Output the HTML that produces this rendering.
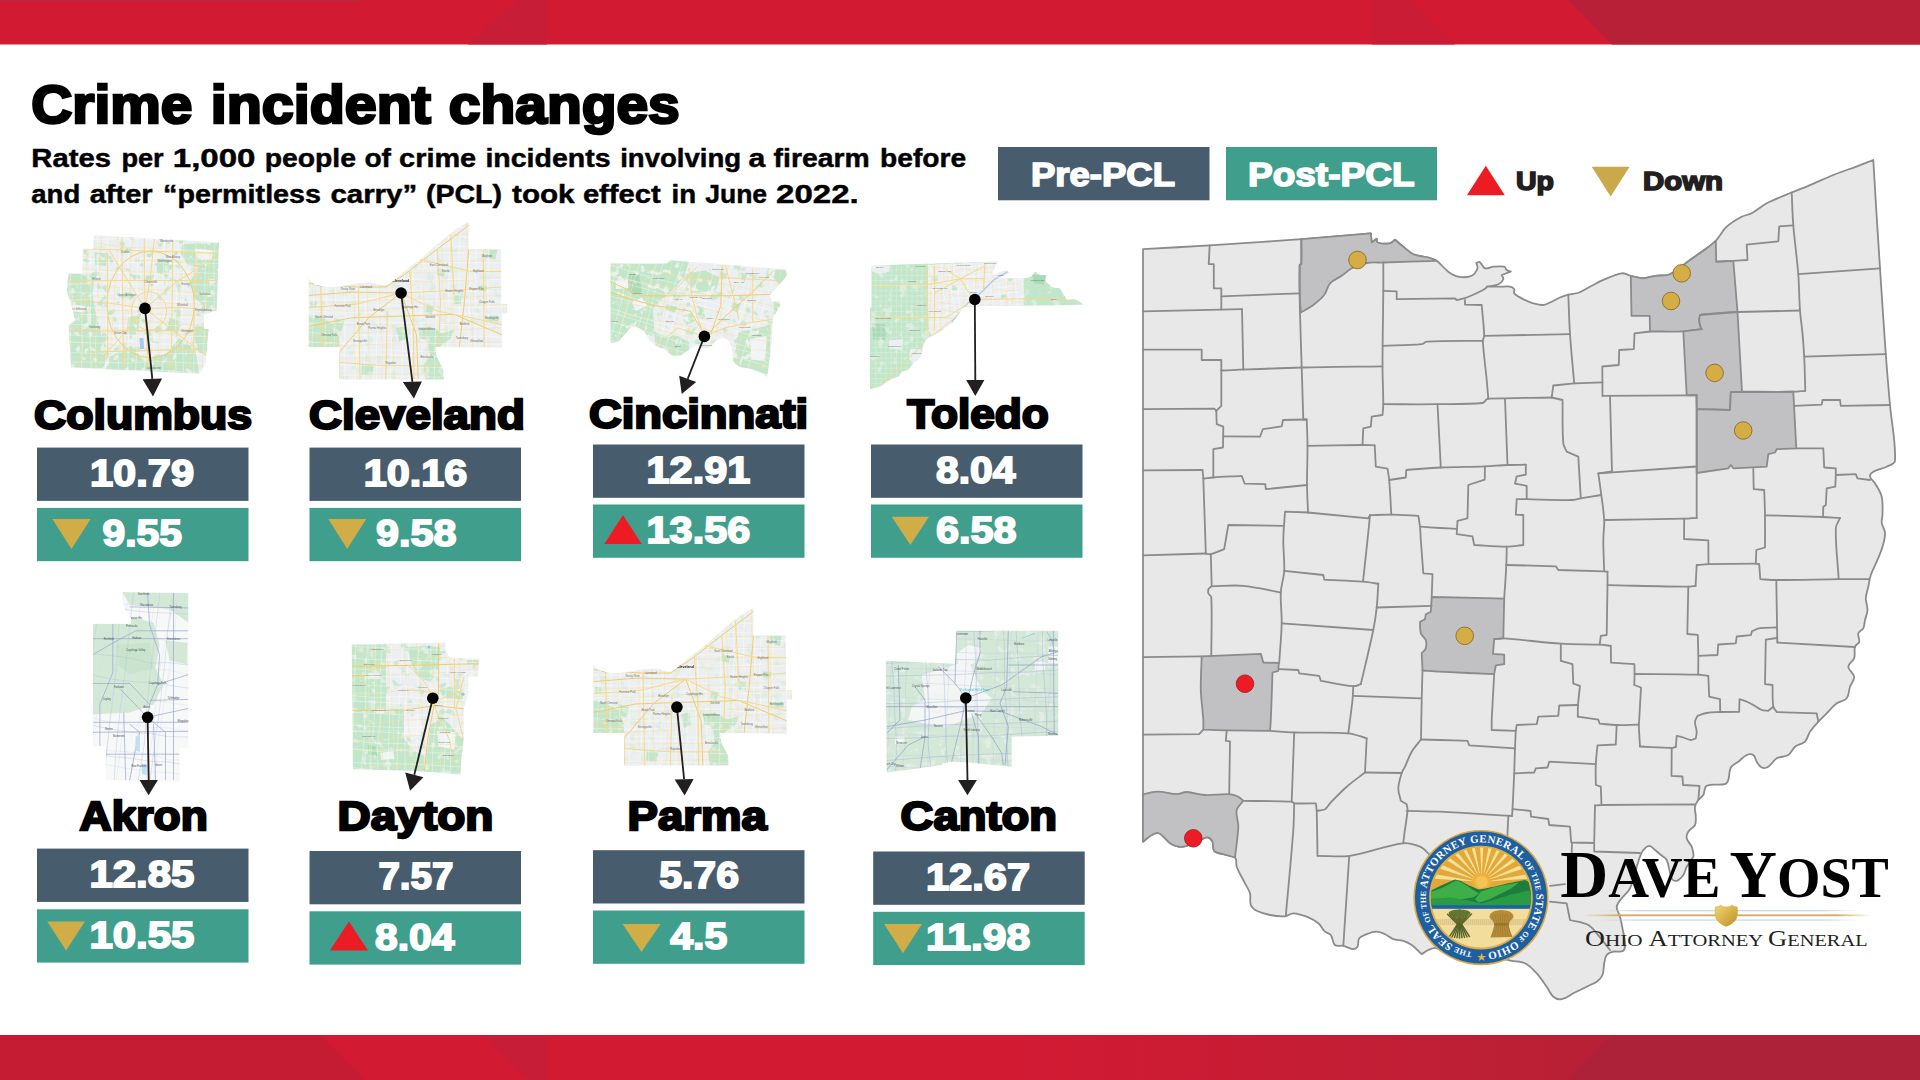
<!DOCTYPE html>
<html lang="en"><head><meta charset="utf-8"><title>Crime incident changes</title>
<style>
html,body{margin:0;padding:0;background:#fff;}
body{width:1920px;height:1080px;overflow:hidden;position:relative;font-family:"Liberation Sans",sans-serif;}
svg{position:absolute;left:0;top:0;display:block}
.h{font-family:"Liberation Sans",sans-serif;font-weight:700;fill:#000;stroke:#000;stroke-linejoin:miter;stroke-miterlimit:2.2;}
.w{font-family:"Liberation Sans",sans-serif;font-weight:700;fill:#fff;stroke:#fff;stroke-linejoin:miter;stroke-miterlimit:2.2;}
.s{font-family:"Liberation Sans",sans-serif;font-weight:700;fill:#000;stroke:#000;stroke-width:.45}
.co{fill:#e8e8e8;stroke:#8b8b8b;stroke-width:1.8;stroke-linejoin:round}
.cd{fill:#c1c1c3;stroke:#8b8b8b;stroke-width:1.8;stroke-linejoin:round}
.cl{fill:none;stroke:#8b8b8b;stroke-width:1.8;stroke-linejoin:round;stroke-linecap:round}
.dg{fill:#d6ad45;stroke:#7d6420;stroke-width:.8}
.dr{fill:#ed1c24;stroke:#9c1a1e;stroke-width:.8}
.ar{stroke:#231f20;stroke-width:1.8;fill:none}
.ah{fill:#231f20}
.serif{font-family:"Liberation Serif",serif}
</style></head><body>
<svg width="1920" height="1080" viewBox="0 0 1920 1080">
<defs>
<linearGradient id="gb" x1="0" x2="1" y1="0" y2="0"><stop offset="0" stop-color="#d31a33"/><stop offset=".52" stop-color="#d31a33"/><stop offset=".82" stop-color="#b92035"/><stop offset="1" stop-color="#b32137"/></linearGradient>
</defs>
<g id="bands">
<rect x="0" y="0" width="1920" height="44.5" fill="#d21a33"/>
<polygon points="0,0 360,0 360,1.5 0,1.5" fill="#b52a3c"/>
<polygon points="520,0 547,0 547,44.5 468,44.5" fill="#c81d36"/>
<polygon points="1372,0 1410,0 1455,44.5 1372,44.5" fill="#cb1c35"/>
<polygon points="1568,0 1920,0 1920,44.5 1612,44.5" fill="#b72036"/>
<rect x="0" y="1035" width="1920" height="45" fill="url(#gb)"/>
<polygon points="0,1035 320,1035 366,1080 0,1080" fill="#c51c34"/>
<polygon points="482,1035 547,1035 547,1080 528,1080" fill="#c81d36"/>
<polygon points="1612,1035 1920,1035 1920,1080 1568,1080" fill="#ad2238"/>
</g>
<g id="header">
<text class="h" y="122.9" font-size="54.5" stroke-width="2.7"><tspan x="31.3" textLength="161.0" lengthAdjust="spacingAndGlyphs">Crime</tspan> <tspan x="210.8" textLength="220.2" lengthAdjust="spacingAndGlyphs">incident</tspan> <tspan x="448.8" textLength="231.0" lengthAdjust="spacingAndGlyphs">changes</tspan></text>
<text class="s" y="167" font-size="25.5" stroke-width="0.7"><tspan x="31.3" textLength="79.6" lengthAdjust="spacingAndGlyphs">Rates</tspan> <tspan x="121.4" textLength="42.3" lengthAdjust="spacingAndGlyphs">per</tspan> <tspan x="172.8" textLength="82.7" lengthAdjust="spacingAndGlyphs">1,000</tspan> <tspan x="264.7" textLength="91.3" lengthAdjust="spacingAndGlyphs">people</tspan> <tspan x="364.4" textLength="26.6" lengthAdjust="spacingAndGlyphs">of</tspan> <tspan x="399.1" textLength="77.1" lengthAdjust="spacingAndGlyphs">crime</tspan> <tspan x="485.4" textLength="125.1" lengthAdjust="spacingAndGlyphs">incidents</tspan> <tspan x="620.2" textLength="121.0" lengthAdjust="spacingAndGlyphs">involving</tspan> <tspan x="748.6" textLength="16.8" lengthAdjust="spacingAndGlyphs">a</tspan> <tspan x="773.6" textLength="96.0" lengthAdjust="spacingAndGlyphs">firearm</tspan> <tspan x="880.1" textLength="86.1" lengthAdjust="spacingAndGlyphs">before</tspan></text>
<text class="s" y="203" font-size="25.5" stroke-width="0.7"><tspan x="31.3" textLength="48.9" lengthAdjust="spacingAndGlyphs">and</tspan> <tspan x="89.7" textLength="63.0" lengthAdjust="spacingAndGlyphs">after</tspan> <tspan x="163.1" textLength="157.9" lengthAdjust="spacingAndGlyphs">“permitless</tspan> <tspan x="330.4" textLength="86.8" lengthAdjust="spacingAndGlyphs">carry”</tspan> <tspan x="425.9" textLength="76.1" lengthAdjust="spacingAndGlyphs">(PCL)</tspan> <tspan x="512.0" textLength="62.6" lengthAdjust="spacingAndGlyphs">took</tspan> <tspan x="582.9" textLength="77.8" lengthAdjust="spacingAndGlyphs">effect</tspan> <tspan x="671.6" textLength="24.6" lengthAdjust="spacingAndGlyphs">in</tspan> <tspan x="705.2" textLength="61.9" lengthAdjust="spacingAndGlyphs">June</tspan> <tspan x="776.1" textLength="82.6" lengthAdjust="spacingAndGlyphs">2022.</tspan></text>
</g>
<g id="legend">
<rect x="998" y="147" width="211.5" height="53.3" fill="#475c6c"/>
<rect x="1226" y="147" width="211" height="53.3" fill="#409e8c"/>
<text class="w" x="1031.0" y="185.9" font-size="33.3" stroke-width="1.6" textLength="144.0" lengthAdjust="spacingAndGlyphs">Pre-PCL</text>
<text class="w" x="1248.0" y="185.9" font-size="33.3" stroke-width="1.6" textLength="166.5" lengthAdjust="spacingAndGlyphs">Post-PCL</text>
<polygon points="1485.8,165.8 1504.8,195.2 1466.9,195.2" fill="#ed1c24"/>
<polygon points="1591.7,166.7 1629.6,166.7 1610.7,196.4" fill="#cba84a"/>
<text class="h" x="1516.0" y="189.8" font-size="25.5" stroke-width="1.6" textLength="38.0" lengthAdjust="spacingAndGlyphs" style="fill:#231f20;stroke:#231f20">Up</text>
<text class="h" x="1643.0" y="189.8" font-size="25.5" stroke-width="1.6" textLength="80.0" lengthAdjust="spacingAndGlyphs" style="fill:#231f20;stroke:#231f20">Down</text>
</g>
<g id="cities">
<rect x="37" y="447.6" width="211.5" height="53.3" fill="#475c6c"/>
<rect x="37" y="507.9" width="211.5" height="53.3" fill="#409e8c"/>
<text class="h" x="34.0" y="428.8" font-size="40.4" stroke-width="2.3" textLength="218.2" lengthAdjust="spacingAndGlyphs">Columbus</text>
<text class="w" x="90.0" y="485.8" font-size="37.5" stroke-width="1.8" textLength="104.0" lengthAdjust="spacingAndGlyphs">10.79</text>
<text class="w" x="102.6" y="546.1" font-size="37.5" stroke-width="1.8" textLength="79.4" lengthAdjust="spacingAndGlyphs">9.55</text>
<polygon points="52.4,518.9 90.6,518.9 71.5,548.9" fill="#d1ad48"/>
<rect x="309.5" y="447.6" width="211.5" height="53.3" fill="#475c6c"/>
<rect x="309.5" y="507.9" width="211.5" height="53.3" fill="#409e8c"/>
<text class="h" x="309.0" y="428.8" font-size="40.4" stroke-width="2.3" textLength="215.8" lengthAdjust="spacingAndGlyphs">Cleveland</text>
<text class="w" x="363.8" y="485.8" font-size="37.5" stroke-width="1.8" textLength="103.6" lengthAdjust="spacingAndGlyphs">10.16</text>
<text class="w" x="376.0" y="546.1" font-size="37.5" stroke-width="1.8" textLength="80.4" lengthAdjust="spacingAndGlyphs">9.58</text>
<polygon points="328.3,518.9 366.2,518.9 347.2,548.9" fill="#d1ad48"/>
<rect x="593" y="444.5" width="211.5" height="53.3" fill="#475c6c"/>
<rect x="593" y="504.5" width="211.5" height="53.3" fill="#409e8c"/>
<text class="h" x="589.0" y="427.85" font-size="40.4" stroke-width="2.3" textLength="219.2" lengthAdjust="spacingAndGlyphs">Cincinnati</text>
<text class="w" x="646.6" y="482.7" font-size="37.5" stroke-width="1.8" textLength="103.6" lengthAdjust="spacingAndGlyphs">12.91</text>
<text class="w" x="646.6" y="542.7" font-size="37.5" stroke-width="1.8" textLength="103.6" lengthAdjust="spacingAndGlyphs">13.56</text>
<polygon points="623.0,515 641.7,544 604.3,544" fill="#ed1c24"/>
<rect x="871" y="444.5" width="211.5" height="53.3" fill="#475c6c"/>
<rect x="871" y="504.5" width="211.5" height="53.3" fill="#409e8c"/>
<text class="h" x="907.2" y="427.85" font-size="40.4" stroke-width="2.3" textLength="141.6" lengthAdjust="spacingAndGlyphs">Toledo</text>
<text class="w" x="936.0" y="482.7" font-size="37.5" stroke-width="1.8" textLength="79.4" lengthAdjust="spacingAndGlyphs">8.04</text>
<text class="w" x="936.0" y="542.7" font-size="37.5" stroke-width="1.8" textLength="80.4" lengthAdjust="spacingAndGlyphs">6.58</text>
<polygon points="891.7,516.7 929,516.7 910.4,545" fill="#d1ad48"/>
<rect x="37" y="848.6" width="211.5" height="53.3" fill="#475c6c"/>
<rect x="37" y="909.3" width="211.5" height="53.3" fill="#409e8c"/>
<text class="h" x="79.6" y="829.9" font-size="40.4" stroke-width="2.3" textLength="128.2" lengthAdjust="spacingAndGlyphs">Akron</text>
<text class="w" x="89.4" y="886.8000000000001" font-size="37.5" stroke-width="1.8" textLength="105.0" lengthAdjust="spacingAndGlyphs">12.85</text>
<text class="w" x="89.4" y="947.5" font-size="37.5" stroke-width="1.8" textLength="105.0" lengthAdjust="spacingAndGlyphs">10.55</text>
<polygon points="47.2,921.4 84.9,921.4 66.1,950.5" fill="#d1ad48"/>
<rect x="309.5" y="851" width="211.5" height="53.3" fill="#475c6c"/>
<rect x="309.5" y="911.3" width="211.5" height="53.3" fill="#409e8c"/>
<text class="h" x="337.6" y="829.9" font-size="40.4" stroke-width="2.3" textLength="155.8" lengthAdjust="spacingAndGlyphs">Dayton</text>
<text class="w" x="378.4" y="889.2" font-size="37.5" stroke-width="1.8" textLength="75.0" lengthAdjust="spacingAndGlyphs">7.57</text>
<text class="w" x="375.0" y="949.5" font-size="37.5" stroke-width="1.8" textLength="79.4" lengthAdjust="spacingAndGlyphs">8.04</text>
<polygon points="348.9,921.4 368,950.5 329.9,950.5" fill="#ed1c24"/>
<rect x="593" y="850.2" width="211.5" height="53.3" fill="#475c6c"/>
<rect x="593" y="910.5" width="211.5" height="53.3" fill="#409e8c"/>
<text class="h" x="627.6" y="829.9" font-size="40.4" stroke-width="2.3" textLength="139.2" lengthAdjust="spacingAndGlyphs">Parma</text>
<text class="w" x="659.2" y="888.4000000000001" font-size="37.5" stroke-width="1.8" textLength="79.8" lengthAdjust="spacingAndGlyphs">5.76</text>
<text class="w" x="670.2" y="948.7" font-size="37.5" stroke-width="1.8" textLength="57.0" lengthAdjust="spacingAndGlyphs">4.5</text>
<polygon points="622.5,924 660.6,924 641.5,952" fill="#d1ad48"/>
<rect x="873.2" y="851.5" width="211.5" height="53.3" fill="#475c6c"/>
<rect x="873.2" y="911.8" width="211.5" height="53.3" fill="#409e8c"/>
<text class="h" x="900.6" y="829.9" font-size="40.4" stroke-width="2.3" textLength="156.4" lengthAdjust="spacingAndGlyphs">Canton</text>
<text class="w" x="926.0" y="889.7" font-size="37.5" stroke-width="1.8" textLength="104.0" lengthAdjust="spacingAndGlyphs">12.67</text>
<text class="w" x="926.0" y="950.0" font-size="37.5" stroke-width="1.8" textLength="104.2" lengthAdjust="spacingAndGlyphs">11.98</text>
<polygon points="884.1,924 921.9,924 903.0,953.2" fill="#d1ad48"/>
</g>
<defs><filter id="sb" x="-5%" y="-5%" width="110%" height="110%"><feGaussianBlur stdDeviation="0.5"/></filter>
<filter id="spk" x="0" y="0" width="100%" height="100%" color-interpolation-filters="sRGB"><feTurbulence type="fractalNoise" baseFrequency="0.11" numOctaves="2" seed="7" result="n"/><feColorMatrix in="n" type="matrix" values="0 0 0 0 0.76  0 0 0 0 0.90  0 0 0 0 0.79  0 0 0 9 -5.3" result="g"/><feComposite in="g" in2="SourceGraphic" operator="in"/></filter>
<filter id="spw" x="0" y="0" width="100%" height="100%" color-interpolation-filters="sRGB"><feTurbulence type="fractalNoise" baseFrequency="0.13" numOctaves="2" seed="23" result="n"/><feColorMatrix in="n" type="matrix" values="0 0 0 0 0.94  0 0 0 0 0.95  0 0 0 0 0.95  0 0 0 9 -5.4" result="g"/><feComposite in="g" in2="SourceGraphic" operator="in"/></filter>
</defs>
<g id="thumbs">
<clipPath id="ccol"><path d="M94.0 235.2L219.1 242.3L216.7 310.8L203.9 314.8L203.9 328.4L208.7 329.1C207.9 337.9 207.1 346.7 206.3 355.4C206.1 358.1 206.5 360.9 205.5 363.4C204.0 367.2 201.3 370.3 199.2 373.7L70.9 367.4L68.5 325.2L74.9 320.4C73.6 314.5 72.5 308.6 70.9 302.9C69.9 299.1 67.3 295.6 66.9 291.7C66.5 285.6 68.0 279.5 68.5 273.4L82.1 273.4L82.9 248.7L93.2 248.7L94.0 235.2Z"/></clipPath>
<g id="tcol" clip-path="url(#ccol)"><g filter="url(#sb)">
<polygon points="94.0,235.2 219.1,242.3 216.7,310.8 203.9,314.8 203.9,328.4 208.7,329.1 206.3,355.4 205.5,363.4 199.2,373.7 70.9,367.4 68.5,325.2 74.9,320.4 70.9,302.9 66.9,291.7 68.5,273.4 82.1,273.4 82.9,248.7 93.2,248.7" fill="#eceff1" stroke="#eceff1" stroke-width="3"/>
<rect x="66.9" y="235.2" width="152.1" height="138.6" filter="url(#spk)" opacity="0.9"/>
<polygon points="68.5,273.4 94.8,273.4 92.4,294.9 96.4,317.2 102.8,339.5 109.2,353.8 102.8,368.2 70.9,367.4 68.5,325.2 74.9,320.4 70.9,302.9 66.9,291.7" fill="#c2e6c9"/>
<polygon points="182.4,243.9 219.1,242.7 217.2,310.8 206.3,309.2 193.6,296.5 190.4,280.6 199.2,267.8 187.2,264.6 180.8,253.5" fill="#c2e6c9"/>
<polygon points="109.2,357.0 131.5,345.9 144.2,361.8 166.5,353.8 179.2,337.9 195.2,349.1 199.2,373.7 109.2,369.4" fill="#c2e6c9"/>
<polygon points="195.2,323.6 208.7,329.1 206.3,355.4 198.4,350.7 193.6,336.3" fill="#c2e6c9"/>
<polygon points="156.9,256.7 169.7,259.9 166.5,275.8 156.9,272.6" fill="#c2e6c9"/>
<polygon points="128.3,317.2 141.0,314.0 137.8,329.9 126.7,329.9" fill="#c2e6c9"/>
<polygon points="94.8,251.9 107.6,253.5 106.0,266.2 94.8,264.6" fill="#c2e6c9"/>
<polygon points="169.7,317.2 180.8,323.6 176.1,337.9 166.5,331.5" fill="#c2e6c9"/>
<polygon points="71.7,304.5 85.3,306.1 84.5,312.4 72.5,311.6" fill="#f1f3f4"/>
<polygon points="195.2,248.7 212.7,250.3 211.9,259.9 196.8,258.3" fill="#f1f3f4"/>
<rect x="66.9" y="235.2" width="152.1" height="138.6" filter="url(#spw)" opacity="0.8"/>
<polyline points="73.9,235.2 72.5,262.9 70.5,290.6 67.0,318.3 64.9,346.0 64.9,373.7" fill="none" stroke="#f5e1a6" stroke-width="0.5" stroke-linejoin="round"/>
<polyline points="66.9,241.2 97.4,243.4 127.8,247.5 158.2,248.4 188.6,251.6 219.1,252.9" fill="none" stroke="#f5e1a6" stroke-width="0.5" stroke-linejoin="round"/>
<polyline points="88.0,235.2 87.2,262.9 85.7,290.6 82.8,318.3 81.3,346.0 79.1,373.7" fill="none" stroke="#f5e1a6" stroke-width="0.5" stroke-linejoin="round"/>
<polyline points="66.9,254.0 97.4,258.0 127.8,259.8 158.2,261.3 188.6,262.8 219.1,267.2" fill="none" stroke="#f5e1a6" stroke-width="0.5" stroke-linejoin="round"/>
<polyline points="101.9,235.2 100.2,262.9 97.8,290.6 96.3,318.3 92.9,346.0 91.9,373.7" fill="none" stroke="#f5e1a6" stroke-width="0.5" stroke-linejoin="round"/>
<polyline points="66.9,266.3 97.4,269.8 127.8,271.9 158.2,272.1 188.6,274.5 219.1,276.9" fill="none" stroke="#f5e1a6" stroke-width="0.5" stroke-linejoin="round"/>
<polyline points="119.0,235.2 117.5,262.9 114.6,290.6 113.1,318.3 110.8,346.0 108.7,373.7" fill="none" stroke="#f5e1a6" stroke-width="0.5" stroke-linejoin="round"/>
<polyline points="66.9,283.0 97.4,285.2 127.8,288.3 158.2,289.9 188.6,292.8 219.1,294.8" fill="none" stroke="#f5e1a6" stroke-width="0.5" stroke-linejoin="round"/>
<polyline points="133.7,235.2 130.4,262.9 130.1,290.6 128.3,318.3 126.2,346.0 123.3,373.7" fill="none" stroke="#f5e1a6" stroke-width="0.5" stroke-linejoin="round"/>
<polyline points="66.9,296.1 97.4,297.1 127.8,300.9 158.2,302.4 188.6,303.9 219.1,305.6" fill="none" stroke="#f5e1a6" stroke-width="0.5" stroke-linejoin="round"/>
<polyline points="147.2,235.2 142.9,262.9 142.6,290.6 139.6,318.3 136.9,346.0 135.3,373.7" fill="none" stroke="#f5e1a6" stroke-width="0.5" stroke-linejoin="round"/>
<polyline points="66.9,307.8 97.4,310.3 127.8,310.4 158.2,314.1 188.6,314.9 219.1,318.8" fill="none" stroke="#f5e1a6" stroke-width="0.5" stroke-linejoin="round"/>
<polyline points="156.4,235.2 154.6,262.9 151.4,290.6 150.6,318.3 146.8,346.0 144.2,373.7" fill="none" stroke="#f5e1a6" stroke-width="0.5" stroke-linejoin="round"/>
<polyline points="66.9,316.0 97.4,316.8 127.8,319.5 158.2,322.2 188.6,325.0 219.1,326.1" fill="none" stroke="#f5e1a6" stroke-width="0.5" stroke-linejoin="round"/>
<polyline points="167.8,235.2 164.4,262.9 164.0,290.6 161.8,318.3 158.4,346.0 156.6,373.7" fill="none" stroke="#f5e1a6" stroke-width="0.5" stroke-linejoin="round"/>
<polyline points="66.9,326.2 97.4,328.8 127.8,330.9 158.2,333.0 188.6,335.4 219.1,338.5" fill="none" stroke="#f5e1a6" stroke-width="0.5" stroke-linejoin="round"/>
<polyline points="184.4,235.2 183.1,262.9 179.8,290.6 177.9,318.3 177.6,346.0 174.4,373.7" fill="none" stroke="#f5e1a6" stroke-width="0.5" stroke-linejoin="round"/>
<polyline points="66.9,342.4 97.4,343.3 127.8,346.5 158.2,349.2 188.6,350.0 219.1,353.8" fill="none" stroke="#f5e1a6" stroke-width="0.5" stroke-linejoin="round"/>
<polyline points="198.3,235.2 197.7,262.9 195.3,290.6 193.8,318.3 190.9,346.0 189.8,373.7" fill="none" stroke="#f5e1a6" stroke-width="0.5" stroke-linejoin="round"/>
<polyline points="66.9,356.5 97.4,356.9 127.8,359.2 158.2,363.0 188.6,366.0 219.1,366.4" fill="none" stroke="#f5e1a6" stroke-width="0.5" stroke-linejoin="round"/>
<polyline points="212.0,235.2 209.3,262.9 207.4,290.6 205.2,318.3 203.3,346.0 201.9,373.7" fill="none" stroke="#f5e1a6" stroke-width="0.5" stroke-linejoin="round"/>
<polyline points="66.9,366.6 97.4,369.0 127.8,372.3 158.2,372.6 188.6,376.2 219.1,378.9" fill="none" stroke="#f5e1a6" stroke-width="0.5" stroke-linejoin="round"/>
<polyline points="70.1,235.2 71.6,262.9 69.1,290.6 70.1,318.3 70.8,346.0 68.5,373.7" fill="none" stroke="#ffffff" stroke-width="0.35" stroke-linejoin="round"/>
<polyline points="66.9,239.0 97.4,239.5 127.8,238.3 158.2,239.5 188.6,240.6 219.1,240.3" fill="none" stroke="#ffffff" stroke-width="0.35" stroke-linejoin="round"/>
<polyline points="81.6,235.2 81.5,262.9 80.9,290.6 81.6,318.3 82.4,346.0 81.3,373.7" fill="none" stroke="#ffffff" stroke-width="0.35" stroke-linejoin="round"/>
<polyline points="66.9,250.0 97.4,249.3 127.8,250.6 158.2,249.3 188.6,250.1 219.1,251.3" fill="none" stroke="#ffffff" stroke-width="0.35" stroke-linejoin="round"/>
<polyline points="91.8,235.2 90.7,262.9 90.8,290.6 90.4,318.3 90.3,346.0 91.4,373.7" fill="none" stroke="#ffffff" stroke-width="0.35" stroke-linejoin="round"/>
<polyline points="66.9,257.2 97.4,259.3 127.8,259.6 158.2,257.8 188.6,258.9 219.1,259.5" fill="none" stroke="#ffffff" stroke-width="0.35" stroke-linejoin="round"/>
<polyline points="97.3,235.2 98.3,262.9 95.9,290.6 96.9,318.3 95.4,346.0 96.3,373.7" fill="none" stroke="#ffffff" stroke-width="0.35" stroke-linejoin="round"/>
<polyline points="66.9,264.0 97.4,262.6 127.8,262.4 158.2,262.9 188.6,264.4 219.1,263.3" fill="none" stroke="#ffffff" stroke-width="0.35" stroke-linejoin="round"/>
<polyline points="107.4,235.2 108.1,262.9 106.6,290.6 106.2,318.3 106.6,346.0 104.9,373.7" fill="none" stroke="#ffffff" stroke-width="0.35" stroke-linejoin="round"/>
<polyline points="66.9,272.2 97.4,271.5 127.8,272.9 158.2,274.1 188.6,272.1 219.1,273.7" fill="none" stroke="#ffffff" stroke-width="0.35" stroke-linejoin="round"/>
<polyline points="119.0,235.2 119.0,262.9 120.5,290.6 120.3,318.3 117.7,346.0 118.9,373.7" fill="none" stroke="#ffffff" stroke-width="0.35" stroke-linejoin="round"/>
<polyline points="66.9,284.5 97.4,283.0 127.8,284.3 158.2,283.1 188.6,284.3 219.1,285.4" fill="none" stroke="#ffffff" stroke-width="0.35" stroke-linejoin="round"/>
<polyline points="130.0,235.2 127.9,262.9 128.3,290.6 129.3,318.3 128.3,346.0 127.7,373.7" fill="none" stroke="#ffffff" stroke-width="0.35" stroke-linejoin="round"/>
<polyline points="66.9,291.7 97.4,293.5 127.8,292.8 158.2,291.7 188.6,294.0 219.1,293.1" fill="none" stroke="#ffffff" stroke-width="0.35" stroke-linejoin="round"/>
<polyline points="137.1,235.2 137.4,262.9 136.9,290.6 136.0,318.3 137.1,346.0 135.4,373.7" fill="none" stroke="#ffffff" stroke-width="0.35" stroke-linejoin="round"/>
<polyline points="66.9,300.5 97.4,298.9 127.8,301.1 158.2,301.5 188.6,301.0 219.1,301.9" fill="none" stroke="#ffffff" stroke-width="0.35" stroke-linejoin="round"/>
<polyline points="146.9,235.2 145.8,262.9 145.1,290.6 146.6,318.3 144.9,346.0 144.6,373.7" fill="none" stroke="#ffffff" stroke-width="0.35" stroke-linejoin="round"/>
<polyline points="66.9,308.4 97.4,307.5 127.8,308.5 158.2,307.6 188.6,309.6 219.1,308.4" fill="none" stroke="#ffffff" stroke-width="0.35" stroke-linejoin="round"/>
<polyline points="155.9,235.2 153.6,262.9 155.3,290.6 155.1,318.3 153.8,346.0 152.0,373.7" fill="none" stroke="#ffffff" stroke-width="0.35" stroke-linejoin="round"/>
<polyline points="66.9,314.0 97.4,314.7 127.8,315.5 158.2,316.3 188.6,317.6 219.1,316.3" fill="none" stroke="#ffffff" stroke-width="0.35" stroke-linejoin="round"/>
<polyline points="164.9,235.2 163.5,262.9 163.1,290.6 164.0,318.3 164.1,346.0 162.2,373.7" fill="none" stroke="#ffffff" stroke-width="0.35" stroke-linejoin="round"/>
<polyline points="66.9,324.1 97.4,325.1 127.8,325.5 158.2,324.9 188.6,326.5 219.1,325.0" fill="none" stroke="#ffffff" stroke-width="0.35" stroke-linejoin="round"/>
<polyline points="178.2,235.2 178.2,262.9 176.9,290.6 175.6,318.3 175.2,346.0 176.2,373.7" fill="none" stroke="#ffffff" stroke-width="0.35" stroke-linejoin="round"/>
<polyline points="66.9,335.1 97.4,336.5 127.8,335.5 158.2,337.5 188.6,336.4 219.1,336.2" fill="none" stroke="#ffffff" stroke-width="0.35" stroke-linejoin="round"/>
<polyline points="183.8,235.2 183.8,262.9 183.1,290.6 182.2,318.3 182.7,346.0 183.6,373.7" fill="none" stroke="#ffffff" stroke-width="0.35" stroke-linejoin="round"/>
<polyline points="66.9,341.8 97.4,343.2 127.8,341.2 158.2,343.9 188.6,344.0 219.1,343.4" fill="none" stroke="#ffffff" stroke-width="0.35" stroke-linejoin="round"/>
<polyline points="195.5,235.2 196.2,262.9 193.8,290.6 194.9,318.3 194.4,346.0 193.5,373.7" fill="none" stroke="#ffffff" stroke-width="0.35" stroke-linejoin="round"/>
<polyline points="66.9,352.8 97.4,353.1 127.8,351.8 158.2,353.7 188.6,353.4 219.1,353.8" fill="none" stroke="#ffffff" stroke-width="0.35" stroke-linejoin="round"/>
<polyline points="204.4,235.2 205.6,262.9 204.7,290.6 205.7,318.3 203.8,346.0 205.0,373.7" fill="none" stroke="#ffffff" stroke-width="0.35" stroke-linejoin="round"/>
<polyline points="66.9,362.1 97.4,362.1 127.8,363.1 158.2,361.2 188.6,363.0 219.1,363.3" fill="none" stroke="#ffffff" stroke-width="0.35" stroke-linejoin="round"/>
<polyline points="215.1,235.2 213.9,262.9 214.0,290.6 214.7,318.3 213.4,346.0 212.8,373.7" fill="none" stroke="#ffffff" stroke-width="0.35" stroke-linejoin="round"/>
<polyline points="66.9,370.0 97.4,370.6 127.8,371.1 158.2,370.1 188.6,372.3 219.1,371.5" fill="none" stroke="#ffffff" stroke-width="0.35" stroke-linejoin="round"/>
<polyline points="194.4,304.5 193.3,316.3 190.0,327.6 184.8,337.7 177.9,346.2 169.6,352.5 160.3,356.5 150.6,357.8 140.8,356.5 131.6,352.5 123.3,346.2 116.3,337.7 111.1,327.6 107.9,316.3 106.8,304.5 107.9,292.6 111.1,281.3 116.3,271.2 123.3,262.7 131.6,256.4 140.8,252.4 150.6,251.1 160.3,252.4 169.6,256.4 177.9,262.7 184.8,271.2 190.0,281.3 193.3,292.6 194.4,304.5" fill="none" stroke="#f3cd6b" stroke-width="1.0" stroke-linejoin="round"/>
<polyline points="166.5,310.8 166.1,315.1 164.8,319.1 162.7,322.7 159.9,325.8 156.6,328.1 152.9,329.5 149.0,329.9 145.1,329.5 141.4,328.1 138.1,325.8 135.3,322.7 133.2,319.1 131.9,315.1 131.5,310.8 131.9,306.6 133.2,302.5 135.3,298.9 138.1,295.9 141.4,293.6 145.1,292.2 149.0,291.7 152.9,292.2 156.6,293.6 159.9,295.9 162.7,298.9 164.8,302.5 166.1,306.6 166.5,310.8" fill="none" stroke="#f6d98a" stroke-width="1.0" stroke-linejoin="round"/>
<polyline points="145.0,308.4 144.2,236.0" fill="none" stroke="#f6d98a" stroke-width="1.0" stroke-linejoin="round"/>
<polyline points="145.0,308.4 150.6,275.8 154.6,236.0" fill="none" stroke="#f6d98a" stroke-width="1.0" stroke-linejoin="round"/>
<polyline points="145.0,308.4 107.6,302.9 70.9,301.3" fill="none" stroke="#f6d98a" stroke-width="1.0" stroke-linejoin="round"/>
<polyline points="145.0,308.4 182.4,307.6 216.2,310.8" fill="none" stroke="#f6d98a" stroke-width="1.0" stroke-linejoin="round"/>
<polyline points="145.0,308.4 118.7,339.5 93.2,366.6" fill="none" stroke="#f6d98a" stroke-width="1.0" stroke-linejoin="round"/>
<polyline points="145.0,308.4 176.1,333.1 205.5,355.4" fill="none" stroke="#f6d98a" stroke-width="1.0" stroke-linejoin="round"/>
<polyline points="145.0,308.4 146.6,339.5 149.0,370.6" fill="none" stroke="#f6d98a" stroke-width="1.0" stroke-linejoin="round"/>
<polyline points="145.0,308.4 126.7,279.0 109.2,250.3" fill="none" stroke="#f6d98a" stroke-width="1.0" stroke-linejoin="round"/>
<polyline points="145.0,308.4 176.1,282.2 217.5,255.9" fill="none" stroke="#f6d98a" stroke-width="1.0" stroke-linejoin="round"/>
<polyline points="83.7,248.7 218.3,253.5" fill="none" stroke="#f6d98a" stroke-width="1.0" stroke-linejoin="round"/>
<polyline points="107.6,251.9 107.6,355.4" fill="none" stroke="#f6d98a" stroke-width="1.0" stroke-linejoin="round"/>
<polyline points="195.2,259.9 193.6,355.4" fill="none" stroke="#f6d98a" stroke-width="1.0" stroke-linejoin="round"/>
<polyline points="70.9,331.5 206.3,329.9" fill="none" stroke="#f6d98a" stroke-width="1.0" stroke-linejoin="round"/>
<polyline points="121.9,237.6 123.5,368.2" fill="none" stroke="#f6d98a" stroke-width="1.0" stroke-linejoin="round"/>
<polyline points="172.9,240.7 171.3,371.4" fill="none" stroke="#f6d98a" stroke-width="1.0" stroke-linejoin="round"/>
<polyline points="70.9,280.6 216.7,280.6" fill="none" stroke="#f6d98a" stroke-width="1.0" stroke-linejoin="round"/>
<polyline points="86.9,352.2 198.4,349.1" fill="none" stroke="#f6d98a" stroke-width="1.0" stroke-linejoin="round"/>
<polygon points="139.4,337.9 143.4,337.9 144.2,349.1 140.2,349.1" fill="#a9c9f2"/>
</g><text x="166.5" y="242.3" text-anchor="middle" font-family="Liberation Sans" font-size="2.7" fill="#6b6f73">Westerville</text><text x="125.1" y="252.7" text-anchor="middle" font-family="Liberation Sans" font-size="2.7" fill="#6b6f73">Dublin</text><text x="172.9" y="257.5" text-anchor="middle" font-family="Liberation Sans" font-size="2.7" fill="#6b6f73">New Albany</text><text x="96.4" y="279.8" text-anchor="middle" font-family="Liberation Sans" font-size="2.7" fill="#6b6f73">Hilliard</text><text x="204.7" y="294.9" text-anchor="middle" font-family="Liberation Sans" font-size="2.7" fill="#6b6f73">Gahanna</text><text x="126.7" y="295.7" text-anchor="middle" font-family="Liberation Sans" font-size="2.7" fill="#6b6f73">Upper Arlington</text><text x="182.4" y="306.1" text-anchor="middle" font-family="Liberation Sans" font-size="2.7" fill="#6b6f73">Whitehall</text><text x="203.1" y="310.8" text-anchor="middle" font-family="Liberation Sans" font-size="2.7" fill="#6b6f73">Reynoldsburg</text><text x="94.8" y="327.6" text-anchor="middle" font-family="Liberation Sans" font-size="2.7" fill="#6b6f73">Galloway</text><text x="120.3" y="333.9" text-anchor="middle" font-family="Liberation Sans" font-size="2.7" fill="#6b6f73">Grove City</text><text x="187.2" y="331.5" text-anchor="middle" font-family="Liberation Sans" font-size="2.7" fill="#6b6f73">Groveport</text><text x="77.3" y="310.0" text-anchor="middle" font-family="Liberation Sans" font-size="2.7" fill="#6b6f73">West Jefferson</text><text x="153.8" y="369.0" text-anchor="middle" font-family="Liberation Sans" font-size="2.7" fill="#6b6f73">Lockbourne</text><text x="164.9" y="262.2" text-anchor="middle" font-family="Liberation Sans" font-size="2.7" fill="#6b6f73">Worthington</text><text x="150.6" y="283.0" text-anchor="middle" font-family="Liberation Sans" font-size="2.7" fill="#6b6f73">Clintonville</text><text x="185.6" y="285.3" text-anchor="middle" font-family="Liberation Sans" font-size="2.7" fill="#6b6f73">Easton</text></g>
<line class="ar" x1="145.0" y1="308.4" x2="152.3" y2="378.9" stroke-width="1.9"/>
<polygon class="ah" points="142.6,379.3 162.0,378.5 153.0,396.5"/>
<circle cx="145.0" cy="308.4" r="5.8" fill="#000"/>
<clipPath id="ccle"><path d="M308.6 278.4C310.9 280.4 312.5 283.4 315.4 284.4C321.4 286.4 327.9 287.1 334.3 287.0C341.8 286.8 349.1 284.4 356.5 283.5C361.7 283.0 366.8 282.4 372.0 282.7C376.6 283.0 381.1 286.1 385.7 285.3C389.7 284.5 392.7 280.9 396.0 278.4C399.5 275.7 402.7 272.6 406.2 269.8C410.7 266.3 415.5 263.2 419.9 259.6C425.3 255.2 430.1 250.3 435.4 245.8C441.6 240.6 447.6 235.2 454.2 230.4C458.8 227.1 463.9 224.7 468.8 221.9L468.8 249.3L501.3 249.3L501.3 304.1L507.3 304.1L507.3 313.5L502.2 313.5L502.2 347.8L435.4 346.9C435.9 350.4 435.9 353.9 437.1 357.2C438.5 361.4 441.8 364.9 443.1 369.2C444.1 372.5 443.6 376.1 443.9 379.5L339.4 379.5L339.4 346.9L308.6 346.9L308.6 278.4Z"/></clipPath>
<g id="tcle" clip-path="url(#ccle)"><g filter="url(#sb)">
<polygon points="308.6,278.4 315.4,284.4 334.3,287.0 356.5,283.5 372.0,282.7 385.7,285.3 396.0,278.4 406.2,269.8 419.9,259.6 435.4,245.8 454.2,230.4 468.8,221.9 468.8,249.3 501.3,249.3 501.3,304.1 507.3,304.1 507.3,313.5 502.2,313.5 502.2,347.8 435.4,346.9 437.1,357.2 443.1,369.2 443.9,379.5 339.4,379.5 339.4,346.9 308.6,346.9" fill="#eceff1" stroke="#eceff1" stroke-width="3"/>
<rect x="308.6" y="221.9" width="198.8" height="157.6" filter="url(#spk)" opacity="0.3"/>
<polygon points="308.6,314.4 322.3,317.8 334.3,324.7 339.4,338.4 339.4,346.9 308.6,346.9" fill="#c2e6c9"/>
<polygon points="418.2,328.1 430.2,326.4 442.2,333.2 454.2,329.8 450.8,338.4 437.1,348.7 435.4,346.9 437.1,357.2 443.1,369.2 443.9,379.5 425.1,379.5 423.4,365.8 430.2,355.5 426.8,340.1 419.9,338.4" fill="#c2e6c9"/>
<polygon points="334.3,317.8 344.6,321.2 341.1,331.5 332.6,328.1" fill="#c2e6c9"/>
<polygon points="361.7,364.1 373.7,365.8 372.0,376.1 361.7,374.4" fill="#c2e6c9"/>
<polygon points="485.1,249.3 497.1,250.1 495.3,259.6 485.9,257.8" fill="#c2e6c9"/>
<polygon points="478.2,285.3 486.8,286.1 485.9,292.1 478.2,291.3" fill="#c2e6c9"/>
<polygon points="486.8,316.1 498.8,316.1 498.8,321.2 487.6,321.2" fill="#c2e6c9"/>
<polygon points="454.2,295.5 461.1,295.5 461.1,304.1 454.2,304.1" fill="#c2e6c9"/>
<polygon points="396.0,328.1 404.5,326.4 406.2,338.4 399.4,341.8" fill="#c2e6c9"/>
<polygon points="426.8,304.1 433.7,305.8 431.9,314.4 425.9,312.7" fill="#c2e6c9"/>
<polygon points="437.1,268.1 445.6,269.8 443.9,276.7 437.1,275.0" fill="#c2e6c9"/>
<polygon points="310.3,300.7 317.1,301.5 316.3,307.5 310.3,306.7" fill="#c2e6c9"/>
<rect x="308.6" y="221.9" width="198.8" height="157.6" filter="url(#spw)" opacity="0.5"/>
<polyline points="319.2,221.9 320.7,253.4 321.3,284.9 322.8,316.4 321.5,348.0 323.7,379.5" fill="none" stroke="#f5e1a6" stroke-width="0.5" stroke-linejoin="round"/>
<polyline points="308.6,230.9 348.3,228.7 388.1,228.0 427.8,224.5 467.6,224.1 507.3,222.2" fill="none" stroke="#f5e1a6" stroke-width="0.5" stroke-linejoin="round"/>
<polyline points="332.1,221.9 331.7,253.4 333.3,284.9 334.5,316.4 337.4,348.0 338.0,379.5" fill="none" stroke="#f5e1a6" stroke-width="0.5" stroke-linejoin="round"/>
<polyline points="308.6,239.4 348.3,239.8 388.1,236.6 427.8,236.6 467.6,233.9 507.3,232.2" fill="none" stroke="#f5e1a6" stroke-width="0.5" stroke-linejoin="round"/>
<polyline points="349.4,221.9 350.5,253.4 353.7,284.9 354.5,316.4 354.0,348.0 356.9,379.5" fill="none" stroke="#f5e1a6" stroke-width="0.5" stroke-linejoin="round"/>
<polyline points="308.6,255.0 348.3,254.0 388.1,251.3 427.8,252.0 467.6,249.9 507.3,249.3" fill="none" stroke="#f5e1a6" stroke-width="0.5" stroke-linejoin="round"/>
<polyline points="365.1,221.9 366.4,253.4 366.9,284.9 368.0,316.4 368.8,348.0 370.6,379.5" fill="none" stroke="#f5e1a6" stroke-width="0.5" stroke-linejoin="round"/>
<polyline points="308.6,267.4 348.3,264.4 388.1,264.9 427.8,262.6 467.6,261.2 507.3,261.2" fill="none" stroke="#f5e1a6" stroke-width="0.5" stroke-linejoin="round"/>
<polyline points="376.7,221.9 378.2,253.4 379.9,284.9 379.2,316.4 382.8,348.0 381.3,379.5" fill="none" stroke="#f5e1a6" stroke-width="0.5" stroke-linejoin="round"/>
<polyline points="308.6,277.0 348.3,275.9 388.1,272.2 427.8,273.0 467.6,270.5 507.3,269.7" fill="none" stroke="#f5e1a6" stroke-width="0.5" stroke-linejoin="round"/>
<polyline points="386.9,221.9 388.4,253.4 391.6,284.9 390.6,316.4 393.2,348.0 394.7,379.5" fill="none" stroke="#f5e1a6" stroke-width="0.5" stroke-linejoin="round"/>
<polyline points="308.6,286.2 348.3,283.2 388.1,281.8 427.8,280.9 467.6,280.3 507.3,277.1" fill="none" stroke="#f5e1a6" stroke-width="0.5" stroke-linejoin="round"/>
<polyline points="411.0,221.9 412.3,253.4 411.1,284.9 414.7,316.4 413.4,348.0 415.2,379.5" fill="none" stroke="#f5e1a6" stroke-width="0.5" stroke-linejoin="round"/>
<polyline points="308.6,302.8 348.3,302.3 388.1,299.3 427.8,299.6 467.6,297.1 507.3,295.1" fill="none" stroke="#f5e1a6" stroke-width="0.5" stroke-linejoin="round"/>
<polyline points="420.7,221.9 421.5,253.4 422.8,284.9 425.3,316.4 427.3,348.0 426.0,379.5" fill="none" stroke="#f5e1a6" stroke-width="0.5" stroke-linejoin="round"/>
<polyline points="308.6,310.2 348.3,311.4 388.1,308.8 427.8,307.1 467.6,305.3 507.3,304.9" fill="none" stroke="#f5e1a6" stroke-width="0.5" stroke-linejoin="round"/>
<polyline points="441.4,221.9 442.4,253.4 442.5,284.9 445.9,316.4 444.6,348.0 446.9,379.5" fill="none" stroke="#f5e1a6" stroke-width="0.5" stroke-linejoin="round"/>
<polyline points="308.6,328.2 348.3,324.9 388.1,325.2 427.8,324.4 467.6,322.2 507.3,321.3" fill="none" stroke="#f5e1a6" stroke-width="0.5" stroke-linejoin="round"/>
<polyline points="450.0,221.9 450.3,253.4 453.3,284.9 452.9,316.4 454.4,348.0 457.0,379.5" fill="none" stroke="#f5e1a6" stroke-width="0.5" stroke-linejoin="round"/>
<polyline points="308.6,335.2 348.3,334.1 388.1,331.3 427.8,330.1 467.6,329.4 507.3,327.3" fill="none" stroke="#f5e1a6" stroke-width="0.5" stroke-linejoin="round"/>
<polyline points="466.9,221.9 467.3,253.4 469.0,284.9 471.8,316.4 472.8,348.0 473.0,379.5" fill="none" stroke="#f5e1a6" stroke-width="0.5" stroke-linejoin="round"/>
<polyline points="308.6,347.7 348.3,345.9 388.1,343.8 427.8,342.9 467.6,343.0 507.3,341.8" fill="none" stroke="#f5e1a6" stroke-width="0.5" stroke-linejoin="round"/>
<polyline points="483.9,221.9 485.0,253.4 485.8,284.9 486.8,316.4 488.2,348.0 488.2,379.5" fill="none" stroke="#f5e1a6" stroke-width="0.5" stroke-linejoin="round"/>
<polyline points="308.6,360.9 348.3,358.3 388.1,357.5 427.8,356.9 467.6,355.4 507.3,352.9" fill="none" stroke="#f5e1a6" stroke-width="0.5" stroke-linejoin="round"/>
<polyline points="504.2,221.9 505.1,253.4 504.6,284.9 507.2,316.4 507.4,348.0 509.7,379.5" fill="none" stroke="#f5e1a6" stroke-width="0.5" stroke-linejoin="round"/>
<polyline points="308.6,376.6 348.3,376.2 388.1,374.3 427.8,373.4 467.6,370.8 507.3,370.2" fill="none" stroke="#f5e1a6" stroke-width="0.5" stroke-linejoin="round"/>
<polyline points="315.6,221.9 314.0,253.4 313.7,284.9 313.5,316.4 311.9,348.0 312.4,379.5" fill="none" stroke="#ffffff" stroke-width="0.35" stroke-linejoin="round"/>
<polyline points="308.6,226.9 348.3,227.9 388.1,226.5 427.8,227.6 467.6,227.5 507.3,230.0" fill="none" stroke="#ffffff" stroke-width="0.35" stroke-linejoin="round"/>
<polyline points="325.2,221.9 327.3,253.4 326.8,284.9 325.6,316.4 325.1,348.0 323.4,379.5" fill="none" stroke="#ffffff" stroke-width="0.35" stroke-linejoin="round"/>
<polyline points="308.6,234.7 348.3,236.6 388.1,235.9 427.8,236.7 467.6,237.4 507.3,237.4" fill="none" stroke="#ffffff" stroke-width="0.35" stroke-linejoin="round"/>
<polyline points="335.8,221.9 336.5,253.4 335.1,284.9 335.1,316.4 334.3,348.0 334.3,379.5" fill="none" stroke="#ffffff" stroke-width="0.35" stroke-linejoin="round"/>
<polyline points="308.6,243.4 348.3,243.5 388.1,246.0 427.8,246.5 467.6,246.6 507.3,246.8" fill="none" stroke="#ffffff" stroke-width="0.35" stroke-linejoin="round"/>
<polyline points="345.3,221.9 345.0,253.4 344.0,284.9 345.5,316.4 344.0,348.0 344.8,379.5" fill="none" stroke="#ffffff" stroke-width="0.35" stroke-linejoin="round"/>
<polyline points="308.6,251.2 348.3,253.3 388.1,253.5 427.8,251.8 467.6,252.9 507.3,255.3" fill="none" stroke="#ffffff" stroke-width="0.35" stroke-linejoin="round"/>
<polyline points="359.4,221.9 357.4,253.4 356.1,284.9 357.2,316.4 357.1,348.0 355.3,379.5" fill="none" stroke="#ffffff" stroke-width="0.35" stroke-linejoin="round"/>
<polyline points="308.6,260.0 348.3,261.2 388.1,263.4 427.8,263.4 467.6,262.2 507.3,263.1" fill="none" stroke="#ffffff" stroke-width="0.35" stroke-linejoin="round"/>
<polyline points="365.5,221.9 367.1,253.4 364.9,284.9 365.6,316.4 364.8,348.0 363.7,379.5" fill="none" stroke="#ffffff" stroke-width="0.35" stroke-linejoin="round"/>
<polyline points="308.6,268.6 348.3,267.4 388.1,269.4 427.8,268.5 467.6,269.8 507.3,269.8" fill="none" stroke="#ffffff" stroke-width="0.35" stroke-linejoin="round"/>
<polyline points="380.1,221.9 379.2,253.4 377.4,284.9 378.6,316.4 376.3,348.0 376.4,379.5" fill="none" stroke="#ffffff" stroke-width="0.35" stroke-linejoin="round"/>
<polyline points="308.6,278.5 348.3,278.5 388.1,277.5 427.8,280.5 467.6,278.9 507.3,279.6" fill="none" stroke="#ffffff" stroke-width="0.35" stroke-linejoin="round"/>
<polyline points="392.7,221.9 392.2,253.4 391.2,284.9 390.8,316.4 391.7,348.0 390.4,379.5" fill="none" stroke="#ffffff" stroke-width="0.35" stroke-linejoin="round"/>
<polyline points="308.6,289.2 348.3,289.1 388.1,289.9 427.8,291.8 467.6,291.0 507.3,291.8" fill="none" stroke="#ffffff" stroke-width="0.35" stroke-linejoin="round"/>
<polyline points="404.0,221.9 403.5,253.4 405.1,284.9 404.5,316.4 402.5,348.0 401.9,379.5" fill="none" stroke="#ffffff" stroke-width="0.35" stroke-linejoin="round"/>
<polyline points="308.6,298.9 348.3,300.0 388.1,298.4 427.8,301.0 467.6,301.4 507.3,301.1" fill="none" stroke="#ffffff" stroke-width="0.35" stroke-linejoin="round"/>
<polyline points="411.9,221.9 411.3,253.4 413.4,284.9 411.0,316.4 411.8,348.0 410.2,379.5" fill="none" stroke="#ffffff" stroke-width="0.35" stroke-linejoin="round"/>
<polyline points="308.6,305.5 348.3,305.4 388.1,305.1 427.8,305.3 467.6,307.4 507.3,306.1" fill="none" stroke="#ffffff" stroke-width="0.35" stroke-linejoin="round"/>
<polyline points="422.9,221.9 423.3,253.4 422.2,284.9 420.9,316.4 422.2,348.0 419.8,379.5" fill="none" stroke="#ffffff" stroke-width="0.35" stroke-linejoin="round"/>
<polyline points="308.6,311.1 348.3,312.3 388.1,313.3 427.8,312.8 467.6,313.6 507.3,314.7" fill="none" stroke="#ffffff" stroke-width="0.35" stroke-linejoin="round"/>
<polyline points="435.0,221.9 435.2,253.4 436.3,284.9 436.1,316.4 434.8,348.0 434.5,379.5" fill="none" stroke="#ffffff" stroke-width="0.35" stroke-linejoin="round"/>
<polyline points="308.6,323.2 348.3,322.5 388.1,322.7 427.8,323.2 467.6,326.2 507.3,326.1" fill="none" stroke="#ffffff" stroke-width="0.35" stroke-linejoin="round"/>
<polyline points="448.4,221.9 449.6,253.4 448.8,284.9 449.0,316.4 447.5,348.0 448.9,379.5" fill="none" stroke="#ffffff" stroke-width="0.35" stroke-linejoin="round"/>
<polyline points="308.6,332.6 348.3,334.4 388.1,335.5 427.8,336.4 467.6,336.5 507.3,337.0" fill="none" stroke="#ffffff" stroke-width="0.35" stroke-linejoin="round"/>
<polyline points="460.7,221.9 458.8,253.4 459.3,284.9 459.4,316.4 458.9,348.0 457.3,379.5" fill="none" stroke="#ffffff" stroke-width="0.35" stroke-linejoin="round"/>
<polyline points="308.6,342.4 348.3,343.2 388.1,342.9 427.8,343.6 467.6,343.4 507.3,344.5" fill="none" stroke="#ffffff" stroke-width="0.35" stroke-linejoin="round"/>
<polyline points="468.3,221.9 469.4,253.4 469.9,284.9 469.2,316.4 468.4,348.0 467.0,379.5" fill="none" stroke="#ffffff" stroke-width="0.35" stroke-linejoin="round"/>
<polyline points="308.6,350.1 348.3,350.2 388.1,350.3 427.8,351.9 467.6,350.4 507.3,352.7" fill="none" stroke="#ffffff" stroke-width="0.35" stroke-linejoin="round"/>
<polyline points="476.9,221.9 476.1,253.4 475.0,284.9 475.9,316.4 474.9,348.0 474.8,379.5" fill="none" stroke="#ffffff" stroke-width="0.35" stroke-linejoin="round"/>
<polyline points="308.6,356.3 348.3,355.0 388.1,354.8 427.8,356.2 467.6,357.7 507.3,357.0" fill="none" stroke="#ffffff" stroke-width="0.35" stroke-linejoin="round"/>
<polyline points="489.7,221.9 488.6,253.4 487.6,284.9 488.4,316.4 486.4,348.0 486.9,379.5" fill="none" stroke="#ffffff" stroke-width="0.35" stroke-linejoin="round"/>
<polyline points="308.6,363.8 348.3,365.0 388.1,366.5 427.8,367.3 467.6,367.8 507.3,366.9" fill="none" stroke="#ffffff" stroke-width="0.35" stroke-linejoin="round"/>
<polyline points="501.9,221.9 500.9,253.4 501.5,284.9 502.0,316.4 501.6,348.0 500.8,379.5" fill="none" stroke="#ffffff" stroke-width="0.35" stroke-linejoin="round"/>
<polyline points="308.6,376.8 348.3,375.5 388.1,375.7 427.8,377.0 467.6,377.1 507.3,377.4" fill="none" stroke="#ffffff" stroke-width="0.35" stroke-linejoin="round"/>
<polyline points="308.6,283.5 356.5,287.0 385.7,287.0 406.2,273.3 437.1,249.3 468.8,225.3" fill="none" stroke="#f3cd6b" stroke-width="1.0" stroke-linejoin="round"/>
<polyline points="308.6,295.5 351.4,292.1 401.1,293.0" fill="none" stroke="#f3cd6b" stroke-width="1.0" stroke-linejoin="round"/>
<polyline points="401.1,293.0 368.5,317.8 339.4,352.1 339.4,379.5" fill="none" stroke="#f3cd6b" stroke-width="1.0" stroke-linejoin="round"/>
<polyline points="401.1,293.0 416.5,334.9 418.2,379.5" fill="none" stroke="#f3cd6b" stroke-width="1.0" stroke-linejoin="round"/>
<polyline points="308.6,326.4 351.4,317.8 402.8,316.1 454.2,314.4 502.2,334.9" fill="none" stroke="#f3cd6b" stroke-width="1.0" stroke-linejoin="round"/>
<polyline points="468.8,249.3 464.5,300.7 459.4,346.9" fill="none" stroke="#f3cd6b" stroke-width="1.0" stroke-linejoin="round"/>
<polyline points="401.1,293.0 454.2,290.4 501.3,287.0" fill="none" stroke="#f6d98a" stroke-width="1.0" stroke-linejoin="round"/>
<polyline points="419.9,259.6 471.4,271.5 501.3,271.5" fill="none" stroke="#f6d98a" stroke-width="1.0" stroke-linejoin="round"/>
<polyline points="358.3,287.0 360.0,379.5" fill="none" stroke="#f6d98a" stroke-width="1.0" stroke-linejoin="round"/>
<polyline points="387.4,311.0 385.7,379.5" fill="none" stroke="#f6d98a" stroke-width="1.0" stroke-linejoin="round"/>
<polyline points="483.3,249.3 484.2,346.9" fill="none" stroke="#f6d98a" stroke-width="1.0" stroke-linejoin="round"/>
<polyline points="401.1,293.0 437.1,311.0 471.4,317.8 502.2,324.7" fill="none" stroke="#f6d98a" stroke-width="1.0" stroke-linejoin="round"/>
<polyline points="308.6,307.5 356.5,304.1 401.1,293.0" fill="none" stroke="#f6d98a" stroke-width="1.0" stroke-linejoin="round"/>
<polyline points="339.4,362.4 385.7,365.8 443.9,365.8" fill="none" stroke="#f6d98a" stroke-width="1.0" stroke-linejoin="round"/>
<polyline points="320.6,285.3 322.3,346.9" fill="none" stroke="#f6d98a" stroke-width="1.0" stroke-linejoin="round"/>
<polyline points="409.7,271.5 413.1,317.8 413.9,379.5" fill="none" stroke="#f6d98a" stroke-width="1.0" stroke-linejoin="round"/>
<polyline points="437.1,249.3 440.5,300.7 438.8,346.9" fill="none" stroke="#f6d98a" stroke-width="1.0" stroke-linejoin="round"/>
<polyline points="308.6,338.4 339.4,341.8" fill="none" stroke="#f6d98a" stroke-width="1.0" stroke-linejoin="round"/>
<polyline points="450.8,235.6 454.2,295.5" fill="none" stroke="#f6d98a" stroke-width="1.0" stroke-linejoin="round"/>
<text x="400.8" y="281.8" text-anchor="middle" font-family="Liberation Sans" font-weight="700" font-size="3.6" fill="#222">Cleveland</text>
</g><text x="324.0" y="286.1" text-anchor="middle" font-family="Liberation Sans" font-size="2.7" fill="#6b6f73">Bay Village</text><text x="348.0" y="290.4" text-anchor="middle" font-family="Liberation Sans" font-size="2.7" fill="#6b6f73">Rocky River</text><text x="366.0" y="288.3" text-anchor="middle" font-family="Liberation Sans" font-size="2.7" fill="#6b6f73">Lakewood</text><text x="342.8" y="306.7" text-anchor="middle" font-family="Liberation Sans" font-size="2.7" fill="#6b6f73">Fairview Park</text><text x="324.0" y="317.8" text-anchor="middle" font-family="Liberation Sans" font-size="2.7" fill="#6b6f73">North Olmsted</text><text x="329.1" y="335.8" text-anchor="middle" font-family="Liberation Sans" font-size="2.7" fill="#6b6f73">Olmsted Falls</text><text x="363.4" y="324.7" text-anchor="middle" font-family="Liberation Sans" font-size="2.7" fill="#6b6f73">Brook Park</text><text x="377.1" y="328.9" text-anchor="middle" font-family="Liberation Sans" font-size="2.7" fill="#6b6f73">Parma Heights</text><text x="378.8" y="311.0" text-anchor="middle" font-family="Liberation Sans" font-size="2.7" fill="#6b6f73">Brooklyn</text><text x="360.0" y="341.8" text-anchor="middle" font-family="Liberation Sans" font-size="2.7" fill="#6b6f73">Strongsville</text><text x="390.8" y="364.1" text-anchor="middle" font-family="Liberation Sans" font-size="2.7" fill="#6b6f73">Royalton</text><text x="426.8" y="358.1" text-anchor="middle" font-family="Liberation Sans" font-size="2.7" fill="#6b6f73">Brecksville</text><text x="426.8" y="329.8" text-anchor="middle" font-family="Liberation Sans" font-size="2.7" fill="#6b6f73">Independence</text><text x="430.2" y="317.8" text-anchor="middle" font-family="Liberation Sans" font-size="2.7" fill="#6b6f73">Garfield</text><text x="438.8" y="265.5" text-anchor="middle" font-family="Liberation Sans" font-size="2.7" fill="#6b6f73">East Cleveland</text><text x="454.2" y="292.1" text-anchor="middle" font-family="Liberation Sans" font-size="2.7" fill="#6b6f73">Shaker Heights</text><text x="476.5" y="289.5" text-anchor="middle" font-family="Liberation Sans" font-size="2.7" fill="#6b6f73">Pepper Pike</text><text x="486.8" y="303.2" text-anchor="middle" font-family="Liberation Sans" font-size="2.7" fill="#6b6f73">Chagrin Falls</text><text x="491.9" y="318.7" text-anchor="middle" font-family="Liberation Sans" font-size="2.7" fill="#6b6f73">Bentleyville</text><text x="461.9" y="339.2" text-anchor="middle" font-family="Liberation Sans" font-size="2.7" fill="#6b6f73">Twinsburg</text><text x="476.5" y="341.8" text-anchor="middle" font-family="Liberation Sans" font-size="2.7" fill="#6b6f73">Glenwillow</text><text x="464.5" y="324.7" text-anchor="middle" font-family="Liberation Sans" font-size="2.7" fill="#6b6f73">Bedford</text><text x="486.8" y="257.0" text-anchor="middle" font-family="Liberation Sans" font-size="2.7" fill="#6b6f73">Mayfield</text><text x="478.2" y="272.4" text-anchor="middle" font-family="Liberation Sans" font-size="2.7" fill="#6b6f73">Highland</text><text x="445.6" y="271.5" text-anchor="middle" font-family="Liberation Sans" font-size="2.7" fill="#6b6f73">Euclid</text><text x="409.7" y="308.4" text-anchor="middle" font-family="Liberation Sans" font-size="2.7" fill="#6b6f73">Cuyahoga Hts</text></g>
<line class="ar" x1="401.1" y1="293.0" x2="412.4" y2="381.8" stroke-width="1.9"/>
<polygon class="ah" points="402.8,382.1 421.9,381.5 413.9,398.5"/>
<circle cx="401.1" cy="293.0" r="5.8" fill="#000"/>
<clipPath id="cpar"><path d="M593.3 664.5C595.6 666.5 597.2 669.5 600.1 670.5C606.1 672.5 612.6 673.2 619.0 673.1C626.5 672.9 633.8 670.5 641.2 669.6C646.4 669.1 651.5 668.5 656.7 668.8C661.3 669.1 665.8 672.2 670.4 671.4C674.4 670.6 677.4 667.0 680.7 664.5C684.2 661.8 687.4 658.7 690.9 655.9C695.4 652.4 700.2 649.3 704.6 645.7C710.0 641.3 714.8 636.4 720.1 631.9C726.3 626.7 732.3 621.3 738.9 616.5C743.5 613.2 748.6 610.8 753.5 608.0L753.5 635.4L786.0 635.4L786.0 690.2L792.0 690.2L792.0 699.6L786.9 699.6L786.9 733.9L720.1 733.0C720.6 736.5 720.6 740.0 721.8 743.3C723.2 747.5 726.5 751.0 727.8 755.3C728.8 758.6 728.3 762.2 728.6 765.6L624.1 765.6L624.1 733.0L593.3 733.0L593.3 664.5Z"/></clipPath>
<g id="tpar" clip-path="url(#cpar)"><g filter="url(#sb)">
<polygon points="593.3,664.5 600.1,670.5 619.0,673.1 641.2,669.6 656.7,668.8 670.4,671.4 680.7,664.5 690.9,655.9 704.6,645.7 720.1,631.9 738.9,616.5 753.5,608.0 753.5,635.4 786.0,635.4 786.0,690.2 792.0,690.2 792.0,699.6 786.9,699.6 786.9,733.9 720.1,733.0 721.8,743.3 727.8,755.3 728.6,765.6 624.1,765.6 624.1,733.0 593.3,733.0" fill="#eceff1" stroke="#eceff1" stroke-width="3"/>
<rect x="593.3" y="608.0" width="198.8" height="157.6" filter="url(#spk)" opacity="0.3"/>
<polygon points="593.3,700.5 607.0,703.9 619.0,710.8 624.1,724.5 624.1,733.0 593.3,733.0" fill="#c2e6c9"/>
<polygon points="702.9,714.2 714.9,712.5 726.9,719.3 738.9,715.9 735.5,724.5 721.8,734.8 720.1,733.0 721.8,743.3 727.8,755.3 728.6,765.6 709.8,765.6 708.1,751.9 714.9,741.6 711.5,726.2 704.6,724.5" fill="#c2e6c9"/>
<polygon points="619.0,703.9 629.3,707.3 625.8,717.6 617.3,714.2" fill="#c2e6c9"/>
<polygon points="646.4,750.2 658.4,751.9 656.7,762.2 646.4,760.5" fill="#c2e6c9"/>
<polygon points="769.8,635.4 781.8,636.2 780.0,645.7 770.6,643.9" fill="#c2e6c9"/>
<polygon points="762.9,671.4 771.5,672.2 770.6,678.2 762.9,677.4" fill="#c2e6c9"/>
<polygon points="771.5,702.2 783.5,702.2 783.5,707.3 772.3,707.3" fill="#c2e6c9"/>
<polygon points="738.9,681.6 745.8,681.6 745.8,690.2 738.9,690.2" fill="#c2e6c9"/>
<polygon points="680.7,714.2 689.2,712.5 690.9,724.5 684.1,727.9" fill="#c2e6c9"/>
<polygon points="711.5,690.2 718.4,691.9 716.6,700.5 710.6,698.8" fill="#c2e6c9"/>
<polygon points="721.8,654.2 730.3,655.9 728.6,662.8 721.8,661.1" fill="#c2e6c9"/>
<polygon points="595.0,686.8 601.8,687.6 601.0,693.6 595.0,692.8" fill="#c2e6c9"/>
<rect x="593.3" y="608.0" width="198.8" height="157.6" filter="url(#spw)" opacity="0.5"/>
<polyline points="603.9,608.0 605.4,639.5 606.0,671.0 607.5,702.5 606.2,734.1 608.4,765.6" fill="none" stroke="#f5e1a6" stroke-width="0.5" stroke-linejoin="round"/>
<polyline points="593.3,617.0 633.0,614.8 672.8,614.1 712.5,610.6 752.3,610.2 792.0,608.3" fill="none" stroke="#f5e1a6" stroke-width="0.5" stroke-linejoin="round"/>
<polyline points="616.8,608.0 616.4,639.5 618.0,671.0 619.2,702.5 622.1,734.1 622.7,765.6" fill="none" stroke="#f5e1a6" stroke-width="0.5" stroke-linejoin="round"/>
<polyline points="593.3,625.5 633.0,625.9 672.8,622.7 712.5,622.7 752.3,620.0 792.0,618.3" fill="none" stroke="#f5e1a6" stroke-width="0.5" stroke-linejoin="round"/>
<polyline points="634.1,608.0 635.2,639.5 638.4,671.0 639.2,702.5 638.7,734.1 641.6,765.6" fill="none" stroke="#f5e1a6" stroke-width="0.5" stroke-linejoin="round"/>
<polyline points="593.3,641.1 633.0,640.1 672.8,637.4 712.5,638.1 752.3,636.0 792.0,635.4" fill="none" stroke="#f5e1a6" stroke-width="0.5" stroke-linejoin="round"/>
<polyline points="649.8,608.0 651.1,639.5 651.6,671.0 652.7,702.5 653.5,734.1 655.3,765.6" fill="none" stroke="#f5e1a6" stroke-width="0.5" stroke-linejoin="round"/>
<polyline points="593.3,653.5 633.0,650.5 672.8,651.0 712.5,648.7 752.3,647.3 792.0,647.3" fill="none" stroke="#f5e1a6" stroke-width="0.5" stroke-linejoin="round"/>
<polyline points="661.4,608.0 662.9,639.5 664.6,671.0 663.9,702.5 667.5,734.1 666.0,765.6" fill="none" stroke="#f5e1a6" stroke-width="0.5" stroke-linejoin="round"/>
<polyline points="593.3,663.1 633.0,662.0 672.8,658.3 712.5,659.1 752.3,656.6 792.0,655.8" fill="none" stroke="#f5e1a6" stroke-width="0.5" stroke-linejoin="round"/>
<polyline points="671.6,608.0 673.1,639.5 676.3,671.0 675.3,702.5 677.9,734.1 679.4,765.6" fill="none" stroke="#f5e1a6" stroke-width="0.5" stroke-linejoin="round"/>
<polyline points="593.3,672.3 633.0,669.3 672.8,667.9 712.5,667.0 752.3,666.4 792.0,663.2" fill="none" stroke="#f5e1a6" stroke-width="0.5" stroke-linejoin="round"/>
<polyline points="695.7,608.0 697.0,639.5 695.8,671.0 699.4,702.5 698.1,734.1 699.9,765.6" fill="none" stroke="#f5e1a6" stroke-width="0.5" stroke-linejoin="round"/>
<polyline points="593.3,688.9 633.0,688.4 672.8,685.4 712.5,685.7 752.3,683.2 792.0,681.2" fill="none" stroke="#f5e1a6" stroke-width="0.5" stroke-linejoin="round"/>
<polyline points="705.4,608.0 706.2,639.5 707.5,671.0 710.0,702.5 712.0,734.1 710.7,765.6" fill="none" stroke="#f5e1a6" stroke-width="0.5" stroke-linejoin="round"/>
<polyline points="593.3,696.3 633.0,697.5 672.8,694.9 712.5,693.2 752.3,691.4 792.0,691.0" fill="none" stroke="#f5e1a6" stroke-width="0.5" stroke-linejoin="round"/>
<polyline points="726.1,608.0 727.1,639.5 727.2,671.0 730.6,702.5 729.3,734.1 731.6,765.6" fill="none" stroke="#f5e1a6" stroke-width="0.5" stroke-linejoin="round"/>
<polyline points="593.3,714.3 633.0,711.0 672.8,711.3 712.5,710.5 752.3,708.3 792.0,707.4" fill="none" stroke="#f5e1a6" stroke-width="0.5" stroke-linejoin="round"/>
<polyline points="734.7,608.0 735.0,639.5 738.0,671.0 737.6,702.5 739.1,734.1 741.7,765.6" fill="none" stroke="#f5e1a6" stroke-width="0.5" stroke-linejoin="round"/>
<polyline points="593.3,721.3 633.0,720.2 672.8,717.4 712.5,716.2 752.3,715.5 792.0,713.4" fill="none" stroke="#f5e1a6" stroke-width="0.5" stroke-linejoin="round"/>
<polyline points="751.6,608.0 752.0,639.5 753.7,671.0 756.5,702.5 757.5,734.1 757.7,765.6" fill="none" stroke="#f5e1a6" stroke-width="0.5" stroke-linejoin="round"/>
<polyline points="593.3,733.8 633.0,732.0 672.8,729.9 712.5,729.0 752.3,729.1 792.0,727.9" fill="none" stroke="#f5e1a6" stroke-width="0.5" stroke-linejoin="round"/>
<polyline points="768.6,608.0 769.7,639.5 770.5,671.0 771.5,702.5 772.9,734.1 772.9,765.6" fill="none" stroke="#f5e1a6" stroke-width="0.5" stroke-linejoin="round"/>
<polyline points="593.3,747.0 633.0,744.4 672.8,743.6 712.5,743.0 752.3,741.5 792.0,739.0" fill="none" stroke="#f5e1a6" stroke-width="0.5" stroke-linejoin="round"/>
<polyline points="788.9,608.0 789.8,639.5 789.3,671.0 791.9,702.5 792.1,734.1 794.4,765.6" fill="none" stroke="#f5e1a6" stroke-width="0.5" stroke-linejoin="round"/>
<polyline points="593.3,762.7 633.0,762.3 672.8,760.4 712.5,759.5 752.3,756.9 792.0,756.3" fill="none" stroke="#f5e1a6" stroke-width="0.5" stroke-linejoin="round"/>
<polyline points="600.3,608.0 598.7,639.5 598.4,671.0 598.2,702.5 596.6,734.1 597.1,765.6" fill="none" stroke="#ffffff" stroke-width="0.35" stroke-linejoin="round"/>
<polyline points="593.3,613.0 633.0,614.0 672.8,612.6 712.5,613.7 752.3,613.6 792.0,616.1" fill="none" stroke="#ffffff" stroke-width="0.35" stroke-linejoin="round"/>
<polyline points="609.9,608.0 612.0,639.5 611.5,671.0 610.3,702.5 609.8,734.1 608.1,765.6" fill="none" stroke="#ffffff" stroke-width="0.35" stroke-linejoin="round"/>
<polyline points="593.3,620.8 633.0,622.7 672.8,622.0 712.5,622.8 752.3,623.5 792.0,623.5" fill="none" stroke="#ffffff" stroke-width="0.35" stroke-linejoin="round"/>
<polyline points="620.5,608.0 621.2,639.5 619.8,671.0 619.8,702.5 619.0,734.1 619.0,765.6" fill="none" stroke="#ffffff" stroke-width="0.35" stroke-linejoin="round"/>
<polyline points="593.3,629.5 633.0,629.6 672.8,632.1 712.5,632.6 752.3,632.7 792.0,632.9" fill="none" stroke="#ffffff" stroke-width="0.35" stroke-linejoin="round"/>
<polyline points="630.0,608.0 629.7,639.5 628.7,671.0 630.2,702.5 628.7,734.1 629.5,765.6" fill="none" stroke="#ffffff" stroke-width="0.35" stroke-linejoin="round"/>
<polyline points="593.3,637.3 633.0,639.4 672.8,639.6 712.5,637.9 752.3,639.0 792.0,641.4" fill="none" stroke="#ffffff" stroke-width="0.35" stroke-linejoin="round"/>
<polyline points="644.1,608.0 642.1,639.5 640.8,671.0 641.9,702.5 641.8,734.1 640.0,765.6" fill="none" stroke="#ffffff" stroke-width="0.35" stroke-linejoin="round"/>
<polyline points="593.3,646.1 633.0,647.3 672.8,649.5 712.5,649.5 752.3,648.3 792.0,649.2" fill="none" stroke="#ffffff" stroke-width="0.35" stroke-linejoin="round"/>
<polyline points="650.2,608.0 651.8,639.5 649.6,671.0 650.3,702.5 649.5,734.1 648.4,765.6" fill="none" stroke="#ffffff" stroke-width="0.35" stroke-linejoin="round"/>
<polyline points="593.3,654.7 633.0,653.5 672.8,655.5 712.5,654.6 752.3,655.9 792.0,655.9" fill="none" stroke="#ffffff" stroke-width="0.35" stroke-linejoin="round"/>
<polyline points="664.8,608.0 663.9,639.5 662.1,671.0 663.3,702.5 661.0,734.1 661.1,765.6" fill="none" stroke="#ffffff" stroke-width="0.35" stroke-linejoin="round"/>
<polyline points="593.3,664.6 633.0,664.6 672.8,663.6 712.5,666.6 752.3,665.0 792.0,665.7" fill="none" stroke="#ffffff" stroke-width="0.35" stroke-linejoin="round"/>
<polyline points="677.4,608.0 676.9,639.5 675.9,671.0 675.5,702.5 676.4,734.1 675.1,765.6" fill="none" stroke="#ffffff" stroke-width="0.35" stroke-linejoin="round"/>
<polyline points="593.3,675.3 633.0,675.2 672.8,676.0 712.5,677.9 752.3,677.1 792.0,677.9" fill="none" stroke="#ffffff" stroke-width="0.35" stroke-linejoin="round"/>
<polyline points="688.7,608.0 688.2,639.5 689.8,671.0 689.2,702.5 687.2,734.1 686.6,765.6" fill="none" stroke="#ffffff" stroke-width="0.35" stroke-linejoin="round"/>
<polyline points="593.3,685.0 633.0,686.1 672.8,684.5 712.5,687.1 752.3,687.5 792.0,687.2" fill="none" stroke="#ffffff" stroke-width="0.35" stroke-linejoin="round"/>
<polyline points="696.6,608.0 696.0,639.5 698.1,671.0 695.7,702.5 696.5,734.1 694.9,765.6" fill="none" stroke="#ffffff" stroke-width="0.35" stroke-linejoin="round"/>
<polyline points="593.3,691.6 633.0,691.5 672.8,691.2 712.5,691.4 752.3,693.5 792.0,692.2" fill="none" stroke="#ffffff" stroke-width="0.35" stroke-linejoin="round"/>
<polyline points="707.6,608.0 708.0,639.5 706.9,671.0 705.6,702.5 706.9,734.1 704.5,765.6" fill="none" stroke="#ffffff" stroke-width="0.35" stroke-linejoin="round"/>
<polyline points="593.3,697.2 633.0,698.4 672.8,699.4 712.5,698.9 752.3,699.7 792.0,700.8" fill="none" stroke="#ffffff" stroke-width="0.35" stroke-linejoin="round"/>
<polyline points="719.7,608.0 719.9,639.5 721.0,671.0 720.8,702.5 719.5,734.1 719.2,765.6" fill="none" stroke="#ffffff" stroke-width="0.35" stroke-linejoin="round"/>
<polyline points="593.3,709.3 633.0,708.6 672.8,708.8 712.5,709.3 752.3,712.3 792.0,712.2" fill="none" stroke="#ffffff" stroke-width="0.35" stroke-linejoin="round"/>
<polyline points="733.1,608.0 734.3,639.5 733.5,671.0 733.7,702.5 732.2,734.1 733.6,765.6" fill="none" stroke="#ffffff" stroke-width="0.35" stroke-linejoin="round"/>
<polyline points="593.3,718.7 633.0,720.5 672.8,721.6 712.5,722.5 752.3,722.6 792.0,723.1" fill="none" stroke="#ffffff" stroke-width="0.35" stroke-linejoin="round"/>
<polyline points="745.4,608.0 743.5,639.5 744.0,671.0 744.1,702.5 743.6,734.1 742.0,765.6" fill="none" stroke="#ffffff" stroke-width="0.35" stroke-linejoin="round"/>
<polyline points="593.3,728.5 633.0,729.3 672.8,729.0 712.5,729.7 752.3,729.5 792.0,730.6" fill="none" stroke="#ffffff" stroke-width="0.35" stroke-linejoin="round"/>
<polyline points="753.0,608.0 754.1,639.5 754.6,671.0 753.9,702.5 753.1,734.1 751.7,765.6" fill="none" stroke="#ffffff" stroke-width="0.35" stroke-linejoin="round"/>
<polyline points="593.3,736.2 633.0,736.3 672.8,736.4 712.5,738.0 752.3,736.5 792.0,738.8" fill="none" stroke="#ffffff" stroke-width="0.35" stroke-linejoin="round"/>
<polyline points="761.6,608.0 760.8,639.5 759.7,671.0 760.6,702.5 759.6,734.1 759.5,765.6" fill="none" stroke="#ffffff" stroke-width="0.35" stroke-linejoin="round"/>
<polyline points="593.3,742.4 633.0,741.1 672.8,740.9 712.5,742.3 752.3,743.8 792.0,743.1" fill="none" stroke="#ffffff" stroke-width="0.35" stroke-linejoin="round"/>
<polyline points="774.4,608.0 773.3,639.5 772.3,671.0 773.1,702.5 771.1,734.1 771.6,765.6" fill="none" stroke="#ffffff" stroke-width="0.35" stroke-linejoin="round"/>
<polyline points="593.3,749.9 633.0,751.1 672.8,752.6 712.5,753.4 752.3,753.9 792.0,753.0" fill="none" stroke="#ffffff" stroke-width="0.35" stroke-linejoin="round"/>
<polyline points="786.6,608.0 785.6,639.5 786.2,671.0 786.7,702.5 786.3,734.1 785.5,765.6" fill="none" stroke="#ffffff" stroke-width="0.35" stroke-linejoin="round"/>
<polyline points="593.3,762.9 633.0,761.6 672.8,761.8 712.5,763.1 752.3,763.2 792.0,763.5" fill="none" stroke="#ffffff" stroke-width="0.35" stroke-linejoin="round"/>
<polyline points="593.3,669.6 641.2,673.1 670.4,673.1 690.9,659.4 721.8,635.4 753.5,611.4" fill="none" stroke="#f3cd6b" stroke-width="1.0" stroke-linejoin="round"/>
<polyline points="593.3,681.6 636.1,678.2 685.8,679.1" fill="none" stroke="#f3cd6b" stroke-width="1.0" stroke-linejoin="round"/>
<polyline points="685.8,679.1 653.2,703.9 624.1,738.2 624.1,765.6" fill="none" stroke="#f3cd6b" stroke-width="1.0" stroke-linejoin="round"/>
<polyline points="685.8,679.1 701.2,721.0 702.9,765.6" fill="none" stroke="#f3cd6b" stroke-width="1.0" stroke-linejoin="round"/>
<polyline points="593.3,712.5 636.1,703.9 687.5,702.2 738.9,700.5 786.9,721.0" fill="none" stroke="#f3cd6b" stroke-width="1.0" stroke-linejoin="round"/>
<polyline points="753.5,635.4 749.2,686.8 744.1,733.0" fill="none" stroke="#f3cd6b" stroke-width="1.0" stroke-linejoin="round"/>
<polyline points="685.8,679.1 738.9,676.5 786.0,673.1" fill="none" stroke="#f6d98a" stroke-width="1.0" stroke-linejoin="round"/>
<polyline points="704.6,645.7 756.1,657.6 786.0,657.6" fill="none" stroke="#f6d98a" stroke-width="1.0" stroke-linejoin="round"/>
<polyline points="643.0,673.1 644.7,765.6" fill="none" stroke="#f6d98a" stroke-width="1.0" stroke-linejoin="round"/>
<polyline points="672.1,697.1 670.4,765.6" fill="none" stroke="#f6d98a" stroke-width="1.0" stroke-linejoin="round"/>
<polyline points="768.0,635.4 768.9,733.0" fill="none" stroke="#f6d98a" stroke-width="1.0" stroke-linejoin="round"/>
<polyline points="685.8,679.1 721.8,697.1 756.1,703.9 786.9,710.8" fill="none" stroke="#f6d98a" stroke-width="1.0" stroke-linejoin="round"/>
<polyline points="593.3,693.6 641.2,690.2 685.8,679.1" fill="none" stroke="#f6d98a" stroke-width="1.0" stroke-linejoin="round"/>
<polyline points="624.1,748.5 670.4,751.9 728.6,751.9" fill="none" stroke="#f6d98a" stroke-width="1.0" stroke-linejoin="round"/>
<polyline points="605.3,671.4 607.0,733.0" fill="none" stroke="#f6d98a" stroke-width="1.0" stroke-linejoin="round"/>
<polyline points="694.4,657.6 697.8,703.9 698.6,765.6" fill="none" stroke="#f6d98a" stroke-width="1.0" stroke-linejoin="round"/>
<polyline points="721.8,635.4 725.2,686.8 723.5,733.0" fill="none" stroke="#f6d98a" stroke-width="1.0" stroke-linejoin="round"/>
<polyline points="593.3,724.5 624.1,727.9" fill="none" stroke="#f6d98a" stroke-width="1.0" stroke-linejoin="round"/>
<polyline points="735.5,621.7 738.9,681.6" fill="none" stroke="#f6d98a" stroke-width="1.0" stroke-linejoin="round"/>
<text x="685.5" y="667.9" text-anchor="middle" font-family="Liberation Sans" font-weight="700" font-size="3.6" fill="#222">Cleveland</text>
</g><text x="608.7" y="672.2" text-anchor="middle" font-family="Liberation Sans" font-size="2.7" fill="#6b6f73">Bay Village</text><text x="632.7" y="676.5" text-anchor="middle" font-family="Liberation Sans" font-size="2.7" fill="#6b6f73">Rocky River</text><text x="650.7" y="674.4" text-anchor="middle" font-family="Liberation Sans" font-size="2.7" fill="#6b6f73">Lakewood</text><text x="627.5" y="692.8" text-anchor="middle" font-family="Liberation Sans" font-size="2.7" fill="#6b6f73">Fairview Park</text><text x="608.7" y="703.9" text-anchor="middle" font-family="Liberation Sans" font-size="2.7" fill="#6b6f73">North Olmsted</text><text x="613.8" y="721.9" text-anchor="middle" font-family="Liberation Sans" font-size="2.7" fill="#6b6f73">Olmsted Falls</text><text x="648.1" y="710.8" text-anchor="middle" font-family="Liberation Sans" font-size="2.7" fill="#6b6f73">Brook Park</text><text x="661.8" y="715.0" text-anchor="middle" font-family="Liberation Sans" font-size="2.7" fill="#6b6f73">Parma Heights</text><text x="663.5" y="697.1" text-anchor="middle" font-family="Liberation Sans" font-size="2.7" fill="#6b6f73">Brooklyn</text><text x="644.7" y="727.9" text-anchor="middle" font-family="Liberation Sans" font-size="2.7" fill="#6b6f73">Strongsville</text><text x="675.5" y="750.2" text-anchor="middle" font-family="Liberation Sans" font-size="2.7" fill="#6b6f73">Royalton</text><text x="711.5" y="744.2" text-anchor="middle" font-family="Liberation Sans" font-size="2.7" fill="#6b6f73">Brecksville</text><text x="711.5" y="715.9" text-anchor="middle" font-family="Liberation Sans" font-size="2.7" fill="#6b6f73">Independence</text><text x="714.9" y="703.9" text-anchor="middle" font-family="Liberation Sans" font-size="2.7" fill="#6b6f73">Garfield</text><text x="723.5" y="651.6" text-anchor="middle" font-family="Liberation Sans" font-size="2.7" fill="#6b6f73">East Cleveland</text><text x="738.9" y="678.2" text-anchor="middle" font-family="Liberation Sans" font-size="2.7" fill="#6b6f73">Shaker Heights</text><text x="761.2" y="675.6" text-anchor="middle" font-family="Liberation Sans" font-size="2.7" fill="#6b6f73">Pepper Pike</text><text x="771.5" y="689.3" text-anchor="middle" font-family="Liberation Sans" font-size="2.7" fill="#6b6f73">Chagrin Falls</text><text x="776.6" y="704.8" text-anchor="middle" font-family="Liberation Sans" font-size="2.7" fill="#6b6f73">Bentleyville</text><text x="746.6" y="725.3" text-anchor="middle" font-family="Liberation Sans" font-size="2.7" fill="#6b6f73">Twinsburg</text><text x="761.2" y="727.9" text-anchor="middle" font-family="Liberation Sans" font-size="2.7" fill="#6b6f73">Glenwillow</text><text x="749.2" y="710.8" text-anchor="middle" font-family="Liberation Sans" font-size="2.7" fill="#6b6f73">Bedford</text><text x="771.5" y="643.1" text-anchor="middle" font-family="Liberation Sans" font-size="2.7" fill="#6b6f73">Mayfield</text><text x="762.9" y="658.5" text-anchor="middle" font-family="Liberation Sans" font-size="2.7" fill="#6b6f73">Highland</text><text x="730.3" y="657.6" text-anchor="middle" font-family="Liberation Sans" font-size="2.7" fill="#6b6f73">Euclid</text><text x="694.4" y="694.5" text-anchor="middle" font-family="Liberation Sans" font-size="2.7" fill="#6b6f73">Cuyahoga Hts</text></g>
<line class="ar" x1="676.9" y1="707.1" x2="684.1" y2="779.2" stroke-width="1.9"/>
<polygon class="ah" points="674.6,779.5 693.6,779.0 684.6,795.5"/>
<circle cx="676.9" cy="707.1" r="5.8" fill="#000"/>
<clipPath id="ccin"><path d="M610.4 263.2C629.2 263.2 647.9 264.1 666.7 263.2C668.3 263.1 669.2 260.5 670.8 260.4C676.9 260.0 682.9 261.3 688.9 261.8C700.9 262.7 713.0 263.6 725.0 264.6C745.4 266.2 765.7 267.8 786.1 269.4C786.3 271.5 787.7 273.8 786.8 275.7C784.8 279.8 780.8 282.6 777.8 286.1C775.0 289.3 772.2 292.6 769.4 295.8L772.2 301.4L779.2 300.7C779.6 301.9 780.8 303.0 780.6 304.2C779.8 307.2 777.9 309.8 776.4 312.5C775.6 314.0 773.9 315.0 773.6 316.7C772.2 325.8 772.5 335.2 771.5 344.4C770.8 351.4 769.6 358.3 768.8 365.3C768.2 369.2 767.8 373.1 767.4 377.1C762.5 374.5 757.9 371.3 752.8 369.4C748.3 367.8 743.2 368.5 738.9 366.7C736.5 365.6 734.3 363.5 733.3 361.1C731.9 357.7 732.7 353.6 731.9 350.0C731.3 347.1 731.0 344.0 729.2 341.7C727.5 339.5 724.5 338.9 722.2 337.5C719.9 338.9 717.4 340.0 715.3 341.7C713.2 343.3 712.1 346.1 709.7 347.2C707.6 348.3 705.1 348.2 702.8 347.9C700.8 347.7 699.2 345.5 697.2 345.8C694.2 346.3 691.6 348.4 688.9 350.0C686.0 351.7 683.7 354.5 680.6 355.6C677.9 356.4 674.8 356.5 672.2 355.6C669.4 354.5 667.8 351.5 665.3 350.0C662.2 348.2 658.5 347.8 655.6 345.8C652.8 344.0 650.7 341.4 648.6 338.9C646.9 336.8 646.4 333.9 644.4 331.9C642.5 330.0 640.1 328.6 637.5 327.8C635.3 327.1 632.9 327.8 630.6 327.8C628.2 330.6 626.0 333.4 623.6 336.1C621.9 338.1 620.4 340.4 618.1 341.7C615.8 342.9 613.0 342.6 610.4 343.1L610.4 263.2Z"/></clipPath>
<g id="tcin" clip-path="url(#ccin)"><g filter="url(#sb)">
<polygon points="610.4,263.2 666.7,263.2 670.8,260.4 688.9,261.8 725.0,264.6 786.1,269.4 786.8,275.7 777.8,286.1 769.4,295.8 772.2,301.4 779.2,300.7 780.6,304.2 776.4,312.5 773.6,316.7 771.5,344.4 768.8,365.3 767.4,377.1 752.8,369.4 738.9,366.7 733.3,361.1 731.9,350.0 729.2,341.7 722.2,337.5 715.3,341.7 709.7,347.2 702.8,347.9 697.2,345.8 688.9,350.0 680.6,355.6 672.2,355.6 665.3,350.0 655.6,345.8 648.6,338.9 644.4,331.9 637.5,327.8 630.6,327.8 623.6,336.1 618.1,341.7 610.4,343.1" fill="#eceff1" stroke="#eceff1" stroke-width="3"/>
<rect x="610.4" y="260.4" width="176.4" height="116.7" filter="url(#spk)" opacity="0.8"/>
<polygon points="610.4,263.2 666.7,263.2 670.8,260.4 688.9,261.8 683.3,277.8 672.2,291.7 658.3,301.4 652.8,309.7 654.2,327.8 647.2,336.1 644.4,331.9 637.5,327.8 630.6,327.8 623.6,336.1 618.1,341.7 610.4,343.1" fill="#c2e6c9"/>
<polygon points="690.3,272.2 705.6,270.8 719.4,277.8 716.7,288.9 705.6,291.7 691.7,293.1" fill="#c2e6c9"/>
<polygon points="654.2,333.3 677.8,336.1 688.9,341.7 688.9,350.0 680.6,355.6 672.2,355.6 665.3,350.0 655.6,345.8" fill="#c2e6c9"/>
<polygon points="681.9,316.7 691.7,312.5 695.8,320.8 686.1,325.0" fill="#c2e6c9"/>
<polygon points="738.9,331.9 752.8,329.2 770.8,325.0 768.8,375.0 752.8,369.4 738.9,366.7 733.3,361.1 736.1,347.2" fill="#c2e6c9"/>
<polygon points="773.6,301.4 780.6,304.2 774.3,316.7" fill="#c2e6c9"/>
<polygon points="775.0,269.4 786.1,270.1 786.8,275.7 779.2,284.7 773.6,277.8" fill="#c2e6c9"/>
<polygon points="666.7,304.2 677.8,306.9 675.0,312.5 665.3,309.7" fill="#c2e6c9"/>
<polygon points="738.9,272.2 747.2,273.6 744.4,281.9 737.5,280.6" fill="#c2e6c9"/>
<polygon points="733.3,302.8 740.3,304.2 737.5,312.5 731.9,309.7" fill="#c2e6c9"/>
<polygon points="697.2,305.6 704.2,308.3 702.8,319.4 697.2,316.7" fill="#c2e6c9"/>
<polygon points="629.2,275.0 638.9,273.6 641.7,291.7 633.3,295.8 627.8,288.9" fill="#a9d9b6"/>
<polygon points="750.0,338.9 766.7,336.1 765.3,361.1 751.4,359.7" fill="#f1f3f4"/>
<polygon points="615.3,280.6 627.8,279.9 628.5,288.2 616.0,288.9" fill="#f1f3f4"/>
<polygon points="631.9,302.8 641.7,297.2 647.2,305.6 636.1,311.1" fill="#f1f3f4"/>
<rect x="610.4" y="260.4" width="176.4" height="116.7" filter="url(#spw)" opacity="0.9"/>
<polyline points="614.8,260.4 609.9,283.8 605.4,307.1 601.8,330.4 598.6,353.8 594.0,377.1" fill="none" stroke="#f5e1a6" stroke-width="0.5" stroke-linejoin="round"/>
<polyline points="610.4,264.1 645.7,269.4 681.0,276.7 716.2,282.7 751.5,289.0 786.8,295.5" fill="none" stroke="#f5e1a6" stroke-width="0.5" stroke-linejoin="round"/>
<polyline points="634.8,260.4 630.2,283.8 625.8,307.1 621.5,330.4 615.8,353.8 611.7,377.1" fill="none" stroke="#f5e1a6" stroke-width="0.5" stroke-linejoin="round"/>
<polyline points="610.4,276.2 645.7,283.0 681.0,289.9 716.2,296.5 751.5,301.3 786.8,309.0" fill="none" stroke="#f5e1a6" stroke-width="0.5" stroke-linejoin="round"/>
<polyline points="656.3,260.4 651.3,283.8 647.6,307.1 642.4,330.4 639.9,353.8 635.4,377.1" fill="none" stroke="#f5e1a6" stroke-width="0.5" stroke-linejoin="round"/>
<polyline points="610.4,290.9 645.7,296.9 681.0,304.8 716.2,310.7 751.5,317.9 786.8,324.4" fill="none" stroke="#f5e1a6" stroke-width="0.5" stroke-linejoin="round"/>
<polyline points="672.1,260.4 668.1,283.8 663.4,307.1 658.4,330.4 654.4,353.8 651.2,377.1" fill="none" stroke="#f5e1a6" stroke-width="0.5" stroke-linejoin="round"/>
<polyline points="610.4,300.3 645.7,306.9 681.0,314.7 716.2,320.5 751.5,327.7 786.8,334.1" fill="none" stroke="#f5e1a6" stroke-width="0.5" stroke-linejoin="round"/>
<polyline points="689.2,260.4 683.1,283.8 679.2,307.1 674.4,330.4 671.0,353.8 665.9,377.1" fill="none" stroke="#f5e1a6" stroke-width="0.5" stroke-linejoin="round"/>
<polyline points="610.4,311.5 645.7,318.9 681.0,324.6 716.2,331.7 751.5,339.0 786.8,343.8" fill="none" stroke="#f5e1a6" stroke-width="0.5" stroke-linejoin="round"/>
<polyline points="702.2,260.4 699.0,283.8 694.3,307.1 689.2,330.4 685.0,353.8 680.3,377.1" fill="none" stroke="#f5e1a6" stroke-width="0.5" stroke-linejoin="round"/>
<polyline points="610.4,321.4 645.7,327.1 681.0,335.1 716.2,342.1 751.5,348.8 786.8,354.9" fill="none" stroke="#f5e1a6" stroke-width="0.5" stroke-linejoin="round"/>
<polyline points="728.9,260.4 725.1,283.8 722.3,307.1 717.5,330.4 712.3,353.8 709.2,377.1" fill="none" stroke="#f5e1a6" stroke-width="0.5" stroke-linejoin="round"/>
<polyline points="610.4,339.7 645.7,346.8 681.0,352.2 716.2,358.5 751.5,365.6 786.8,371.5" fill="none" stroke="#f5e1a6" stroke-width="0.5" stroke-linejoin="round"/>
<polyline points="742.5,260.4 736.7,283.8 731.7,307.1 727.4,330.4 723.3,353.8 720.3,377.1" fill="none" stroke="#f5e1a6" stroke-width="0.5" stroke-linejoin="round"/>
<polyline points="610.4,346.8 645.7,353.2 681.0,359.3 716.2,367.9 751.5,373.2 786.8,379.3" fill="none" stroke="#f5e1a6" stroke-width="0.5" stroke-linejoin="round"/>
<polyline points="754.7,260.4 750.6,283.8 747.4,307.1 741.9,330.4 737.3,353.8 733.9,377.1" fill="none" stroke="#f5e1a6" stroke-width="0.5" stroke-linejoin="round"/>
<polyline points="610.4,355.9 645.7,364.2 681.0,368.8 716.2,376.3 751.5,383.4 786.8,389.2" fill="none" stroke="#f5e1a6" stroke-width="0.5" stroke-linejoin="round"/>
<polyline points="783.1,260.4 778.2,283.8 774.3,307.1 769.1,330.4 765.6,353.8 760.8,377.1" fill="none" stroke="#f5e1a6" stroke-width="0.5" stroke-linejoin="round"/>
<polyline points="610.4,375.5 645.7,382.0 681.0,387.8 716.2,393.3 751.5,400.4 786.8,407.0" fill="none" stroke="#f5e1a6" stroke-width="0.5" stroke-linejoin="round"/>
<polyline points="618.6,260.4 612.7,283.8 604.6,307.1 598.0,330.4 592.5,353.8 585.7,377.1" fill="none" stroke="#ffffff" stroke-width="0.35" stroke-linejoin="round"/>
<polyline points="610.4,265.2 645.7,275.9 681.0,285.2 716.2,296.0 751.5,304.5 786.8,314.7" fill="none" stroke="#ffffff" stroke-width="0.35" stroke-linejoin="round"/>
<polyline points="632.0,260.4 625.2,283.8 619.9,307.1 612.9,330.4 605.3,353.8 599.6,377.1" fill="none" stroke="#ffffff" stroke-width="0.35" stroke-linejoin="round"/>
<polyline points="610.4,275.3 645.7,284.1 681.0,295.1 716.2,303.9 751.5,314.3 786.8,323.7" fill="none" stroke="#ffffff" stroke-width="0.35" stroke-linejoin="round"/>
<polyline points="640.7,260.4 632.9,283.8 627.6,307.1 619.8,330.4 613.6,353.8 607.7,377.1" fill="none" stroke="#ffffff" stroke-width="0.35" stroke-linejoin="round"/>
<polyline points="610.4,280.2 645.7,288.8 681.0,299.8 716.2,309.9 751.5,318.8 786.8,328.5" fill="none" stroke="#ffffff" stroke-width="0.35" stroke-linejoin="round"/>
<polyline points="657.4,260.4 650.1,283.8 644.1,307.1 637.0,330.4 631.7,353.8 624.5,377.1" fill="none" stroke="#ffffff" stroke-width="0.35" stroke-linejoin="round"/>
<polyline points="610.4,290.6 645.7,302.1 681.0,310.4 716.2,320.8 751.5,330.1 786.8,341.7" fill="none" stroke="#ffffff" stroke-width="0.35" stroke-linejoin="round"/>
<polyline points="664.3,260.4 656.7,283.8 651.0,307.1 644.9,330.4 638.0,353.8 631.2,377.1" fill="none" stroke="#ffffff" stroke-width="0.35" stroke-linejoin="round"/>
<polyline points="610.4,296.0 645.7,305.8 681.0,316.1 716.2,324.9 751.5,335.7 786.8,345.1" fill="none" stroke="#ffffff" stroke-width="0.35" stroke-linejoin="round"/>
<polyline points="683.5,260.4 674.9,283.8 668.5,307.1 663.2,330.4 656.4,353.8 648.6,377.1" fill="none" stroke="#ffffff" stroke-width="0.35" stroke-linejoin="round"/>
<polyline points="610.4,308.5 645.7,319.0 681.0,327.8 716.2,337.5 751.5,348.0 786.8,358.7" fill="none" stroke="#ffffff" stroke-width="0.35" stroke-linejoin="round"/>
<polyline points="690.1,260.4 683.3,283.8 677.7,307.1 670.7,330.4 663.7,353.8 657.4,377.1" fill="none" stroke="#ffffff" stroke-width="0.35" stroke-linejoin="round"/>
<polyline points="610.4,312.4 645.7,322.9 681.0,334.3 716.2,343.4 751.5,352.7 786.8,364.0" fill="none" stroke="#ffffff" stroke-width="0.35" stroke-linejoin="round"/>
<polyline points="703.3,260.4 696.2,283.8 689.9,307.1 683.5,330.4 677.0,353.8 671.8,377.1" fill="none" stroke="#ffffff" stroke-width="0.35" stroke-linejoin="round"/>
<polyline points="610.4,321.7 645.7,331.6 681.0,342.3 716.2,352.9 751.5,361.5 786.8,372.5" fill="none" stroke="#ffffff" stroke-width="0.35" stroke-linejoin="round"/>
<polyline points="716.7,260.4 710.2,283.8 704.4,307.1 697.4,330.4 690.3,353.8 684.4,377.1" fill="none" stroke="#ffffff" stroke-width="0.35" stroke-linejoin="round"/>
<polyline points="610.4,330.3 645.7,340.3 681.0,351.5 716.2,360.5 751.5,370.9 786.8,379.9" fill="none" stroke="#ffffff" stroke-width="0.35" stroke-linejoin="round"/>
<polyline points="733.5,260.4 726.1,283.8 721.1,307.1 713.5,330.4 706.6,353.8 699.9,377.1" fill="none" stroke="#ffffff" stroke-width="0.35" stroke-linejoin="round"/>
<polyline points="610.4,340.8 645.7,350.9 681.0,362.0 716.2,370.7 751.5,380.9 786.8,391.2" fill="none" stroke="#ffffff" stroke-width="0.35" stroke-linejoin="round"/>
<polyline points="742.8,260.4 737.1,283.8 729.4,307.1 723.0,330.4 716.6,353.8 709.4,377.1" fill="none" stroke="#ffffff" stroke-width="0.35" stroke-linejoin="round"/>
<polyline points="610.4,347.5 645.7,357.3 681.0,368.5 716.2,377.2 751.5,388.2 786.8,397.2" fill="none" stroke="#ffffff" stroke-width="0.35" stroke-linejoin="round"/>
<polyline points="756.8,260.4 749.5,283.8 744.2,307.1 737.1,330.4 730.3,353.8 722.6,377.1" fill="none" stroke="#ffffff" stroke-width="0.35" stroke-linejoin="round"/>
<polyline points="610.4,356.8 645.7,366.4 681.0,376.8 716.2,387.7 751.5,397.5 786.8,405.7" fill="none" stroke="#ffffff" stroke-width="0.35" stroke-linejoin="round"/>
<polyline points="770.2,260.4 762.8,283.8 755.2,307.1 750.4,330.4 742.8,353.8 737.5,377.1" fill="none" stroke="#ffffff" stroke-width="0.35" stroke-linejoin="round"/>
<polyline points="610.4,366.3 645.7,376.1 681.0,386.3 716.2,394.3 751.5,405.9 786.8,414.7" fill="none" stroke="#ffffff" stroke-width="0.35" stroke-linejoin="round"/>
<polyline points="777.5,260.4 771.4,283.8 763.5,307.1 757.9,330.4 752.1,353.8 744.9,377.1" fill="none" stroke="#ffffff" stroke-width="0.35" stroke-linejoin="round"/>
<polyline points="610.4,371.2 645.7,380.6 681.0,392.0 716.2,400.3 751.5,411.2 786.8,421.1" fill="none" stroke="#ffffff" stroke-width="0.35" stroke-linejoin="round"/>
<polyline points="610.4,281.9 641.7,295.8 669.4,295.8 725.0,295.8 772.2,294.4" fill="none" stroke="#f3cd6b" stroke-width="1.0" stroke-linejoin="round"/>
<polyline points="722.2,265.3 720.8,305.6 711.1,333.3 705.6,338.9" fill="none" stroke="#f3cd6b" stroke-width="1.0" stroke-linejoin="round"/>
<polyline points="705.6,336.1 725.0,316.7 752.8,291.7 773.6,270.8" fill="none" stroke="#f3cd6b" stroke-width="1.0" stroke-linejoin="round"/>
<polyline points="705.6,336.1 690.3,311.1 655.6,305.6 627.8,298.6 610.4,291.7" fill="none" stroke="#f3cd6b" stroke-width="1.0" stroke-linejoin="round"/>
<polyline points="688.9,268.1 691.7,295.8 697.2,316.7 704.2,336.1" fill="none" stroke="#f6d98a" stroke-width="1.0" stroke-linejoin="round"/>
<polyline points="669.4,295.8 697.2,266.7" fill="none" stroke="#f6d98a" stroke-width="1.0" stroke-linejoin="round"/>
<polyline points="725.0,264.6 733.3,295.8 738.9,319.4" fill="none" stroke="#f6d98a" stroke-width="1.0" stroke-linejoin="round"/>
<polyline points="705.6,336.1 725.0,327.8 752.8,322.2 772.2,319.4" fill="none" stroke="#f6d98a" stroke-width="1.0" stroke-linejoin="round"/>
<polyline points="752.8,269.4 752.8,322.2" fill="none" stroke="#f6d98a" stroke-width="1.0" stroke-linejoin="round"/>
<polyline points="683.3,277.8 725.0,277.8 780.6,280.6" fill="none" stroke="#f6d98a" stroke-width="1.0" stroke-linejoin="round"/>
<polyline points="655.6,345.8 677.8,327.8 704.2,336.1" fill="none" stroke="#f6d98a" stroke-width="1.0" stroke-linejoin="round"/>

</g><text x="658.3" y="279.2" text-anchor="middle" font-family="Liberation Sans" font-size="2.5" fill="#6b6f73">Miamitown</text><text x="637.5" y="294.4" text-anchor="middle" font-family="Liberation Sans" font-size="2.5" fill="#6b6f73">Harrison</text><text x="613.9" y="322.2" text-anchor="middle" font-family="Liberation Sans" font-size="2.5" fill="#6b6f73">Cleves</text><text x="669.4" y="321.5" text-anchor="middle" font-family="Liberation Sans" font-size="2.5" fill="#6b6f73">Cheviot</text><text x="679.2" y="300.0" text-anchor="middle" font-family="Liberation Sans" font-size="2.5" fill="#6b6f73">Mt Airy</text><text x="706.9" y="298.6" text-anchor="middle" font-family="Liberation Sans" font-size="2.5" fill="#6b6f73">Norwood</text><text x="738.9" y="282.6" text-anchor="middle" font-family="Liberation Sans" font-size="2.5" fill="#6b6f73">Blue Ash</text><text x="751.4" y="300.7" text-anchor="middle" font-family="Liberation Sans" font-size="2.5" fill="#6b6f73">Madeira</text><text x="752.8" y="273.6" text-anchor="middle" font-family="Liberation Sans" font-size="2.5" fill="#6b6f73">Montgomery</text><text x="763.9" y="277.8" text-anchor="middle" font-family="Liberation Sans" font-size="2.5" fill="#6b6f73">Loveland</text><text x="723.6" y="320.1" text-anchor="middle" font-family="Liberation Sans" font-size="2.5" fill="#6b6f73">Hyde Park</text><text x="744.4" y="327.8" text-anchor="middle" font-family="Liberation Sans" font-size="2.5" fill="#6b6f73">Mariemont</text><text x="755.6" y="336.1" text-anchor="middle" font-family="Liberation Sans" font-size="2.5" fill="#6b6f73">Anderson</text><text x="709.7" y="318.8" text-anchor="middle" font-family="Liberation Sans" font-size="2.5" fill="#6b6f73">Clifton</text><text x="677.8" y="347.2" text-anchor="middle" font-family="Liberation Sans" font-size="2.5" fill="#6b6f73">Delhi</text><text x="632.6" y="275.0" text-anchor="middle" font-family="Liberation Sans" font-size="2.5" fill="#6b6f73">Crosby</text><text x="718.1" y="270.1" text-anchor="middle" font-family="Liberation Sans" font-size="2.5" fill="#6b6f73">Sharonville</text><text x="695.8" y="297.9" text-anchor="middle" font-family="Liberation Sans" font-size="2.5" fill="#6b6f73">College Hill</text><text x="706.9" y="345.6" text-anchor="middle" font-family="Liberation Sans" font-size="2.5" fill="#6b6f73">Cincinnati</text></g>
<line class="ar" x1="704.4" y1="336.4" x2="687.7" y2="378.9" stroke-width="1.9"/>
<polygon class="ah" points="679.2,375.7 696.2,382.1 681.7,394.0"/>
<circle cx="704.4" cy="336.4" r="5.8" fill="#000"/>
<clipPath id="ctol"><path d="M871.5 265.8C891.6 265.1 911.7 264.3 931.8 263.6C953.8 262.9 975.8 262.2 997.8 261.5C996.4 264.4 994.8 267.1 993.5 270.1C992.8 271.7 992.5 273.4 992.1 275.1L1006.4 270.1L1009.3 273.0L997.8 278.0C1003.6 278.0 1009.3 278.1 1015.0 278.0C1019.8 277.9 1024.8 278.7 1029.4 277.3C1032.0 276.4 1033.2 273.4 1035.1 271.5C1036.6 272.5 1037.8 273.9 1039.4 274.4C1041.7 275.1 1044.2 274.9 1046.6 275.1L1045.2 280.1C1047.6 282.5 1049.4 285.7 1052.4 287.3C1054.5 288.5 1057.1 287.8 1059.5 288.0C1061.0 290.2 1062.5 292.3 1063.8 294.5C1064.9 296.1 1065.8 297.9 1066.7 299.5C1069.6 299.5 1072.6 298.7 1075.3 299.5C1078.5 300.5 1081.1 302.9 1083.9 304.6C1076.3 304.8 1068.6 305.2 1061.0 305.3C1037.1 305.6 1013.1 305.6 989.2 306.0C983.5 306.1 977.7 306.4 972.0 306.7C969.1 306.9 965.9 306.1 963.4 307.4C961.2 308.5 960.4 311.2 959.1 313.2C957.1 316.0 955.7 319.3 953.3 321.8C950.8 324.4 947.5 326.0 944.7 328.2C943.2 329.4 942.0 330.9 940.4 331.8C937.7 333.5 934.5 334.4 931.8 336.1C929.2 337.8 926.1 339.2 924.6 341.9C922.6 345.3 923.0 349.6 921.7 353.4C921.1 355.4 920.2 357.5 918.9 359.1C917.3 360.9 914.8 361.7 913.1 363.4C911.4 365.1 910.7 367.7 908.8 369.2C906.7 370.7 903.7 370.5 901.6 372.0C900.2 373.0 900.2 375.4 898.8 376.3C895.7 378.3 891.9 378.9 888.7 380.6C886.1 382.0 884.2 384.4 881.5 385.7C877.9 387.3 873.9 388.1 870.0 389.2L870.0 307.4L871.5 307.4L871.5 265.8Z"/></clipPath>
<g id="ttol" clip-path="url(#ctol)"><g filter="url(#sb)">
<polygon points="871.5,265.8 931.8,263.6 997.8,261.5 993.5,270.1 992.1,275.1 1006.4,270.1 1009.3,273.0 997.8,278.0 1015.0,278.0 1029.4,277.3 1035.1,271.5 1039.4,274.4 1046.6,275.1 1045.2,280.1 1052.4,287.3 1059.5,288.0 1063.8,294.5 1066.7,299.5 1075.3,299.5 1083.9,304.6 1061.0,305.3 989.2,306.0 972.0,306.7 963.4,307.4 959.1,313.2 953.3,321.8 944.7,328.2 940.4,331.8 931.8,336.1 924.6,341.9 921.7,353.4 918.9,359.1 913.1,363.4 908.8,369.2 901.6,372.0 898.8,376.3 888.7,380.6 881.5,385.7 870.0,389.2 870.0,307.4 871.5,307.4" fill="#c2e6c9" stroke="#c2e6c9" stroke-width="3"/>
<polygon points="927.5,265.1 997.8,261.5 993.5,270.1 992.1,275.1 1006.4,270.1 1009.3,273.0 997.8,278.0 1023.7,278.0 1023.7,305.3 989.2,306.0 972.0,306.7 963.4,307.4 959.1,313.2 953.3,321.8 944.7,328.2 940.4,331.8 931.8,336.1 928.9,330.4 927.5,293.1" fill="#eceff1"/>
<polygon points="871.5,265.8 890.1,265.5 889.4,271.5 878.7,273.7 871.8,271.5" fill="#eceff1"/>
<polygon points="888.7,340.4 903.1,339.0 902.3,349.1 889.4,349.1" fill="#eceff1"/>
<polygon points="910.2,349.1 921.7,349.1 920.3,359.1 913.1,363.4 908.8,359.1" fill="#eceff1"/>
<polygon points="872.2,323.2 885.8,324.6 886.6,340.4 872.9,339.0" fill="#a9d9b6"/>
<polygon points="1032.3,274.4 1046.6,275.8 1043.7,284.5 1033.7,283.0" fill="#a9d9b6"/>
<polygon points="951.9,285.9 957.6,285.9 957.6,290.2 951.9,290.2" fill="#c2e6c9"/>
<polygon points="1000.7,294.5 1006.4,294.5 1006.4,298.8 1000.7,298.8" fill="#c2e6c9"/>
<polygon points="1007.9,278.7 1012.2,278.7 1012.2,281.6 1007.9,281.6" fill="#c2e6c9"/>
<polygon points="931.8,275.8 937.5,275.8 937.5,281.6 931.8,281.6" fill="#c2e6c9"/>
<rect x="870.0" y="261.5" width="213.9" height="127.8" filter="url(#spw)" opacity="0.55"/>
<polyline points="934.3,261.5 932.5,277.0 930.5,292.5 930.3,308.0 928.9,323.5 926.8,339.0" fill="none" stroke="#f5e1a6" stroke-width="0.5"/>
<polyline points="927.5,266.8 946.7,268.0 965.9,269.2 985.2,271.9 1004.4,274.2 1023.7,274.8" fill="none" stroke="#f5e1a6" stroke-width="0.5"/>
<polyline points="944.8,261.5 943.3,277.0 941.4,292.5 942.2,308.0 940.1,323.5 939.0,339.0" fill="none" stroke="#f5e1a6" stroke-width="0.5"/>
<polyline points="927.5,276.2 946.7,276.7 965.9,279.1 985.2,281.3 1004.4,282.3 1023.7,286.0" fill="none" stroke="#f5e1a6" stroke-width="0.5"/>
<polyline points="952.6,261.5 952.6,277.0 949.6,292.5 950.0,308.0 947.4,323.5 946.2,339.0" fill="none" stroke="#f5e1a6" stroke-width="0.5"/>
<polyline points="927.5,282.0 946.7,284.1 965.9,285.2 985.2,286.7 1004.4,290.4 1023.7,290.8" fill="none" stroke="#f5e1a6" stroke-width="0.5"/>
<polyline points="966.0,261.5 966.3,277.0 964.7,292.5 962.9,308.0 961.5,323.5 959.6,339.0" fill="none" stroke="#f5e1a6" stroke-width="0.5"/>
<polyline points="927.5,293.6 946.7,294.0 965.9,296.6 985.2,299.2 1004.4,299.6 1023.7,303.1" fill="none" stroke="#f5e1a6" stroke-width="0.5"/>
<polyline points="977.8,261.5 976.3,277.0 975.0,292.5 973.4,308.0 973.4,323.5 970.5,339.0" fill="none" stroke="#f5e1a6" stroke-width="0.5"/>
<polyline points="927.5,301.2 946.7,303.1 965.9,306.4 985.2,308.8 1004.4,309.5 1023.7,311.3" fill="none" stroke="#f5e1a6" stroke-width="0.5"/>
<polyline points="987.1,261.5 984.5,277.0 983.9,292.5 982.3,308.0 981.0,323.5 978.6,339.0" fill="none" stroke="#f5e1a6" stroke-width="0.5"/>
<polyline points="927.5,308.4 946.7,310.6 965.9,313.7 985.2,314.2 1004.4,316.6 1023.7,317.7" fill="none" stroke="#f5e1a6" stroke-width="0.5"/>
<polyline points="993.4,261.5 993.7,277.0 992.1,292.5 989.7,308.0 989.0,323.5 987.5,339.0" fill="none" stroke="#f5e1a6" stroke-width="0.5"/>
<polyline points="927.5,316.3 946.7,318.3 965.9,318.8 985.2,322.0 1004.4,323.7 1023.7,324.7" fill="none" stroke="#f5e1a6" stroke-width="0.5"/>
<polyline points="1010.1,261.5 1008.3,277.0 1006.6,292.5 1006.6,308.0 1003.5,323.5 1001.8,339.0" fill="none" stroke="#f5e1a6" stroke-width="0.5"/>
<polyline points="927.5,328.8 946.7,330.5 965.9,331.6 985.2,334.3 1004.4,334.3 1023.7,336.5" fill="none" stroke="#f5e1a6" stroke-width="0.5"/>
<polyline points="1016.8,261.5 1014.7,277.0 1013.1,292.5 1012.2,308.0 1012.1,323.5 1010.8,339.0" fill="none" stroke="#f5e1a6" stroke-width="0.5"/>
<polyline points="927.5,334.2 946.7,335.4 965.9,336.7 985.2,340.1 1004.4,340.9 1023.7,343.2" fill="none" stroke="#f5e1a6" stroke-width="0.5"/>
<polyline points="928.7,261.5 932.9,277.0 933.0,292.5 934.9,308.0 938.1,323.5 939.4,339.0" fill="none" stroke="#ffffff" stroke-width="0.35"/>
<polyline points="927.5,264.2 946.7,260.2 965.9,259.4 985.2,255.5 1004.4,253.7 1023.7,251.9" fill="none" stroke="#ffffff" stroke-width="0.35"/>
<polyline points="941.4,261.5 942.9,277.0 943.3,292.5 947.2,308.0 948.6,323.5 949.9,339.0" fill="none" stroke="#ffffff" stroke-width="0.35"/>
<polyline points="927.5,271.2 946.7,270.2 965.9,267.1 985.2,265.5 1004.4,262.6 1023.7,260.6" fill="none" stroke="#ffffff" stroke-width="0.35"/>
<polyline points="948.3,261.5 950.1,277.0 951.3,292.5 954.9,308.0 955.4,323.5 958.4,339.0" fill="none" stroke="#ffffff" stroke-width="0.35"/>
<polyline points="927.5,278.9 946.7,275.8 965.9,272.1 985.2,271.2 1004.4,268.4 1023.7,264.8" fill="none" stroke="#ffffff" stroke-width="0.35"/>
<polyline points="953.4,261.5 954.3,277.0 958.3,292.5 959.4,308.0 961.4,323.5 963.1,339.0" fill="none" stroke="#ffffff" stroke-width="0.35"/>
<polyline points="927.5,282.7 946.7,280.8 965.9,277.0 985.2,274.6 1004.4,272.6 1023.7,269.5" fill="none" stroke="#ffffff" stroke-width="0.35"/>
<polyline points="964.1,261.5 965.8,277.0 968.4,292.5 970.0,308.0 971.0,323.5 975.1,339.0" fill="none" stroke="#ffffff" stroke-width="0.35"/>
<polyline points="927.5,290.6 946.7,288.3 965.9,285.8 985.2,284.5 1004.4,282.1 1023.7,278.6" fill="none" stroke="#ffffff" stroke-width="0.35"/>
<polyline points="970.1,261.5 974.0,277.0 974.3,292.5 977.2,308.0 978.7,323.5 980.7,339.0" fill="none" stroke="#ffffff" stroke-width="0.35"/>
<polyline points="927.5,296.3 946.7,293.4 965.9,290.6 985.2,289.3 1004.4,287.4 1023.7,284.6" fill="none" stroke="#ffffff" stroke-width="0.35"/>
<polyline points="978.6,261.5 979.1,277.0 981.9,292.5 984.9,308.0 987.1,323.5 988.0,339.0" fill="none" stroke="#ffffff" stroke-width="0.35"/>
<polyline points="927.5,303.1 946.7,299.8 965.9,297.4 985.2,295.1 1004.4,293.5 1023.7,290.5" fill="none" stroke="#ffffff" stroke-width="0.35"/>
<polyline points="988.0,261.5 989.8,277.0 991.1,292.5 994.1,308.0 996.2,323.5 997.7,339.0" fill="none" stroke="#ffffff" stroke-width="0.35"/>
<polyline points="927.5,310.8 946.7,306.2 965.9,304.9 985.2,302.7 1004.4,299.6 1023.7,296.7" fill="none" stroke="#ffffff" stroke-width="0.35"/>
<polyline points="996.4,261.5 998.0,277.0 999.5,292.5 1003.6,308.0 1004.2,323.5 1005.6,339.0" fill="none" stroke="#ffffff" stroke-width="0.35"/>
<polyline points="927.5,316.5 946.7,314.1 965.9,313.0 985.2,309.0 1004.4,306.7 1023.7,303.8" fill="none" stroke="#ffffff" stroke-width="0.35"/>
<polyline points="1002.8,261.5 1005.1,277.0 1008.0,292.5 1010.4,308.0 1012.2,323.5 1012.4,339.0" fill="none" stroke="#ffffff" stroke-width="0.35"/>
<polyline points="927.5,322.5 946.7,321.1 965.9,316.7 985.2,314.6 1004.4,312.8 1023.7,310.1" fill="none" stroke="#ffffff" stroke-width="0.35"/>
<polyline points="1013.3,261.5 1014.7,277.0 1016.2,292.5 1018.2,308.0 1020.3,323.5 1021.8,339.0" fill="none" stroke="#ffffff" stroke-width="0.35"/>
<polyline points="927.5,330.7 946.7,327.0 965.9,326.2 985.2,323.2 1004.4,319.4 1023.7,317.9" fill="none" stroke="#ffffff" stroke-width="0.35"/>
<polyline points="1019.1,261.5 1022.1,277.0 1023.1,292.5 1026.7,308.0 1027.0,323.5 1030.4,339.0" fill="none" stroke="#ffffff" stroke-width="0.35"/>
<polyline points="927.5,337.3 946.7,334.5 965.9,330.6 985.2,328.8 1004.4,325.4 1023.7,323.4" fill="none" stroke="#ffffff" stroke-width="0.35"/>
<polyline points="875.8,265.8 875.8,387.8" fill="none" stroke="#e4f3e8" stroke-width="0.35"/>
<polyline points="881.0,265.8 881.0,387.8" fill="none" stroke="#e4f3e8" stroke-width="0.35"/>
<polyline points="886.1,265.8 886.1,387.8" fill="none" stroke="#e4f3e8" stroke-width="0.35"/>
<polyline points="891.3,265.8 891.3,387.8" fill="none" stroke="#e4f3e8" stroke-width="0.35"/>
<polyline points="896.5,265.8 896.5,387.8" fill="none" stroke="#e4f3e8" stroke-width="0.35"/>
<polyline points="901.6,265.8 901.6,387.8" fill="none" stroke="#e4f3e8" stroke-width="0.35"/>
<polyline points="906.8,265.8 906.8,387.8" fill="none" stroke="#e4f3e8" stroke-width="0.35"/>
<polyline points="912.0,265.8 912.0,387.8" fill="none" stroke="#e4f3e8" stroke-width="0.35"/>
<polyline points="917.1,265.8 917.1,387.8" fill="none" stroke="#e4f3e8" stroke-width="0.35"/>
<polyline points="922.3,265.8 922.3,387.8" fill="none" stroke="#e4f3e8" stroke-width="0.35"/>
<polyline points="870.0,270.1 934.6,270.1" fill="none" stroke="#e4f3e8" stroke-width="0.35"/>
<polyline points="870.0,275.3 934.6,275.3" fill="none" stroke="#e4f3e8" stroke-width="0.35"/>
<polyline points="870.0,280.4 934.6,280.4" fill="none" stroke="#e4f3e8" stroke-width="0.35"/>
<polyline points="870.0,285.6 934.6,285.6" fill="none" stroke="#e4f3e8" stroke-width="0.35"/>
<polyline points="870.0,290.8 934.6,290.8" fill="none" stroke="#e4f3e8" stroke-width="0.35"/>
<polyline points="870.0,295.9 934.6,295.9" fill="none" stroke="#e4f3e8" stroke-width="0.35"/>
<polyline points="870.0,301.1 934.6,301.1" fill="none" stroke="#e4f3e8" stroke-width="0.35"/>
<polyline points="870.0,306.3 934.6,306.3" fill="none" stroke="#e4f3e8" stroke-width="0.35"/>
<polyline points="870.0,311.4 934.6,311.4" fill="none" stroke="#e4f3e8" stroke-width="0.35"/>
<polyline points="870.0,316.6 934.6,316.6" fill="none" stroke="#e4f3e8" stroke-width="0.35"/>
<polyline points="870.0,321.8 934.6,321.8" fill="none" stroke="#e4f3e8" stroke-width="0.35"/>
<polyline points="870.0,326.9 934.6,326.9" fill="none" stroke="#e4f3e8" stroke-width="0.35"/>
<polyline points="870.0,332.1 934.6,332.1" fill="none" stroke="#e4f3e8" stroke-width="0.35"/>
<polyline points="870.0,337.3 934.6,337.3" fill="none" stroke="#e4f3e8" stroke-width="0.35"/>
<polyline points="870.0,342.4 934.6,342.4" fill="none" stroke="#e4f3e8" stroke-width="0.35"/>
<polyline points="870.0,347.6 934.6,347.6" fill="none" stroke="#e4f3e8" stroke-width="0.35"/>
<polyline points="870.0,352.8 934.6,352.8" fill="none" stroke="#e4f3e8" stroke-width="0.35"/>
<polyline points="870.0,358.0 934.6,358.0" fill="none" stroke="#e4f3e8" stroke-width="0.35"/>
<polyline points="870.0,363.1 934.6,363.1" fill="none" stroke="#e4f3e8" stroke-width="0.35"/>
<polyline points="870.0,368.3 934.6,368.3" fill="none" stroke="#e4f3e8" stroke-width="0.35"/>
<polyline points="870.0,373.5 934.6,373.5" fill="none" stroke="#e4f3e8" stroke-width="0.35"/>
<polyline points="870.0,378.6 934.6,378.6" fill="none" stroke="#e4f3e8" stroke-width="0.35"/>
<polyline points="870.0,383.8 934.6,383.8" fill="none" stroke="#e4f3e8" stroke-width="0.35"/>
<polyline points="1007.9,271.5 993.5,280.1 983.5,290.2 974.8,298.1 966.2,304.6 960.5,311.7 951.9,321.8" fill="none" stroke="#a9c9f2" stroke-width="1.3"/>
<polyline points="871.5,284.5 927.5,284.5 960.5,278.7 984.9,265.8" fill="none" stroke="#f6d98a" stroke-width="1.0"/>
<polyline points="870.0,317.5 917.4,317.5 946.1,317.5 974.8,299.5" fill="none" stroke="#f6d98a" stroke-width="1.0"/>
<polyline points="927.5,265.8 927.5,330.4" fill="none" stroke="#f6d98a" stroke-width="1.0"/>
<polyline points="974.8,299.5 1017.9,298.8 1075.3,300.2" fill="none" stroke="#f6d98a" stroke-width="1.0"/>
<polyline points="881.5,384.9 907.4,359.1 931.8,336.1 960.5,313.2" fill="none" stroke="#f6d98a" stroke-width="1.0"/>
<polyline points="984.9,262.9 983.5,290.2" fill="none" stroke="#f6d98a" stroke-width="1.0"/>
<polyline points="934.6,293.1 960.5,278.7 984.9,278.7" fill="none" stroke="#f6d98a" stroke-width="1.0"/>
<polyline points="946.1,270.1 960.5,278.7 969.1,293.1 974.8,299.5" fill="none" stroke="#f6d98a" stroke-width="1.0"/>
<polyline points="934.6,265.8 934.6,330.4" fill="none" stroke="#f6d98a" stroke-width="1.0"/>
</g><text x="880.1" y="267.9" text-anchor="middle" font-family="Liberation Sans" font-size="2.5" fill="#6b6f73">Berkey</text><text x="920.3" y="266.5" text-anchor="middle" font-family="Liberation Sans" font-size="2.5" fill="#6b6f73">Sylvania</text><text x="944.7" y="271.5" text-anchor="middle" font-family="Liberation Sans" font-size="2.5" fill="#6b6f73">Ottawa Hills</text><text x="963.4" y="265.5" text-anchor="middle" font-family="Liberation Sans" font-size="2.5" fill="#6b6f73">Temperance</text><text x="990.6" y="263.6" text-anchor="middle" font-family="Liberation Sans" font-size="2.5" fill="#6b6f73">Point Place</text><text x="911.7" y="281.6" text-anchor="middle" font-family="Liberation Sans" font-size="2.5" fill="#6b6f73">Holland</text><text x="940.4" y="288.5" text-anchor="middle" font-family="Liberation Sans" font-size="2.5" fill="#6b6f73">Reynolds Cor.</text><text x="921.7" y="305.7" text-anchor="middle" font-family="Liberation Sans" font-size="2.5" fill="#6b6f73">Maumee</text><text x="934.6" y="312.0" text-anchor="middle" font-family="Liberation Sans" font-size="2.5" fill="#6b6f73">Perrysburg</text><text x="894.5" y="346.5" text-anchor="middle" font-family="Liberation Sans" font-size="2.5" fill="#6b6f73">Whitehouse</text><text x="914.6" y="331.1" text-anchor="middle" font-family="Liberation Sans" font-size="2.5" fill="#6b6f73">Monclova</text><text x="917.4" y="354.1" text-anchor="middle" font-family="Liberation Sans" font-size="2.5" fill="#6b6f73">Waterville</text><text x="874.4" y="357.4" text-anchor="middle" font-family="Liberation Sans" font-size="2.5" fill="#6b6f73">Swanton</text><text x="989.2" y="296.7" text-anchor="middle" font-family="Liberation Sans" font-size="2.5" fill="#6b6f73">Oregon</text><text x="1053.8" y="300.0" text-anchor="middle" font-family="Liberation Sans" font-size="2.5" fill="#6b6f73">Bono</text><text x="1038.0" y="280.9" text-anchor="middle" font-family="Liberation Sans" font-size="2.5" fill="#6b6f73">Maumee Bay</text><text x="973.4" y="293.1" text-anchor="middle" font-family="Liberation Sans" font-size="2.5" fill="#6b6f73">Toledo</text><text x="1003.6" y="276.1" text-anchor="middle" font-family="Liberation Sans" font-size="2.5" fill="#6b6f73">Harbor View</text><text x="883.0" y="318.9" text-anchor="middle" font-family="Liberation Sans" font-size="2.5" fill="#6b6f73">Oak Openings</text></g>
<line class="ar" x1="974.8" y1="299.5" x2="975.3" y2="379.9" stroke-width="1.9"/>
<polygon class="ah" points="966.2,379.9 984.4,379.9 975.3,395.9"/>
<circle cx="974.8" cy="299.5" r="5.8" fill="#000"/>
<clipPath id="cakr"><path d="M122.7 592.0L188.4 593.0L188.4 747.2L179.5 748.2L179.5 782.0L105.8 780.0L105.8 746.2L92.9 746.2L92.9 623.8L130.7 623.8C130.7 621.5 131.6 619.0 130.7 616.8C129.2 613.1 125.0 610.7 123.7 606.9C122.2 602.1 123.1 596.9 122.7 592.0Z"/></clipPath>
<g id="takr" clip-path="url(#cakr)"><g filter="url(#sb)">
<polygon points="122.7,592.0 188.4,593.0 188.4,747.2 179.5,748.2 179.5,782.0 105.8,780.0 105.8,746.2 92.9,746.2 92.9,623.8 130.7,623.8 130.7,616.8 123.7,606.9" fill="#f7f8f8" stroke="#f7f8f8" stroke-width="3"/>
<polygon points="92.9,623.8 130.7,623.8 130.7,616.8 153.6,622.8 159.6,644.7 155.6,668.6 163.5,684.5 153.6,704.4 129.7,712.4 92.9,714.4" fill="#d3e9d6"/>
<polygon points="122.7,592.0 188.4,593.0 188.4,622.8 169.5,608.9 129.7,604.9" fill="#d3e9d6"/>
<polygon points="165.5,640.7 187.4,642.7 187.4,664.6 169.5,660.6" fill="#d3e9d6"/>
<polygon points="115.8,644.7 149.6,642.7 153.6,668.6 129.7,674.6 117.8,664.6" fill="#c9e4cc"/>
<polyline points="96.2,592.0 91.9,630.0 85.0,668.0 79.7,706.0 74.8,744.0 71.3,782.0" fill="none" stroke="#d3daea" stroke-width="0.35" stroke-linejoin="round"/>
<polyline points="92.9,598.1 112.0,602.6 131.1,605.0 150.2,605.9 169.3,609.8 188.4,612.2" fill="none" stroke="#d3daea" stroke-width="0.35" stroke-linejoin="round"/>
<polyline points="114.2,592.0 106.1,630.0 100.7,668.0 98.4,706.0 91.5,744.0 85.6,782.0" fill="none" stroke="#d3daea" stroke-width="0.35" stroke-linejoin="round"/>
<polyline points="92.9,630.7 112.0,633.5 131.1,638.0 150.2,638.2 169.3,640.8 188.4,644.6" fill="none" stroke="#d3daea" stroke-width="0.35" stroke-linejoin="round"/>
<polyline points="128.8,592.0 123.3,630.0 116.5,668.0 110.8,706.0 107.6,744.0 102.9,782.0" fill="none" stroke="#d3daea" stroke-width="0.35" stroke-linejoin="round"/>
<polyline points="92.9,659.1 112.0,664.0 131.1,667.0 150.2,668.9 169.3,670.2 188.4,674.6" fill="none" stroke="#d3daea" stroke-width="0.35" stroke-linejoin="round"/>
<polyline points="141.6,592.0 137.8,630.0 131.2,668.0 125.4,706.0 121.2,744.0 116.0,782.0" fill="none" stroke="#d3daea" stroke-width="0.35" stroke-linejoin="round"/>
<polyline points="92.9,690.4 112.0,693.8 131.1,697.0 150.2,700.1 169.3,702.7 188.4,705.4" fill="none" stroke="#d3daea" stroke-width="0.35" stroke-linejoin="round"/>
<polyline points="156.0,592.0 150.4,630.0 146.6,668.0 141.2,706.0 136.4,744.0 129.3,782.0" fill="none" stroke="#d3daea" stroke-width="0.35" stroke-linejoin="round"/>
<polyline points="92.9,717.9 112.0,722.8 131.1,724.4 150.2,727.3 169.3,728.0 188.4,731.6" fill="none" stroke="#d3daea" stroke-width="0.35" stroke-linejoin="round"/>
<polyline points="171.8,592.0 167.7,630.0 159.9,668.0 155.5,706.0 151.4,744.0 145.1,782.0" fill="none" stroke="#d3daea" stroke-width="0.35" stroke-linejoin="round"/>
<polyline points="92.9,748.9 112.0,750.8 131.1,752.0 150.2,754.5 169.3,760.0 188.4,759.8" fill="none" stroke="#d3daea" stroke-width="0.35" stroke-linejoin="round"/>
<polyline points="178.6,592.0 174.6,630.0 169.8,668.0 163.4,706.0 158.2,744.0 154.0,782.0" fill="none" stroke="#d3daea" stroke-width="0.35" stroke-linejoin="round"/>
<polyline points="92.9,762.8 112.0,765.7 131.1,769.1 150.2,771.7 169.3,772.5 188.4,775.3" fill="none" stroke="#d3daea" stroke-width="0.35" stroke-linejoin="round"/>
<polyline points="98.5,592.0 95.9,630.0 90.1,668.0 86.3,706.0 79.9,744.0 76.7,782.0" fill="none" stroke="#b7c1dd" stroke-width="0.4" stroke-linejoin="round"/>
<polyline points="92.9,605.5 112.0,606.8 131.1,610.4 150.2,612.4 169.3,613.1 188.4,614.2" fill="none" stroke="#b7c1dd" stroke-width="0.4" stroke-linejoin="round"/>
<polyline points="123.3,592.0 118.4,630.0 116.2,668.0 112.0,706.0 107.5,744.0 103.4,782.0" fill="none" stroke="#b7c1dd" stroke-width="0.4" stroke-linejoin="round"/>
<polyline points="92.9,653.9 112.0,655.7 131.1,658.1 150.2,663.1 169.3,662.6 188.4,665.0" fill="none" stroke="#b7c1dd" stroke-width="0.4" stroke-linejoin="round"/>
<polyline points="133.7,592.0 129.2,630.0 125.7,668.0 120.6,706.0 116.5,744.0 114.0,782.0" fill="none" stroke="#b7c1dd" stroke-width="0.4" stroke-linejoin="round"/>
<polyline points="92.9,675.0 112.0,679.3 131.1,681.3 150.2,683.1 169.3,685.3 188.4,688.2" fill="none" stroke="#b7c1dd" stroke-width="0.4" stroke-linejoin="round"/>
<polyline points="159.9,592.0 155.7,630.0 150.9,668.0 146.9,706.0 144.3,744.0 138.0,782.0" fill="none" stroke="#b7c1dd" stroke-width="0.4" stroke-linejoin="round"/>
<polyline points="92.9,725.6 112.0,729.2 131.1,732.5 150.2,733.6 169.3,736.7 188.4,737.0" fill="none" stroke="#b7c1dd" stroke-width="0.4" stroke-linejoin="round"/>
<polyline points="174.4,592.0 167.9,630.0 164.2,668.0 160.0,706.0 154.8,744.0 149.8,782.0" fill="none" stroke="#b7c1dd" stroke-width="0.4" stroke-linejoin="round"/>
<polyline points="92.9,751.5 112.0,756.7 131.1,758.2 150.2,761.3 169.3,762.1 188.4,765.8" fill="none" stroke="#b7c1dd" stroke-width="0.4" stroke-linejoin="round"/>
<polyline points="92.9,654.7 109.8,644.7 135.7,630.8 188.4,630.8" fill="none" stroke="#97a6cf" stroke-width="0.7" stroke-linejoin="round"/>
<polyline points="92.9,638.7 188.4,638.7" fill="none" stroke="#97a6cf" stroke-width="0.7" stroke-linejoin="round"/>
<polyline points="147.6,593.0 149.6,624.8 159.6,654.7 157.6,684.5 149.6,704.4 147.6,717.3" fill="none" stroke="#97a6cf" stroke-width="0.7" stroke-linejoin="round"/>
<polyline points="112.8,623.8 112.8,672.6 99.9,704.4 99.9,746.2" fill="none" stroke="#97a6cf" stroke-width="0.7" stroke-linejoin="round"/>
<polyline points="92.9,683.5 129.7,683.5 149.6,704.4" fill="none" stroke="#97a6cf" stroke-width="0.7" stroke-linejoin="round"/>
<polyline points="92.9,722.3 188.4,722.3" fill="none" stroke="#97a6cf" stroke-width="0.7" stroke-linejoin="round"/>
<polyline points="129.7,724.3 139.7,732.3 135.7,748.2 129.7,780.0" fill="none" stroke="#97a6cf" stroke-width="0.7" stroke-linejoin="round"/>
<polyline points="147.6,717.3 165.5,732.3 165.5,780.0" fill="none" stroke="#97a6cf" stroke-width="0.7" stroke-linejoin="round"/>
<polyline points="147.6,717.3 188.4,708.4" fill="none" stroke="#97a6cf" stroke-width="0.7" stroke-linejoin="round"/>
<polyline points="173.5,593.0 173.5,780.0" fill="none" stroke="#97a6cf" stroke-width="0.7" stroke-linejoin="round"/>
<polyline points="157.6,684.5 188.4,674.6" fill="none" stroke="#97a6cf" stroke-width="0.7" stroke-linejoin="round"/>
<polyline points="149.6,700.4 188.4,699.4" fill="none" stroke="#97a6cf" stroke-width="0.7" stroke-linejoin="round"/>
<polyline points="119.8,688.5 147.6,717.3" fill="none" stroke="#97a6cf" stroke-width="0.7" stroke-linejoin="round"/>
<polyline points="129.7,606.9 188.4,607.9" fill="none" stroke="#97a6cf" stroke-width="0.7" stroke-linejoin="round"/>
<polyline points="92.9,732.3 188.4,731.3" fill="none" stroke="#97a6cf" stroke-width="0.7" stroke-linejoin="round"/>
<polyline points="105.8,754.2 179.5,754.2" fill="none" stroke="#97a6cf" stroke-width="0.7" stroke-linejoin="round"/>
<polyline points="123.7,712.4 125.7,780.0" fill="none" stroke="#97a6cf" stroke-width="0.7" stroke-linejoin="round"/>
<polyline points="153.6,724.3 155.6,781.0" fill="none" stroke="#97a6cf" stroke-width="0.7" stroke-linejoin="round"/>
<polygon points="135.7,736.2 140.0,736.2 139.7,752.2 135.3,750.2" fill="#bfe0f0"/><polygon points="141.6,764.1 147.2,764.1 146.6,775.0 142.0,774.1" fill="#bfe0f0"/>
</g><text x="143.6" y="594.6" text-anchor="middle" font-family="Liberation Sans" font-size="2.6" fill="#4a4f55">Northfield</text><text x="146.6" y="605.9" text-anchor="middle" font-family="Liberation Sans" font-size="2.6" fill="#4a4f55">Macedonia</text><text x="175.5" y="607.9" text-anchor="middle" font-family="Liberation Sans" font-size="2.6" fill="#4a4f55">Twinsburg</text><text x="135.7" y="618.8" text-anchor="middle" font-family="Liberation Sans" font-size="2.6" fill="#4a4f55">Boston Hts</text><text x="131.7" y="626.8" text-anchor="middle" font-family="Liberation Sans" font-size="2.6" fill="#4a4f55">Peninsula</text><text x="108.8" y="639.7" text-anchor="middle" font-family="Liberation Sans" font-size="2.6" fill="#4a4f55">Richfield</text><text x="136.7" y="639.1" text-anchor="middle" font-family="Liberation Sans" font-size="2.6" fill="#4a4f55">Hudson</text><text x="173.5" y="639.7" text-anchor="middle" font-family="Liberation Sans" font-size="2.6" fill="#4a4f55">Streetsboro</text><text x="118.8" y="688.1" text-anchor="middle" font-family="Liberation Sans" font-size="2.6" fill="#4a4f55">Fairlawn</text><text x="157.6" y="683.9" text-anchor="middle" font-family="Liberation Sans" font-size="2.6" fill="#4a4f55">Cuyahoga Falls</text><text x="106.8" y="700.0" text-anchor="middle" font-family="Liberation Sans" font-size="2.6" fill="#4a4f55">Copley</text><text x="173.5" y="698.8" text-anchor="middle" font-family="Liberation Sans" font-size="2.6" fill="#4a4f55">Tallmadge</text><text x="146.6" y="708.0" text-anchor="middle" font-family="Liberation Sans" font-size="2.6" fill="#4a4f55">Akron</text><text x="108.8" y="730.3" text-anchor="middle" font-family="Liberation Sans" font-size="2.6" fill="#4a4f55">Norton</text><text x="118.8" y="737.2" text-anchor="middle" font-family="Liberation Sans" font-size="2.6" fill="#4a4f55">Barberton</text><text x="183.4" y="722.3" text-anchor="middle" font-family="Liberation Sans" font-size="2.6" fill="#4a4f55">Mogadore</text><text x="138.7" y="767.1" text-anchor="middle" font-family="Liberation Sans" font-size="2.6" fill="#4a4f55">New Franklin</text><text x="158.6" y="766.1" text-anchor="middle" font-family="Liberation Sans" font-size="2.6" fill="#4a4f55">Green</text><text x="135.7" y="650.7" text-anchor="middle" font-family="Liberation Sans" font-size="2.6" fill="#4a4f55">Cuyahoga Valley</text></g>
<line class="ar" x1="147.6" y1="717.3" x2="148.7" y2="780.0" stroke-width="2.6"/>
<polygon class="ah" points="139.5,780.0 157.9,780.0 148.6,795.3"/>
<circle cx="147.6" cy="717.3" r="5.8" fill="#000"/>
<clipPath id="cday"><path d="M351.7 644.5L445.7 642.6C445.7 645.2 445.0 647.9 445.7 650.5C446.4 653.1 448.3 655.2 449.6 657.5L479.5 659.1L478.0 676.4L468.5 676.4C468.3 683.0 468.7 689.6 467.7 696.1C467.1 700.5 464.2 704.3 463.8 708.7C462.9 719.2 464.3 729.7 463.8 740.2C463.5 746.5 462.0 752.8 461.4 759.1C461.0 764.3 460.9 769.6 460.6 774.8C448.6 773.8 436.5 772.3 424.4 771.7C400.6 770.4 376.7 770.1 352.8 769.3L351.7 644.5Z"/></clipPath>
<g id="tday" clip-path="url(#cday)"><g filter="url(#sb)">
<polygon points="351.7,644.5 445.7,642.6 445.7,650.5 449.6,657.5 479.5,659.1 478.0,676.4 468.5,676.4 467.7,696.1 463.8,708.7 463.8,740.2 461.4,759.1 460.6,774.8 424.4,771.7 352.8,769.3" fill="#eceff1" stroke="#eceff1" stroke-width="3"/>
<rect x="351.7" y="642.6" width="127.8" height="132.2" filter="url(#spk)" opacity="0.75"/>
<polygon points="351.7,644.5 385.9,644.5 385.9,708.7 404.0,708.7 404.0,738.6 411.9,749.6 424.4,755.9 424.4,771.7 352.8,769.3" fill="#c2e6c9"/>
<polygon points="407.1,647.3 424.4,645.7 440.2,647.3 438.6,667.8 430.7,681.9 418.1,677.2 411.9,664.6" fill="#c2e6c9"/>
<polygon points="430.7,724.4 443.3,718.1 463.8,740.2 461.4,759.1 460.6,774.8 424.4,771.7 427.6,749.6" fill="#c2e6c9"/>
<polygon points="466.9,659.9 478.0,659.9 477.2,664.6 466.9,663.8" fill="#c2e6c9"/>
<polygon points="440.2,689.8 449.6,686.7 463.8,693.0 462.2,699.3 443.3,697.7" fill="#c2e6c9"/>
<polygon points="367.8,744.9 375.6,746.5 377.2,755.9 368.6,754.4" fill="#a9d9b6"/>
<polygon points="367.8,673.3 379.6,673.3 379.6,678.8 367.8,678.8" fill="#f1f3f4"/>
<polygon points="376.4,708.7 384.3,708.7 384.3,713.4 376.4,713.4" fill="#f1f3f4"/>
<polygon points="380.4,752.8 393.0,751.2 394.5,759.1 381.2,759.9" fill="#f1f3f4"/>
<polygon points="437.0,730.7 455.9,732.3 454.4,749.6 438.6,746.5" fill="#f1f3f4"/>
<polygon points="404.0,718.1 418.1,715.0 424.4,730.7 411.9,740.2 404.0,732.3" fill="#f1f3f4"/>
<rect x="351.7" y="642.6" width="127.8" height="132.2" filter="url(#spw)" opacity="0.6"/>
<polyline points="361.5,642.6 363.1,669.0 364.7,695.5 368.5,721.9 370.2,748.4 373.1,774.8" fill="none" stroke="#f5e1a6" stroke-width="0.5" stroke-linejoin="round"/>
<polyline points="351.7,652.5 377.3,651.4 402.8,648.0 428.4,647.2 454.0,645.0 479.5,642.1" fill="none" stroke="#f5e1a6" stroke-width="0.5" stroke-linejoin="round"/>
<polyline points="373.8,642.6 374.7,669.0 377.8,695.5 380.6,721.9 381.4,748.4 385.0,774.8" fill="none" stroke="#f5e1a6" stroke-width="0.5" stroke-linejoin="round"/>
<polyline points="351.7,665.4 377.3,663.7 402.8,660.4 428.4,657.6 454.0,657.3 479.5,655.2" fill="none" stroke="#f5e1a6" stroke-width="0.5" stroke-linejoin="round"/>
<polyline points="385.7,642.6 388.2,669.0 391.4,695.5 392.7,721.9 396.6,748.4 397.8,774.8" fill="none" stroke="#f5e1a6" stroke-width="0.5" stroke-linejoin="round"/>
<polyline points="351.7,678.1 377.3,677.1 402.8,674.3 428.4,673.6 454.0,671.5 479.5,668.4" fill="none" stroke="#f5e1a6" stroke-width="0.5" stroke-linejoin="round"/>
<polyline points="403.2,642.6 405.6,669.0 408.2,695.5 408.0,721.9 411.0,748.4 413.8,774.8" fill="none" stroke="#f5e1a6" stroke-width="0.5" stroke-linejoin="round"/>
<polyline points="351.7,694.8 377.3,693.4 402.8,690.1 428.4,689.9 454.0,687.0 479.5,683.8" fill="none" stroke="#f5e1a6" stroke-width="0.5" stroke-linejoin="round"/>
<polyline points="416.5,642.6 418.4,669.0 421.3,695.5 422.6,721.9 425.0,748.4 428.8,774.8" fill="none" stroke="#f5e1a6" stroke-width="0.5" stroke-linejoin="round"/>
<polyline points="351.7,710.6 377.3,706.8 402.8,706.6 428.4,702.6 454.0,701.3 479.5,700.7" fill="none" stroke="#f5e1a6" stroke-width="0.5" stroke-linejoin="round"/>
<polyline points="430.4,642.6 432.7,669.0 434.9,695.5 436.4,721.9 440.8,748.4 440.6,774.8" fill="none" stroke="#f5e1a6" stroke-width="0.5" stroke-linejoin="round"/>
<polyline points="351.7,724.3 377.3,723.0 402.8,720.0 428.4,719.4 454.0,715.4 479.5,715.2" fill="none" stroke="#f5e1a6" stroke-width="0.5" stroke-linejoin="round"/>
<polyline points="447.8,642.6 450.5,669.0 451.6,695.5 454.7,721.9 456.8,748.4 458.3,774.8" fill="none" stroke="#f5e1a6" stroke-width="0.5" stroke-linejoin="round"/>
<polyline points="351.7,741.5 377.3,740.0 402.8,737.1 428.4,734.2 454.0,733.8 479.5,730.5" fill="none" stroke="#f5e1a6" stroke-width="0.5" stroke-linejoin="round"/>
<polyline points="458.8,642.6 459.5,669.0 461.3,695.5 463.7,721.9 467.0,748.4 468.6,774.8" fill="none" stroke="#f5e1a6" stroke-width="0.5" stroke-linejoin="round"/>
<polyline points="351.7,752.1 377.3,750.4 402.8,749.5 428.4,745.8 454.0,744.0 479.5,743.1" fill="none" stroke="#f5e1a6" stroke-width="0.5" stroke-linejoin="round"/>
<polyline points="472.8,642.6 475.5,669.0 477.7,695.5 479.0,721.9 481.8,748.4 483.8,774.8" fill="none" stroke="#f5e1a6" stroke-width="0.5" stroke-linejoin="round"/>
<polyline points="351.7,769.2 377.3,765.9 402.8,764.7 428.4,763.3 454.0,761.1 479.5,757.7" fill="none" stroke="#f5e1a6" stroke-width="0.5" stroke-linejoin="round"/>
<polyline points="356.0,642.6 355.0,669.0 353.9,695.5 353.5,721.9 351.5,748.4 351.4,774.8" fill="none" stroke="#ffffff" stroke-width="0.35" stroke-linejoin="round"/>
<polyline points="351.7,646.0 377.3,647.7 402.8,648.8 428.4,649.3 454.0,651.8 479.5,651.7" fill="none" stroke="#ffffff" stroke-width="0.35" stroke-linejoin="round"/>
<polyline points="368.1,642.6 365.4,669.0 365.9,695.5 364.7,721.9 363.3,748.4 360.7,774.8" fill="none" stroke="#ffffff" stroke-width="0.35" stroke-linejoin="round"/>
<polyline points="351.7,658.3 377.3,659.7 402.8,659.9 428.4,660.7 454.0,661.9 479.5,662.7" fill="none" stroke="#ffffff" stroke-width="0.35" stroke-linejoin="round"/>
<polyline points="375.7,642.6 374.9,669.0 374.4,695.5 374.2,721.9 371.5,748.4 369.9,774.8" fill="none" stroke="#ffffff" stroke-width="0.35" stroke-linejoin="round"/>
<polyline points="351.7,669.0 377.3,669.7 402.8,670.5 428.4,670.9 454.0,671.1 479.5,671.9" fill="none" stroke="#ffffff" stroke-width="0.35" stroke-linejoin="round"/>
<polyline points="382.5,642.6 380.5,669.0 381.1,695.5 380.1,721.9 377.3,748.4 378.3,774.8" fill="none" stroke="#ffffff" stroke-width="0.35" stroke-linejoin="round"/>
<polyline points="351.7,674.5 377.3,676.6 402.8,676.5 428.4,678.3 454.0,678.4 479.5,679.8" fill="none" stroke="#ffffff" stroke-width="0.35" stroke-linejoin="round"/>
<polyline points="391.6,642.6 390.9,669.0 390.1,695.5 389.5,721.9 388.4,748.4 387.8,774.8" fill="none" stroke="#ffffff" stroke-width="0.35" stroke-linejoin="round"/>
<polyline points="351.7,685.5 377.3,685.8 402.8,686.6 428.4,688.1 454.0,690.2 479.5,690.7" fill="none" stroke="#ffffff" stroke-width="0.35" stroke-linejoin="round"/>
<polyline points="403.6,642.6 401.1,669.0 399.7,695.5 398.7,721.9 397.7,748.4 396.4,774.8" fill="none" stroke="#ffffff" stroke-width="0.35" stroke-linejoin="round"/>
<polyline points="351.7,695.7 377.3,697.5 402.8,696.4 428.4,698.9 454.0,700.5 479.5,701.0" fill="none" stroke="#ffffff" stroke-width="0.35" stroke-linejoin="round"/>
<polyline points="409.5,642.6 407.5,669.0 406.3,695.5 404.9,721.9 405.1,748.4 405.1,774.8" fill="none" stroke="#ffffff" stroke-width="0.35" stroke-linejoin="round"/>
<polyline points="351.7,701.0 377.3,702.1 402.8,703.7 428.4,703.8 454.0,705.9 479.5,707.5" fill="none" stroke="#ffffff" stroke-width="0.35" stroke-linejoin="round"/>
<polyline points="418.8,642.6 417.8,669.0 417.2,695.5 417.3,721.9 417.0,748.4 414.9,774.8" fill="none" stroke="#ffffff" stroke-width="0.35" stroke-linejoin="round"/>
<polyline points="351.7,712.2 377.3,713.5 402.8,715.0 428.4,715.2 454.0,716.2 479.5,718.0" fill="none" stroke="#ffffff" stroke-width="0.35" stroke-linejoin="round"/>
<polyline points="430.5,642.6 431.1,669.0 430.1,695.5 427.9,721.9 426.4,748.4 425.3,774.8" fill="none" stroke="#ffffff" stroke-width="0.35" stroke-linejoin="round"/>
<polyline points="351.7,725.2 377.3,726.6 402.8,727.7 428.4,727.0 454.0,728.6 479.5,728.5" fill="none" stroke="#ffffff" stroke-width="0.35" stroke-linejoin="round"/>
<polyline points="436.9,642.6 435.4,669.0 434.3,695.5 435.6,721.9 432.8,748.4 432.3,774.8" fill="none" stroke="#ffffff" stroke-width="0.35" stroke-linejoin="round"/>
<polyline points="351.7,731.3 377.3,732.1 402.8,733.4 428.4,734.2 454.0,735.1 479.5,735.1" fill="none" stroke="#ffffff" stroke-width="0.35" stroke-linejoin="round"/>
<polyline points="448.7,642.6 447.8,669.0 445.8,695.5 445.1,721.9 445.0,748.4 443.8,774.8" fill="none" stroke="#ffffff" stroke-width="0.35" stroke-linejoin="round"/>
<polyline points="351.7,741.4 377.3,743.1 402.8,743.7 428.4,746.0 454.0,746.2 479.5,747.2" fill="none" stroke="#ffffff" stroke-width="0.35" stroke-linejoin="round"/>
<polyline points="455.1,642.6 454.7,669.0 453.5,695.5 451.4,721.9 450.8,748.4 450.4,774.8" fill="none" stroke="#ffffff" stroke-width="0.35" stroke-linejoin="round"/>
<polyline points="351.7,748.5 377.3,751.6 402.8,750.4 428.4,752.9 454.0,752.7 479.5,755.7" fill="none" stroke="#ffffff" stroke-width="0.35" stroke-linejoin="round"/>
<polyline points="466.2,642.6 465.9,669.0 465.7,695.5 464.7,721.9 463.2,748.4 462.1,774.8" fill="none" stroke="#ffffff" stroke-width="0.35" stroke-linejoin="round"/>
<polyline points="351.7,762.3 377.3,763.8 402.8,763.7 428.4,765.0 454.0,766.4 479.5,766.7" fill="none" stroke="#ffffff" stroke-width="0.35" stroke-linejoin="round"/>
<polyline points="473.6,642.6 472.0,669.0 471.9,695.5 471.0,721.9 470.4,748.4 467.3,774.8" fill="none" stroke="#ffffff" stroke-width="0.35" stroke-linejoin="round"/>
<polyline points="351.7,767.3 377.3,770.6 402.8,771.1 428.4,772.7 454.0,773.2 479.5,774.6" fill="none" stroke="#ffffff" stroke-width="0.35" stroke-linejoin="round"/>
<polyline points="351.7,666.2 408.7,665.4 440.2,664.6 478.7,663.8" fill="none" stroke="#f3cd6b" stroke-width="1.0" stroke-linejoin="round"/>
<polyline points="438.6,643.4 438.6,693.0 433.9,705.6 427.6,740.2 424.4,771.7" fill="none" stroke="#f3cd6b" stroke-width="1.0" stroke-linejoin="round"/>
<polyline points="352.8,710.3 404.0,710.3 433.9,705.6 463.8,708.7" fill="none" stroke="#f3cd6b" stroke-width="1.0" stroke-linejoin="round"/>
<polyline points="367.8,670.9 385.1,666.2" fill="none" stroke="#f6d98a" stroke-width="1.0" stroke-linejoin="round"/>
<polyline points="463.8,677.2 455.9,708.7 463.8,740.2" fill="none" stroke="#f6d98a" stroke-width="1.0" stroke-linejoin="round"/>
<polyline points="408.7,665.4 424.4,681.9 433.9,697.7" fill="none" stroke="#f6d98a" stroke-width="1.0" stroke-linejoin="round"/>
<polyline points="440.2,699.3 463.8,689.8" fill="none" stroke="#f6d98a" stroke-width="1.0" stroke-linejoin="round"/>
<polyline points="433.9,705.6 449.6,740.2 452.8,759.1" fill="none" stroke="#f6d98a" stroke-width="1.0" stroke-linejoin="round"/>
<polyline points="351.7,675.6 366.2,675.6" fill="none" stroke="#f3cd6b" stroke-width="1.0" stroke-linejoin="round"/>
<polyline points="454.4,659.1 454.4,708.7" fill="none" stroke="#f6d98a" stroke-width="1.0" stroke-linejoin="round"/>
<polyline points="408.7,689.8 438.6,693.0" fill="none" stroke="#f6d98a" stroke-width="1.0" stroke-linejoin="round"/>
<polyline points="368.6,644.5 369.4,769.3" fill="none" stroke="#e4f3e8" stroke-width="0.35" stroke-linejoin="round"/>
<polyline points="352.0,693.0 385.9,693.0" fill="none" stroke="#e4f3e8" stroke-width="0.35" stroke-linejoin="round"/>
<polyline points="352.0,730.7 404.0,730.7" fill="none" stroke="#e4f3e8" stroke-width="0.35" stroke-linejoin="round"/>
<polyline points="352.0,749.6 411.9,749.6" fill="none" stroke="#e4f3e8" stroke-width="0.35" stroke-linejoin="round"/>
<polyline points="393.0,708.7 393.7,770.1" fill="none" stroke="#e4f3e8" stroke-width="0.35" stroke-linejoin="round"/>
<circle cx="463.0" cy="694.2" r="1.6" fill="#8fc8ef"/><circle cx="429.2" cy="647.0" r="1.4" fill="#8fc8ef"/>
</g><text x="377.2" y="649.7" text-anchor="middle" font-family="Liberation Sans" font-size="2.5" fill="#6b6f73">Phillipsburg</text><text x="369.4" y="664.6" text-anchor="middle" font-family="Liberation Sans" font-size="2.5" fill="#6b6f73">Brookville</text><text x="405.6" y="660.7" text-anchor="middle" font-family="Liberation Sans" font-size="2.5" fill="#6b6f73">Englewood</text><text x="436.2" y="655.2" text-anchor="middle" font-family="Liberation Sans" font-size="2.5" fill="#6b6f73">Vandalia</text><text x="373.3" y="676.4" text-anchor="middle" font-family="Liberation Sans" font-size="2.5" fill="#6b6f73">New Lebanon</text><text x="359.1" y="685.9" text-anchor="middle" font-family="Liberation Sans" font-size="2.5" fill="#6b6f73">Farmersville</text><text x="403.2" y="691.1" text-anchor="middle" font-family="Liberation Sans" font-size="2.5" fill="#6b6f73">Trotwood</text><text x="422.1" y="687.9" text-anchor="middle" font-family="Liberation Sans" font-size="2.5" fill="#6b6f73">Harrison</text><text x="457.5" y="673.3" text-anchor="middle" font-family="Liberation Sans" font-size="2.5" fill="#6b6f73">Huber Heights</text><text x="378.8" y="711.1" text-anchor="middle" font-family="Liberation Sans" font-size="2.5" fill="#6b6f73">Germantown</text><text x="410.3" y="710.6" text-anchor="middle" font-family="Liberation Sans" font-size="2.5" fill="#6b6f73">Moraine</text><text x="443.3" y="718.9" text-anchor="middle" font-family="Liberation Sans" font-size="2.5" fill="#6b6f73">Kettering</text><text x="444.9" y="732.6" text-anchor="middle" font-family="Liberation Sans" font-size="2.5" fill="#6b6f73">Oakwood</text><text x="444.1" y="743.0" text-anchor="middle" font-family="Liberation Sans" font-size="2.5" fill="#6b6f73">Centerville</text><text x="368.6" y="736.7" text-anchor="middle" font-family="Liberation Sans" font-size="2.5" fill="#6b6f73">Miamisburg</text><text x="448.1" y="755.9" text-anchor="middle" font-family="Liberation Sans" font-size="2.5" fill="#6b6f73">Springboro</text><text x="438.6" y="706.0" text-anchor="middle" font-family="Liberation Sans" font-size="2.5" fill="#6b6f73">Dayton</text></g>
<line class="ar" x1="432.8" y1="698.2" x2="414.3" y2="774.8" stroke-width="1.9"/>
<polygon class="ah" points="405.2,772.4 423.4,777.3 410.1,790.8"/>
<circle cx="432.8" cy="698.2" r="5.8" fill="#000"/>
<clipPath id="ccan"><path d="M956.3 630.8L1058.3 630.8L1058.3 735.8L1011.7 736.7L1011.7 766.7C991.7 765.0 971.7 762.1 951.7 761.7C948.2 761.6 945.1 764.4 941.7 765.0C923.4 768.0 905.0 770.0 886.7 772.5L885.8 660.8L955.0 663.7L956.3 630.8Z"/></clipPath>
<g id="tcan" clip-path="url(#ccan)"><g filter="url(#sb)">
<polygon points="956.3,630.8 1058.3,630.8 1058.3,735.8 1011.7,736.7 1011.7,766.7 951.7,761.7 941.7,765.0 886.7,772.5 885.8,660.8 955.0,663.7" fill="#d4e8d7" stroke="#d4e8d7" stroke-width="3"/>
<polygon points="921.7,675.0 945.0,668.3 968.3,660.0 975.0,675.0 981.7,690.0 991.7,698.3 981.7,713.3 965.0,720.0 945.0,726.7 925.0,723.3 908.3,720.0 911.7,706.7 925.0,700.0" fill="#f4f6f5"/>
<polygon points="956.7,653.3 968.3,645.0 981.7,648.3 975.0,663.3 958.3,666.7" fill="#f4f6f5"/>
<polygon points="895.0,736.7 905.0,736.7 905.0,744.2 895.0,744.2" fill="#f4f6f5"/>
<polygon points="1035.0,661.7 1045.0,661.7 1045.0,670.0 1035.0,670.0" fill="#f4f6f5"/>
<polygon points="1048.3,646.7 1058.3,646.7 1058.3,663.3 1048.3,663.3" fill="#f4f6f5"/>
<polygon points="941.7,763.3 951.7,761.7 953.3,766.7 943.3,768.3" fill="#f4f6f5"/>
<rect x="885.8" y="630.8" width="172.5" height="141.7" filter="url(#spw)" opacity="0.55"/>
<polyline points="890.8,630.8 891.8,659.2 890.0,687.5 889.4,715.8 888.0,744.2 886.7,772.5" fill="none" stroke="#c3cfe0" stroke-width="0.4" stroke-linejoin="round"/>
<polyline points="885.8,636.2 920.3,637.0 954.8,638.7 989.3,639.5 1023.8,641.1 1058.3,641.2" fill="none" stroke="#c3cfe0" stroke-width="0.4" stroke-linejoin="round"/>
<polyline points="907.2,630.8 907.8,659.2 905.4,687.5 905.7,715.8 904.7,744.2 902.3,772.5" fill="none" stroke="#c3cfe0" stroke-width="0.4" stroke-linejoin="round"/>
<polyline points="885.8,649.9 920.3,649.1 954.8,652.4 989.3,653.5 1023.8,653.0 1058.3,655.5" fill="none" stroke="#c3cfe0" stroke-width="0.4" stroke-linejoin="round"/>
<polyline points="930.4,630.8 930.9,659.2 928.5,687.5 929.6,715.8 928.1,744.2 927.9,772.5" fill="none" stroke="#c3cfe0" stroke-width="0.4" stroke-linejoin="round"/>
<polyline points="885.8,667.0 920.3,668.9 954.8,670.8 989.3,672.0 1023.8,672.0 1058.3,675.0" fill="none" stroke="#c3cfe0" stroke-width="0.4" stroke-linejoin="round"/>
<polyline points="949.3,630.8 947.9,659.2 948.4,687.5 946.7,715.8 946.5,744.2 945.1,772.5" fill="none" stroke="#c3cfe0" stroke-width="0.4" stroke-linejoin="round"/>
<polyline points="885.8,683.1 920.3,683.2 954.8,684.7 989.3,686.7 1023.8,688.6 1058.3,688.9" fill="none" stroke="#c3cfe0" stroke-width="0.4" stroke-linejoin="round"/>
<polyline points="966.1,630.8 966.1,659.2 964.5,687.5 962.7,715.8 961.3,744.2 960.1,772.5" fill="none" stroke="#c3cfe0" stroke-width="0.4" stroke-linejoin="round"/>
<polyline points="885.8,695.4 920.3,698.8 954.8,700.0 989.3,700.8 1023.8,700.2 1058.3,702.8" fill="none" stroke="#c3cfe0" stroke-width="0.4" stroke-linejoin="round"/>
<polyline points="977.9,630.8 976.3,659.2 975.6,687.5 974.3,715.8 972.9,744.2 973.1,772.5" fill="none" stroke="#c3cfe0" stroke-width="0.4" stroke-linejoin="round"/>
<polyline points="885.8,706.8 920.3,706.0 954.8,707.7 989.3,709.6 1023.8,710.7 1058.3,711.1" fill="none" stroke="#c3cfe0" stroke-width="0.4" stroke-linejoin="round"/>
<polyline points="998.7,630.8 995.9,659.2 994.8,687.5 995.1,715.8 993.1,744.2 993.8,772.5" fill="none" stroke="#c3cfe0" stroke-width="0.4" stroke-linejoin="round"/>
<polyline points="885.8,722.0 920.3,724.8 954.8,724.5 989.3,727.0 1023.8,727.7 1058.3,728.8" fill="none" stroke="#c3cfe0" stroke-width="0.4" stroke-linejoin="round"/>
<polyline points="1011.4,630.8 1010.1,659.2 1009.5,687.5 1009.9,715.8 1007.3,744.2 1006.8,772.5" fill="none" stroke="#c3cfe0" stroke-width="0.4" stroke-linejoin="round"/>
<polyline points="885.8,734.8 920.3,734.9 954.8,736.5 989.3,737.4 1023.8,739.7 1058.3,739.4" fill="none" stroke="#c3cfe0" stroke-width="0.4" stroke-linejoin="round"/>
<polyline points="1037.9,630.8 1037.2,659.2 1035.9,687.5 1034.8,715.8 1035.1,744.2 1033.9,772.5" fill="none" stroke="#c3cfe0" stroke-width="0.4" stroke-linejoin="round"/>
<polyline points="885.8,756.3 920.3,755.4 954.8,758.0 989.3,760.1 1023.8,760.4 1058.3,761.2" fill="none" stroke="#c3cfe0" stroke-width="0.4" stroke-linejoin="round"/>
<polyline points="1050.4,630.8 1050.9,659.2 1050.1,687.5 1047.3,715.8 1047.5,744.2 1046.8,772.5" fill="none" stroke="#c3cfe0" stroke-width="0.4" stroke-linejoin="round"/>
<polyline points="885.8,766.3 920.3,768.3 954.8,770.1 989.3,771.2 1023.8,770.8 1058.3,771.5" fill="none" stroke="#c3cfe0" stroke-width="0.4" stroke-linejoin="round"/>
<polyline points="890.5,630.8 891.5,659.2 894.0,687.5 894.9,715.8 896.6,744.2 895.5,772.5" fill="none" stroke="#a8b5d6" stroke-width="0.45" stroke-linejoin="round"/>
<polyline points="885.8,635.0 920.3,632.6 954.8,631.7 989.3,631.2 1023.8,628.5 1058.3,627.7" fill="none" stroke="#a8b5d6" stroke-width="0.45" stroke-linejoin="round"/>
<polyline points="925.1,630.8 925.4,659.2 927.5,687.5 929.2,715.8 928.1,744.2 931.3,772.5" fill="none" stroke="#a8b5d6" stroke-width="0.45" stroke-linejoin="round"/>
<polyline points="885.8,663.5 920.3,661.2 954.8,659.4 989.3,660.2 1023.8,657.2 1058.3,655.2" fill="none" stroke="#a8b5d6" stroke-width="0.45" stroke-linejoin="round"/>
<polyline points="942.4,630.8 942.9,659.2 944.5,687.5 945.4,715.8 946.0,744.2 948.3,772.5" fill="none" stroke="#a8b5d6" stroke-width="0.45" stroke-linejoin="round"/>
<polyline points="885.8,676.2 920.3,675.3 954.8,674.7 989.3,672.8 1023.8,672.1 1058.3,670.0" fill="none" stroke="#a8b5d6" stroke-width="0.45" stroke-linejoin="round"/>
<polyline points="973.9,630.8 975.5,659.2 976.8,687.5 977.3,715.8 978.8,744.2 979.6,772.5" fill="none" stroke="#a8b5d6" stroke-width="0.45" stroke-linejoin="round"/>
<polyline points="885.8,703.6 920.3,703.2 954.8,701.1 989.3,699.8 1023.8,698.0 1058.3,696.8" fill="none" stroke="#a8b5d6" stroke-width="0.45" stroke-linejoin="round"/>
<polyline points="1003.6,630.8 1004.6,659.2 1004.5,687.5 1007.1,715.8 1006.7,744.2 1008.4,772.5" fill="none" stroke="#a8b5d6" stroke-width="0.45" stroke-linejoin="round"/>
<polyline points="885.8,728.5 920.3,726.2 954.8,724.7 989.3,723.7 1023.8,722.7 1058.3,721.2" fill="none" stroke="#a8b5d6" stroke-width="0.45" stroke-linejoin="round"/>
<polyline points="1016.1,630.8 1018.0,659.2 1019.0,687.5 1019.9,715.8 1023.0,744.2 1023.9,772.5" fill="none" stroke="#a8b5d6" stroke-width="0.45" stroke-linejoin="round"/>
<polyline points="885.8,738.4 920.3,737.9 954.8,735.9 989.3,735.9 1023.8,733.4 1058.3,731.5" fill="none" stroke="#a8b5d6" stroke-width="0.45" stroke-linejoin="round"/>
<polyline points="1042.4,630.8 1042.7,659.2 1044.7,687.5 1046.6,715.8 1046.4,744.2 1047.0,772.5" fill="none" stroke="#a8b5d6" stroke-width="0.45" stroke-linejoin="round"/>
<polyline points="885.8,760.6 920.3,758.0 954.8,755.5 989.3,754.1 1023.8,752.9 1058.3,752.9" fill="none" stroke="#a8b5d6" stroke-width="0.45" stroke-linejoin="round"/>
<polyline points="886.7,726.7 925.0,720.0 965.0,710.8 1001.7,711.7 1041.7,726.7 1058.3,735.0" fill="none" stroke="#8f9fc9" stroke-width="0.7" stroke-linejoin="round"/>
<polyline points="956.3,635.0 955.0,683.3 965.8,698.0 961.7,720.0 951.7,761.7" fill="none" stroke="#8f9fc9" stroke-width="0.7" stroke-linejoin="round"/>
<polyline points="965.8,698.0 1001.7,685.0 1041.7,656.7 1058.3,651.7" fill="none" stroke="#8f9fc9" stroke-width="0.7" stroke-linejoin="round"/>
<polyline points="885.8,706.7 965.8,706.7 1058.3,706.7" fill="none" stroke="#8f9fc9" stroke-width="0.7" stroke-linejoin="round"/>
<polyline points="898.3,665.0 900.0,720.0 886.7,733.3" fill="none" stroke="#8f9fc9" stroke-width="0.7" stroke-linejoin="round"/>
<polyline points="980.0,630.8 980.0,653.3 973.3,675.0 968.3,696.7" fill="none" stroke="#8f9fc9" stroke-width="0.7" stroke-linejoin="round"/>
<polyline points="1008.3,630.8 1006.7,686.7 1000.0,703.3 1008.3,726.7 1005.0,765.0" fill="none" stroke="#8f9fc9" stroke-width="0.7" stroke-linejoin="round"/>
<polyline points="915.0,686.7 925.0,700.0 925.0,736.7 920.0,770.0" fill="none" stroke="#8f9fc9" stroke-width="0.7" stroke-linejoin="round"/>
<polyline points="975.0,713.3 991.7,736.7 1001.7,753.3 1003.3,765.0" fill="none" stroke="#8f9fc9" stroke-width="0.7" stroke-linejoin="round"/>
<polyline points="1008.3,665.0 1058.3,665.0" fill="none" stroke="#8f9fc9" stroke-width="0.7" stroke-linejoin="round"/>
<polyline points="886.7,770.0 908.3,745.0 925.0,736.7" fill="none" stroke="#8f9fc9" stroke-width="0.7" stroke-linejoin="round"/>
<polyline points="938.3,666.7 955.0,683.3" fill="none" stroke="#8f9fc9" stroke-width="0.7" stroke-linejoin="round"/>
<polyline points="971.7,713.3 978.3,736.7 978.3,765.0" fill="none" stroke="#8f9fc9" stroke-width="0.7" stroke-linejoin="round"/>
<polyline points="1053.3,630.8 1054.2,735.0" fill="none" stroke="#8f9fc9" stroke-width="0.7" stroke-linejoin="round"/>
<polyline points="1013.3,691.7 1058.3,693.3" fill="none" stroke="#8f9fc9" stroke-width="0.7" stroke-linejoin="round"/>
<polyline points="1021.7,638.3 1030.0,635.0 1035.0,633.3" fill="none" stroke="#7fd0e8" stroke-width="0.8" stroke-linejoin="round"/>
<polyline points="1046.7,631.7 1051.7,640.0 1054.2,650.0" fill="none" stroke="#7fd0e8" stroke-width="0.9" stroke-linejoin="round"/>
<text x="975.0" y="691.3" text-anchor="middle" font-family="Liberation Sans" font-size="2.6" fill="#3ab8d8">Pro Football Hall of Fame</text>
</g><text x="901.7" y="670.0" text-anchor="middle" font-family="Liberation Sans" font-size="2.6" fill="#4a4f55">Canal Fulton</text><text x="940.0" y="670.8" text-anchor="middle" font-family="Liberation Sans" font-size="2.6" fill="#4a4f55">Jackson Twp</text><text x="920.8" y="687.0" text-anchor="middle" font-family="Liberation Sans" font-size="2.6" fill="#4a4f55">Crystal Springs</text><text x="891.7" y="689.2" text-anchor="middle" font-family="Liberation Sans" font-size="2.6" fill="#4a4f55">North Lawrence</text><text x="931.7" y="708.0" text-anchor="middle" font-family="Liberation Sans" font-size="2.6" fill="#4a4f55">Massillon</text><text x="938.3" y="726.7" text-anchor="middle" font-family="Liberation Sans" font-size="2.6" fill="#4a4f55">Navarre</text><text x="901.7" y="744.2" text-anchor="middle" font-family="Liberation Sans" font-size="2.6" fill="#4a4f55">Brewster</text><text x="924.2" y="737.5" text-anchor="middle" font-family="Liberation Sans" font-size="2.6" fill="#4a4f55">Justus</text><text x="982.5" y="640.3" text-anchor="middle" font-family="Liberation Sans" font-size="2.6" fill="#4a4f55">Hartville</text><text x="1019.2" y="645.0" text-anchor="middle" font-family="Liberation Sans" font-size="2.6" fill="#4a4f55">Marlboro</text><text x="1052.5" y="640.8" text-anchor="middle" font-family="Liberation Sans" font-size="2.6" fill="#4a4f55">Limaville</text><text x="1053.3" y="651.7" text-anchor="middle" font-family="Liberation Sans" font-size="2.6" fill="#4a4f55">Alliance</text><text x="1052.5" y="659.7" text-anchor="middle" font-family="Liberation Sans" font-size="2.6" fill="#4a4f55">Sebring</text><text x="984.2" y="670.0" text-anchor="middle" font-family="Liberation Sans" font-size="2.6" fill="#4a4f55">Middlebranch</text><text x="1006.7" y="691.3" text-anchor="middle" font-family="Liberation Sans" font-size="2.6" fill="#4a4f55">Louisville</text><text x="997.5" y="712.0" text-anchor="middle" font-family="Liberation Sans" font-size="2.6" fill="#4a4f55">East Canton</text><text x="1025.8" y="721.3" text-anchor="middle" font-family="Liberation Sans" font-size="2.6" fill="#4a4f55">Robertsville</text><text x="971.7" y="731.3" text-anchor="middle" font-family="Liberation Sans" font-size="2.6" fill="#4a4f55">North Industry</text><text x="978.3" y="715.8" text-anchor="middle" font-family="Liberation Sans" font-size="2.6" fill="#4a4f55">Perry</text><text x="1052.5" y="735.0" text-anchor="middle" font-family="Liberation Sans" font-size="2.6" fill="#4a4f55">Minerva</text><text x="970.0" y="712.0" text-anchor="middle" font-family="Liberation Sans" font-size="2.6" fill="#4a4f55">Canton</text><text x="961.7" y="635.3" text-anchor="middle" font-family="Liberation Sans" font-size="2.6" fill="#4a4f55">Greentown</text><text x="900.0" y="766.7" text-anchor="middle" font-family="Liberation Sans" font-size="2.6" fill="#4a4f55">Wilmot</text><text x="889.2" y="765.0" text-anchor="middle" font-family="Liberation Sans" font-size="2.6" fill="#4a4f55">Beach City</text></g>
<line class="ar" x1="965.8" y1="698.0" x2="967.5" y2="780.0" stroke-width="1.9"/>
<polygon class="ah" points="958.1,780.0 976.9,780.0 967.5,795.3"/>
<circle cx="965.8" cy="698.0" r="5.8" fill="#000"/>
</g>
<g id="ohio">
<path class="co" d="M1143.0 249.2C1165.2 247.9 1187.5 246.7 1209.7 245.3C1240.2 243.4 1270.8 241.5 1301.3 239.2C1324.5 237.5 1347.6 235.3 1370.8 233.3L1371.7 242.5L1376.7 238.7C1377.0 240.0 1376.3 242.1 1377.5 242.5C1381.4 243.9 1385.9 244.0 1390.0 243.3C1392.0 243.0 1393.3 240.9 1395.0 239.7C1397.8 242.0 1400.5 244.5 1403.3 246.7C1406.6 249.3 1409.5 252.5 1413.3 254.2C1418.0 256.2 1423.4 256.1 1428.3 257.5C1431.2 258.3 1434.2 259.1 1436.7 260.8C1441.0 263.9 1444.0 268.6 1448.3 271.7C1451.3 273.9 1454.6 276.1 1458.3 276.7C1462.7 277.5 1467.6 277.6 1471.7 275.8C1474.6 274.5 1476.4 271.3 1477.5 268.3C1478.1 266.6 1476.7 264.8 1476.3 263.0C1477.4 262.7 1478.7 261.4 1479.7 262.0C1482.0 263.4 1482.4 267.4 1485.0 268.3C1487.7 269.2 1490.5 266.9 1493.3 266.7C1496.9 266.4 1500.7 265.8 1504.2 266.7C1505.5 267.0 1505.6 269.2 1506.7 270.0C1507.9 270.9 1509.4 271.1 1510.8 271.7L1501.7 275.0C1502.2 276.4 1503.8 277.8 1503.3 279.2C1502.5 281.4 1500.4 283.2 1498.3 284.2C1494.7 285.8 1490.6 285.9 1486.7 286.7C1491.1 286.7 1495.6 286.7 1500.0 286.7C1503.3 286.7 1506.7 286.1 1510.0 286.7C1511.6 287.0 1513.3 287.8 1514.2 289.2C1514.9 290.4 1513.3 292.3 1514.2 293.3C1516.6 296.0 1520.1 297.5 1523.3 299.2C1526.5 300.9 1529.8 302.3 1533.3 303.3C1536.5 304.2 1539.9 305.2 1543.3 305.0C1545.7 304.9 1547.8 303.5 1550.0 302.5C1553.4 301.0 1556.6 299.0 1560.0 297.5C1562.7 296.4 1565.5 295.4 1568.3 294.7C1571.9 293.8 1575.7 293.8 1579.2 292.5C1583.6 290.8 1587.5 288.0 1591.7 285.8C1596.1 283.5 1600.4 281.1 1605.0 279.2C1610.4 276.9 1615.8 274.1 1621.7 273.3C1624.8 272.9 1627.7 275.1 1630.8 275.8C1634.9 276.8 1639.1 278.3 1643.3 278.3C1647.3 278.3 1651.1 276.4 1655.0 275.8C1660.0 275.0 1665.4 276.3 1670.0 274.2C1677.5 270.8 1683.3 264.7 1690.0 260.0C1695.6 256.1 1701.2 252.4 1706.7 248.3C1709.9 246.0 1713.1 243.7 1715.8 240.8C1719.8 236.4 1722.4 230.7 1726.7 226.7C1731.1 222.6 1736.4 219.5 1741.7 216.7C1744.8 215.0 1748.6 215.0 1751.7 213.3C1757.0 210.5 1761.4 206.1 1766.7 203.3C1774.8 199.1 1783.3 196.0 1791.7 192.5C1797.2 190.2 1802.8 188.1 1808.3 185.8C1816.7 182.3 1824.9 178.4 1833.3 175.0C1841.5 171.7 1850.0 168.9 1858.3 165.8C1863.3 163.9 1868.3 161.9 1873.3 160.0C1874.4 178.9 1875.5 197.8 1876.7 216.7C1877.8 233.9 1878.9 251.1 1880.0 268.3C1881.9 296.9 1883.7 325.6 1885.8 354.2C1887.0 371.1 1888.5 388.1 1890.0 405.0C1891.6 423.6 1896.0 442.2 1895.0 460.8C1894.8 464.2 1889.7 465.2 1886.7 466.7C1882.4 468.8 1877.4 469.3 1873.3 471.7C1871.6 472.7 1869.7 474.7 1870.0 476.7C1870.4 479.4 1873.6 480.9 1875.0 483.3C1877.5 487.6 1880.6 491.8 1881.7 496.7C1883.1 502.6 1882.5 508.9 1882.5 515.0C1882.5 517.5 1881.4 520.0 1881.7 522.5C1882.2 526.2 1884.9 529.5 1885.0 533.3C1885.2 537.8 1883.8 542.3 1882.5 546.7C1881.0 551.8 1878.7 556.7 1876.7 561.7C1874.8 566.2 1872.3 570.4 1870.8 575.0C1869.5 578.8 1869.1 582.8 1868.3 586.7C1867.5 590.6 1865.9 594.3 1865.8 598.3C1865.7 602.2 1867.6 606.1 1867.5 610.0C1867.4 613.4 1865.8 616.7 1865.0 620.0C1864.4 622.8 1864.6 625.8 1863.3 628.3C1862.2 630.4 1859.0 631.0 1858.3 633.3C1857.5 636.0 1859.9 639.0 1859.2 641.7C1858.7 643.8 1855.6 644.6 1855.0 646.7C1853.9 650.4 1855.4 654.6 1854.2 658.3C1853.1 661.5 1848.3 663.3 1848.3 666.7C1848.3 670.6 1853.9 672.8 1854.2 676.7C1854.5 680.3 1851.2 683.3 1850.0 686.7C1848.7 690.5 1849.2 695.2 1846.7 698.3C1844.4 701.2 1839.7 701.1 1836.7 703.3C1832.9 706.1 1830.0 710.0 1826.7 713.3C1823.9 716.1 1821.0 718.8 1818.3 721.7C1815.4 724.9 1812.4 728.1 1810.0 731.7C1807.9 734.8 1807.6 739.1 1805.0 741.7C1802.4 744.3 1797.9 744.4 1795.0 746.7C1792.2 748.9 1791.3 753.1 1788.3 755.0C1784.9 757.2 1780.2 756.3 1776.7 758.3C1773.3 760.3 1771.7 764.6 1768.3 766.7C1766.4 767.9 1763.7 768.4 1761.7 767.5C1759.4 766.5 1758.1 763.8 1756.7 761.7C1755.3 759.6 1755.4 756.4 1753.3 755.0C1751.5 753.8 1748.7 754.1 1746.7 755.0C1743.4 756.5 1741.1 759.5 1738.3 761.7C1735.8 763.7 1732.3 764.7 1730.8 767.5C1728.8 771.2 1729.7 776.0 1728.3 780.0C1727.7 781.7 1726.7 783.7 1725.0 784.2C1719.1 785.8 1712.2 783.1 1706.7 785.8C1703.8 787.3 1705.0 792.2 1703.3 795.0C1702.1 797.0 1699.7 798.1 1698.3 800.0C1696.9 802.0 1695.4 804.2 1695.0 806.7C1694.5 810.0 1695.8 813.4 1695.8 816.7C1695.8 819.5 1696.2 822.5 1695.0 825.0C1693.6 827.8 1690.0 829.0 1688.3 831.7C1687.1 833.6 1686.2 836.1 1686.7 838.3C1687.4 841.5 1690.4 843.7 1691.7 846.7C1692.6 848.8 1692.9 851.1 1693.3 853.3C1693.5 854.4 1693.8 855.7 1693.3 856.7C1691.5 860.3 1688.6 863.2 1686.7 866.7C1685.3 869.3 1685.0 872.6 1683.3 875.0C1681.6 877.4 1679.5 880.0 1676.7 880.8C1674.9 881.3 1672.5 880.0 1671.7 878.3C1669.0 872.6 1669.5 865.7 1666.7 860.0C1665.4 857.3 1662.2 856.1 1660.0 854.2C1658.3 852.8 1656.7 851.3 1655.0 850.0C1653.1 848.5 1651.6 845.8 1649.2 845.8C1646.8 845.8 1644.9 848.2 1643.3 850.0C1641.7 851.9 1640.9 854.4 1640.0 856.7C1638.7 860.0 1637.8 863.4 1636.7 866.7C1634.4 873.9 1633.2 881.5 1630.0 888.3C1628.1 892.2 1624.2 894.8 1621.7 898.3C1619.8 900.9 1617.0 903.5 1616.7 906.7C1616.4 910.2 1619.1 913.3 1620.0 916.7C1621.0 920.5 1621.8 924.4 1622.5 928.3C1623.4 933.3 1624.8 938.2 1625.0 943.3C1625.1 945.9 1625.4 949.3 1623.3 950.8C1620.6 952.8 1616.5 950.9 1613.3 951.7C1610.9 952.3 1608.2 953.1 1606.7 955.0C1604.9 957.3 1604.8 960.5 1604.2 963.3C1603.4 967.2 1604.0 971.4 1602.5 975.0C1601.4 977.7 1599.1 979.9 1596.7 981.7C1593.7 983.9 1590.0 985.0 1586.7 986.7C1582.2 988.9 1577.8 991.1 1573.3 993.3C1569.4 995.2 1566.0 998.5 1561.7 999.2C1558.8 999.7 1555.5 998.6 1553.3 996.7C1550.2 994.1 1549.0 990.0 1546.7 986.7C1543.5 982.2 1540.5 977.4 1536.7 973.3C1533.2 969.5 1529.6 965.6 1525.0 963.3C1521.0 961.3 1516.1 961.6 1511.7 960.8C1506.1 959.8 1500.6 957.8 1495.0 958.0C1486.6 958.2 1478.4 962.6 1470.0 962.0C1463.0 961.5 1456.5 957.7 1450.0 955.0C1445.2 953.0 1441.1 949.2 1436.0 948.0C1433.4 947.4 1430.7 948.9 1428.3 950.0C1425.9 951.0 1423.9 952.8 1421.7 954.2C1418.4 951.1 1415.4 947.7 1411.7 945.0C1409.2 943.2 1406.3 941.7 1403.3 940.8C1400.1 939.8 1396.5 940.3 1393.3 939.2C1390.3 938.1 1387.9 935.5 1385.0 934.2C1382.4 933.0 1379.6 931.7 1376.7 931.7C1373.3 931.7 1369.9 933.0 1366.7 934.2C1364.0 935.2 1360.9 936.0 1359.2 938.3C1357.5 940.6 1358.9 944.2 1357.5 946.7C1356.7 948.1 1354.9 949.3 1353.3 949.2C1349.8 949.0 1346.7 946.6 1343.3 945.8C1340.6 945.2 1337.1 946.8 1335.0 945.0C1332.3 942.6 1333.0 937.9 1330.8 935.0C1329.5 933.2 1326.6 933.2 1325.0 931.7C1322.4 929.3 1321.1 925.6 1318.3 923.3C1314.9 920.5 1310.8 918.4 1306.7 916.7C1302.4 915.0 1297.9 913.4 1293.3 913.3C1290.4 913.2 1287.9 916.1 1285.0 916.3C1280.0 916.7 1274.9 916.0 1270.0 915.0C1265.4 914.1 1260.8 912.9 1256.7 910.8C1254.3 909.5 1251.8 907.6 1250.8 905.0C1249.4 901.3 1251.0 897.1 1250.0 893.3C1249.0 889.7 1246.7 886.6 1245.0 883.3C1242.2 877.8 1238.9 872.5 1236.7 866.7C1235.6 863.8 1237.3 859.6 1235.0 857.5C1232.0 854.7 1227.2 855.4 1223.3 854.2C1220.2 853.2 1216.3 853.3 1214.2 850.8C1212.2 848.5 1213.8 844.5 1212.5 841.7C1211.7 839.9 1210.2 837.9 1208.3 837.5C1206.1 837.0 1203.8 838.4 1201.7 839.2C1196.6 841.2 1191.9 844.1 1186.7 845.8C1184.0 846.7 1181.1 847.1 1178.3 846.7C1175.3 846.3 1172.5 844.9 1170.0 843.3C1168.0 842.0 1166.8 839.9 1165.0 838.3C1162.9 836.4 1161.1 833.7 1158.3 833.0C1156.1 832.4 1153.7 833.9 1151.7 835.0C1148.5 836.8 1145.9 839.5 1143.0 841.7L1143.0 249.2Z"/>
<path class="cd" d="M1301.3 239.2L1370.8 233.3L1371.7 242.5L1376.7 238.7C1377.0 240.0 1376.3 242.1 1377.5 242.5C1381.4 243.9 1385.9 244.0 1390.0 243.3C1392.0 243.0 1393.3 240.9 1395.0 239.7C1397.8 242.0 1400.5 244.5 1403.3 246.7C1406.6 249.3 1409.5 252.5 1413.3 254.2C1418.0 256.2 1423.4 256.1 1428.3 257.5C1431.2 258.3 1433.9 259.7 1436.7 260.8C1418.9 261.4 1401.1 261.9 1383.3 262.5C1377.8 262.7 1372.1 262.0 1366.7 263.0C1361.5 264.0 1356.4 265.9 1351.7 268.3C1348.0 270.2 1345.1 273.4 1341.7 275.8C1337.9 278.4 1333.1 279.9 1330.0 283.3C1327.1 286.5 1326.9 291.6 1324.2 295.0C1321.2 298.9 1317.2 302.0 1313.3 305.0C1309.4 307.9 1305.0 310.0 1300.8 312.5C1300.4 306.1 1299.8 299.7 1299.7 293.3C1299.5 283.9 1299.2 274.4 1299.7 265.0C1299.7 264.3 1301.3 264.4 1301.3 263.7C1301.8 255.5 1301.3 247.4 1301.3 239.2Z"/>
<path class="cd" d="M1630.8 275.8C1635.0 276.6 1639.1 278.3 1643.3 278.3C1647.3 278.3 1651.1 276.4 1655.0 275.8C1660.0 275.0 1665.4 276.3 1670.0 274.2C1677.5 270.8 1683.3 264.7 1690.0 260.0C1695.6 256.1 1701.2 252.4 1706.7 248.3C1709.9 246.0 1712.8 243.3 1715.8 240.8L1716.2 261.7L1733.3 260.8L1737.5 311.7L1701.7 314.5C1700.9 316.3 1699.3 318.0 1699.2 320.0C1699.0 322.6 1700.1 325.1 1700.8 327.5C1701.0 328.2 1701.6 328.6 1702.0 329.2C1695.8 329.9 1689.6 331.0 1683.3 331.3C1672.2 331.8 1661.1 331.4 1650.0 331.5L1649.7 315.8L1631.5 315.8L1630.8 275.8Z"/>
<path class="cd" d="M1700.0 315.0L1737.5 312.0L1742.0 391.7L1730.8 392.2L1730.0 410.0L1696.7 409.2L1696.3 395.3L1686.7 395.3L1683.3 331.3L1702.0 329.2C1701.6 328.6 1701.0 328.2 1700.8 327.5C1700.1 325.1 1699.4 322.6 1699.2 320.0C1699.1 318.3 1699.7 316.7 1700.0 315.0Z"/>
<path class="cd" d="M1730.8 392.2L1793.3 391.7L1796.3 448.3L1776.7 449.2L1775.0 452.5L1768.3 454.2L1766.7 466.7L1733.3 468.3L1730.8 465.0L1728.3 468.3L1696.7 473.0L1696.7 409.2L1730.0 410.0L1730.8 392.2Z"/>
<path class="cd" d="M1432.5 597.0C1456.4 597.4 1480.3 598.1 1504.2 598.7L1503.3 638.3L1494.2 639.2L1493.0 653.8L1504.2 654.7L1504.2 664.2L1495.8 665.3L1494.2 674.2C1476.1 673.4 1458.1 672.6 1440.0 671.7C1434.2 671.4 1428.3 670.9 1422.5 670.5L1421.7 653.3C1423.1 651.6 1425.2 650.4 1425.8 648.3C1426.6 645.7 1426.7 642.6 1425.8 640.0C1424.9 637.4 1421.6 636.0 1420.8 633.3C1419.6 629.6 1420.3 625.6 1420.0 621.7L1425.0 619.2L1425.8 614.2L1430.8 611.7L1431.7 597.5C1432.0 597.3 1432.2 597.0 1432.5 597.0Z"/>
<path class="cd" d="M1201.7 656.3L1260.8 653.8L1263.3 662.5L1278.8 663.0L1278.3 670.8L1272.5 672.5C1271.9 688.3 1271.5 704.2 1270.8 720.0C1270.6 723.6 1270.3 727.2 1270.0 730.8C1255.6 730.6 1241.1 730.5 1226.7 730.3C1218.9 730.2 1211.1 729.9 1203.3 729.7C1203.3 726.5 1203.5 723.2 1203.3 720.0C1202.7 710.0 1201.1 700.0 1200.8 690.0C1200.5 678.8 1201.4 667.5 1201.7 656.3Z"/>
<path class="cd" d="M1143.0 794.2C1148.1 793.4 1153.1 791.7 1158.3 791.7C1164.5 791.7 1170.5 794.1 1176.7 794.2C1180.1 794.2 1183.3 791.9 1186.7 792.0C1192.9 792.2 1198.8 794.7 1205.0 795.0C1213.1 795.4 1221.1 793.8 1229.2 794.2C1232.3 794.4 1235.5 795.4 1238.3 796.7C1240.3 797.6 1241.6 799.4 1243.3 800.8C1241.1 803.9 1237.4 806.3 1236.7 810.0C1235.6 815.5 1238.5 821.1 1238.3 826.7C1237.9 837.0 1236.1 847.2 1235.0 857.5C1231.1 856.4 1227.2 855.4 1223.3 854.2C1220.2 853.2 1216.3 853.3 1214.2 850.8C1212.2 848.5 1213.8 844.5 1212.5 841.7C1211.7 839.9 1210.2 837.9 1208.3 837.5C1206.1 837.0 1203.8 838.4 1201.7 839.2C1196.6 841.2 1191.9 844.1 1186.7 845.8C1184.0 846.7 1181.1 847.1 1178.3 846.7C1175.3 846.3 1172.5 844.9 1170.0 843.3C1168.0 842.0 1166.8 839.9 1165.0 838.3C1162.9 836.4 1161.1 833.7 1158.3 833.0C1156.1 832.4 1153.7 833.9 1151.7 835.0C1148.5 836.8 1145.9 839.5 1143.0 841.7L1143.0 794.2Z"/>
<path class="cl" d="M1209.7 245.3L1208.7 264.2L1213.8 264.2L1213.8 288.3L1221.3 288.3L1221.3 309.5"/>
<path class="cl" d="M1301.3 239.2L1301.3 263.7L1299.7 265.0C1299.7 274.4 1299.6 283.9 1299.7 293.3C1299.7 299.7 1299.8 306.1 1300.0 312.5C1300.5 330.8 1301.1 349.2 1301.7 367.5C1302.2 384.8 1302.8 402.2 1303.3 419.5"/>
<path class="cl" d="M1221.3 296.3L1299.7 293.3"/>
<path class="cl" d="M1143.0 311.3L1242.0 309.2"/>
<path class="cl" d="M1242.0 309.2L1243.3 369.5"/>
<path class="cl" d="M1143.0 349.7L1201.7 349.7L1201.7 360.0L1221.3 360.0L1221.3 405.8L1216.3 410.8"/>
<path class="cl" d="M1221.3 370.5C1248.1 369.5 1274.9 368.2 1301.7 367.5C1328.6 366.8 1355.6 366.7 1382.5 366.3"/>
<path class="cl" d="M1383.3 262.5C1383.3 271.9 1383.4 281.4 1383.3 290.8C1383.1 316.0 1382.5 341.1 1382.5 366.3C1382.5 378.9 1383.3 391.6 1383.3 404.2C1383.3 407.8 1382.8 411.4 1382.5 415.0L1371.7 416.7L1370.8 426.7L1363.3 428.3L1362.5 445.0"/>
<path class="cl" d="M1383.3 290.8L1396.7 291.3L1396.7 299.2L1455.0 298.3L1456.7 300.0C1460.0 299.2 1463.5 298.7 1466.7 297.5C1471.8 295.6 1476.8 293.2 1481.7 290.8C1483.5 289.9 1485.0 288.6 1486.7 287.5"/>
<path class="cl" d="M1383.3 345.8C1396.1 345.3 1408.9 345.4 1421.7 344.2C1423.6 344.0 1424.8 341.8 1426.7 341.7C1445.4 340.7 1464.1 341.1 1482.8 340.8"/>
<path class="cl" d="M1465.0 300.0L1465.0 304.7L1481.7 305.0C1482.5 315.3 1483.9 325.5 1484.2 335.8C1484.3 337.5 1482.7 339.1 1482.8 340.8C1483.5 353.9 1485.5 366.9 1486.7 380.0C1487.3 386.2 1487.8 392.5 1488.3 398.7"/>
<path class="cl" d="M1484.2 335.8L1570.0 334.2"/>
<path class="cl" d="M1568.3 294.7C1568.9 307.9 1569.1 321.1 1570.0 334.2C1571.1 350.6 1572.8 366.9 1574.2 383.3"/>
<path class="cl" d="M1574.2 383.3L1553.3 385.5L1551.7 397.5"/>
<path class="cl" d="M1574.2 383.3L1602.5 382.3"/>
<path class="cl" d="M1650.0 331.5L1634.5 333.3L1633.8 349.2L1619.2 350.0L1618.8 365.0L1602.3 366.5L1602.5 395.8"/>
<path class="cl" d="M1602.5 395.8C1630.6 395.6 1658.6 395.5 1686.7 395.3C1690.0 395.3 1693.4 395.2 1696.7 395.2"/>
<path class="cl" d="M1383.3 404.2C1401.4 404.2 1419.4 404.4 1437.5 404.2C1452.5 404.0 1467.6 404.5 1482.5 403.0C1484.4 402.8 1485.2 400.3 1486.7 399.2C1487.1 398.9 1487.7 398.7 1488.3 398.7C1509.4 398.1 1530.6 397.9 1551.7 397.5"/>
<path class="cl" d="M1551.7 397.5L1562.5 400.0C1562.8 414.4 1562.1 428.9 1563.3 443.3C1563.5 446.3 1565.6 448.9 1566.7 451.7L1578.3 456.7L1580.8 498.3"/>
<path class="cl" d="M1437.5 404.2L1440.8 467.5"/>
<path class="cl" d="M1505.0 399.0L1507.5 465.0"/>
<path class="cl" d="M1610.0 396.5L1612.0 471.5"/>
<path class="cl" d="M1696.7 395.2L1696.7 518.0"/>
<path class="cl" d="M1307.5 445.8C1325.8 445.5 1344.2 445.1 1362.5 445.0C1366.6 445.0 1370.6 445.2 1374.7 445.3"/>
<path class="cl" d="M1303.3 419.5L1306.7 419.5C1307.0 428.3 1307.5 437.0 1307.5 445.8C1307.6 458.9 1306.9 471.9 1307.0 485.0C1307.1 494.2 1307.7 503.3 1308.0 512.5"/>
<path class="cl" d="M1223.3 436.3L1260.0 436.7L1262.8 429.2L1281.7 426.3L1283.0 420.0L1306.7 419.5"/>
<path class="cl" d="M1216.3 410.8L1216.7 424.2L1223.3 426.7L1223.0 447.5L1213.3 449.2L1213.3 477.5"/>
<path class="cl" d="M1143.0 409.2L1214.2 408.7L1216.3 410.8"/>
<path class="cl" d="M1374.7 445.3L1375.8 466.7L1387.5 468.7C1388.1 472.5 1388.9 476.2 1389.2 480.0C1390.2 491.5 1390.6 503.1 1391.3 514.7"/>
<path class="cl" d="M1389.2 480.0L1405.8 477.5L1406.3 470.0C1417.8 469.2 1429.3 468.0 1440.8 467.5C1455.5 466.8 1470.3 466.9 1485.0 466.3C1492.5 466.0 1500.0 465.3 1507.5 465.0C1513.6 464.8 1519.7 464.8 1525.8 464.7"/>
<path class="cl" d="M1143.0 470.3L1202.5 470.0"/>
<path class="cl" d="M1202.5 470.0C1202.8 472.8 1203.2 475.7 1203.3 478.5C1204.3 503.5 1205.0 528.5 1205.8 553.5"/>
<path class="cl" d="M1203.3 478.5C1206.6 478.2 1210.0 477.7 1213.3 477.5C1222.8 476.8 1232.2 476.4 1241.7 475.8L1244.7 483.7L1265.3 484.2L1265.8 489.2L1307.0 485.0"/>
<path class="cl" d="M1308.0 512.5L1285.0 511.7C1284.4 521.1 1283.4 530.6 1283.3 540.0C1283.2 550.3 1284.7 560.5 1284.2 570.8C1283.9 578.1 1281.1 585.2 1280.8 592.5C1280.3 602.8 1281.9 613.0 1281.7 623.3C1281.4 636.7 1280.0 650.0 1279.2 663.3"/>
<path class="cl" d="M1282.5 525.8L1228.3 525.0L1224.2 549.2C1219.7 550.9 1215.4 553.1 1210.8 554.2C1209.2 554.6 1207.5 553.7 1205.8 553.5"/>
<path class="cl" d="M1143.0 555.3L1205.8 553.5"/>
<path class="cl" d="M1308.0 512.5L1368.3 518.3L1370.0 515.2"/>
<path class="cl" d="M1370.0 515.2C1369.2 523.5 1368.4 531.7 1367.5 540.0C1366.0 553.9 1364.5 567.8 1363.0 581.7"/>
<path class="cl" d="M1370.0 515.2C1377.1 515.0 1384.2 514.6 1391.3 514.7C1400.3 514.8 1409.3 515.4 1418.3 515.8"/>
<path class="cl" d="M1418.3 515.8C1418.9 519.4 1419.6 523.0 1420.0 526.7C1420.5 531.1 1420.5 535.6 1420.8 540.0C1421.6 551.1 1422.5 562.2 1423.3 573.3L1432.5 574.2L1431.7 597.5"/>
<path class="cl" d="M1420.0 526.7C1426.7 527.1 1433.3 527.6 1440.0 528.0C1445.6 528.3 1451.1 528.5 1456.7 528.8"/>
<path class="cl" d="M1485.0 466.3L1484.7 479.7L1468.3 485.0L1467.5 518.3L1457.5 520.8L1456.7 534.2L1472.5 536.3L1474.2 545.0C1485.0 545.6 1495.9 546.7 1506.7 546.7C1512.3 546.7 1517.8 545.6 1523.3 545.0L1523.3 515.0L1515.8 514.7L1516.7 499.2L1526.7 499.2L1526.7 485.8L1515.0 483.7L1516.7 476.3L1525.8 474.7L1525.8 464.7"/>
<path class="cl" d="M1526.7 499.2C1541.7 499.5 1556.7 500.2 1571.7 500.0C1574.8 499.9 1577.8 498.8 1580.8 498.3C1587.6 497.1 1594.5 496.1 1601.3 495.0"/>
<path class="cl" d="M1612.0 471.5L1598.3 473.3C1599.3 480.5 1600.4 487.8 1601.3 495.0C1602.4 503.3 1603.8 511.6 1604.2 520.0C1604.5 526.7 1603.3 533.3 1603.3 540.0C1603.3 550.4 1603.9 560.9 1604.2 571.3"/>
<path class="cl" d="M1598.3 473.3L1696.7 466.5"/>
<path class="cl" d="M1604.2 520.0C1630.9 519.6 1657.5 519.3 1684.2 518.7C1688.4 518.6 1692.5 518.1 1696.7 517.8"/>
<path class="cl" d="M1684.2 518.7L1684.0 539.0L1708.3 540.3L1708.5 564.2"/>
<path class="cl" d="M1506.7 546.7C1506.6 552.8 1506.6 558.9 1506.3 565.0C1505.8 576.2 1504.9 587.3 1504.2 598.5"/>
<path class="cl" d="M1506.3 565.0L1555.8 566.3L1558.3 570.0C1573.6 570.4 1588.9 570.8 1604.2 571.3C1605.3 571.3 1606.4 571.6 1607.5 571.7"/>
<path class="cl" d="M1607.5 571.7C1607.5 576.2 1607.6 580.7 1607.5 585.2C1607.3 601.8 1607.0 618.4 1606.7 635.0L1600.8 635.8L1599.7 644.7"/>
<path class="cl" d="M1607.5 585.2C1634.4 585.7 1661.4 586.5 1688.3 586.7C1690.8 586.7 1693.2 586.1 1695.6 585.8"/>
<path class="cl" d="M1696.7 565.0C1700.6 564.7 1704.6 564.3 1708.5 564.2C1724.3 563.9 1740.0 563.7 1755.8 563.7C1756.9 563.7 1758.1 564.0 1759.2 564.2"/>
<path class="cl" d="M1696.7 565.0L1695.6 585.8"/>
<path class="cl" d="M1688.3 586.7L1687.3 634.0L1697.8 634.8C1698.0 641.8 1698.2 648.8 1698.3 655.8C1698.4 662.1 1698.2 668.4 1698.2 674.7"/>
<path class="cl" d="M1698.3 655.8L1717.5 655.0L1718.2 644.5L1735.8 643.3L1736.7 636.5L1750.8 635.2L1752.0 631.2C1754.7 630.2 1757.2 628.6 1760.0 628.2C1765.5 627.4 1771.1 627.7 1776.7 627.5"/>
<path class="cl" d="M1494.2 639.2C1497.2 638.9 1500.3 638.1 1503.3 638.3C1522.5 639.6 1541.6 642.4 1560.8 643.7C1573.7 644.6 1586.7 644.2 1599.7 644.7C1603.4 644.9 1607.1 645.4 1610.8 645.8"/>
<path class="cl" d="M1610.8 645.8L1611.0 662.7L1634.4 664.2L1634.6 674.0"/>
<path class="cl" d="M1634.6 674.0C1655.8 674.2 1677.0 674.1 1698.2 674.7C1701.6 674.8 1704.9 675.6 1708.3 676.0"/>
<path class="cl" d="M1560.8 643.7L1560.8 660.8L1572.5 664.2L1573.3 683.7L1580.0 685.8C1579.3 692.2 1578.5 698.6 1578.0 705.0C1577.7 708.9 1577.9 712.8 1577.8 716.7"/>
<path class="cl" d="M1494.2 674.2C1493.4 689.5 1492.4 704.7 1491.7 720.0C1491.6 723.3 1491.7 726.7 1491.7 730.0L1515.8 730.8L1516.7 725.0L1536.7 724.2L1538.3 716.7L1558.3 715.8L1559.2 705.5L1578.0 705.0"/>
<path class="cl" d="M1577.8 716.7L1598.3 719.7L1599.7 723.7C1605.4 724.1 1611.0 724.9 1616.7 725.0C1624.1 725.2 1631.4 724.8 1638.8 724.7"/>
<path class="cl" d="M1634.6 674.0L1634.2 685.0L1641.0 687.5C1640.4 698.3 1639.8 709.2 1639.2 720.0C1639.1 721.6 1638.8 723.1 1638.8 724.7C1639.0 732.0 1639.6 739.2 1640.0 746.5"/>
<path class="cl" d="M1708.3 676.0L1709.2 696.7L1720.0 699.2L1720.2 712.0"/>
<path class="cl" d="M1720.2 712.0L1739.2 711.8L1739.5 699.2C1741.3 699.7 1743.2 700.1 1745.0 700.8C1747.9 702.0 1750.6 703.5 1753.3 705.0C1756.2 706.6 1758.7 708.8 1761.7 710.0C1763.8 710.8 1766.1 710.5 1768.3 710.8L1773.3 706.7"/>
<path class="cl" d="M1776.7 638.0L1765.8 639.7L1765.0 684.2L1772.5 685.0C1772.8 692.2 1772.2 699.5 1773.3 706.7C1773.6 708.8 1775.6 710.2 1776.7 712.0L1816.7 713.3L1818.3 721.7"/>
<path class="cl" d="M1776.3 580.0L1777.3 642.5"/>
<path class="cl" d="M1777.3 642.5L1855.0 647.0"/>
<path class="cl" d="M1720.2 712.0C1715.7 712.3 1711.2 712.3 1706.7 713.0C1703.5 713.5 1700.6 714.9 1697.5 715.8C1696.7 717.8 1695.1 719.6 1695.0 721.7C1694.8 725.1 1696.5 728.3 1696.7 731.7C1696.8 733.9 1696.1 736.1 1695.8 738.3C1694.1 738.9 1692.6 740.1 1690.8 740.0C1688.2 739.8 1685.8 738.3 1683.3 737.5C1681.1 736.9 1678.9 736.4 1676.7 735.8L1675.8 747.0"/>
<path class="cl" d="M1640.0 746.5C1650.6 746.9 1661.1 747.7 1671.7 747.8C1673.1 747.8 1674.4 747.3 1675.8 747.0"/>
<path class="cl" d="M1671.7 747.8L1671.5 775.8L1682.5 776.5L1683.0 785.0L1699.5 785.8L1698.3 800.0"/>
<path class="cl" d="M1616.7 725.0L1615.8 744.5L1597.5 745.3C1596.9 751.6 1596.1 757.9 1595.8 764.2C1595.5 771.1 1595.8 778.1 1595.8 785.0L1600.8 786.7L1601.5 805.0"/>
<path class="cl" d="M1595.0 805.5C1597.2 805.3 1599.3 805.0 1601.5 805.0C1632.7 804.7 1663.8 804.7 1695.0 804.5"/>
<path class="cl" d="M1514.2 773.3L1534.2 772.5L1535.8 768.3L1547.5 767.5L1549.2 761.7L1595.8 764.2"/>
<path class="cl" d="M1515.8 730.8C1515.5 736.6 1515.2 742.5 1515.0 748.3C1514.7 756.6 1514.5 765.0 1514.2 773.3C1513.7 785.3 1513.1 797.2 1512.5 809.2C1512.4 811.5 1512.2 813.7 1512.0 816.0"/>
<path class="cl" d="M1421.0 739.5C1427.3 739.7 1433.7 739.8 1440.0 740.0C1449.2 740.3 1458.3 740.5 1467.5 740.8L1469.2 745.3L1515.0 748.3"/>
<path class="cl" d="M1512.5 809.2L1530.5 810.8L1531.0 816.7L1548.3 819.0L1549.2 825.0L1570.0 826.7L1571.2 842.5L1594.2 843.0"/>
<path class="cl" d="M1595.0 805.5C1594.7 818.0 1594.4 830.5 1594.2 843.0C1594.2 845.8 1594.2 848.7 1594.2 851.5L1640.0 853.0"/>
<path class="cl" d="M1406.7 810.8C1417.8 811.1 1428.9 811.2 1440.0 811.7C1464.0 812.9 1488.0 814.6 1512.0 816.0"/>
<path class="cl" d="M1508.3 816.5C1508.0 822.4 1507.7 828.3 1507.5 834.2C1507.3 839.5 1507.2 844.7 1507.0 850.0"/>
<path class="cl" d="M1572.0 843.0L1571.0 880.0"/>
<path class="cl" d="M1550.0 901.7L1566.7 903.3L1570.0 920.0C1576.1 921.7 1582.6 922.2 1588.3 925.0C1591.8 926.8 1594.1 930.3 1596.7 933.3C1601.4 938.7 1605.6 944.4 1610.0 950.0"/>
<path class="cl" d="M1550.0 885.8L1565.0 884.2"/>
<path class="cl" d="M1210.8 554.2L1211.7 585.8L1208.3 589.2C1208.3 590.6 1207.8 592.0 1208.3 593.3C1208.9 594.9 1211.2 595.8 1211.3 597.5C1212.2 616.8 1211.3 636.2 1211.3 655.5"/>
<path class="cl" d="M1211.7 586.3C1222.2 586.1 1232.8 584.9 1243.3 585.8C1255.9 586.9 1268.3 590.3 1280.8 592.5"/>
<path class="cl" d="M1284.2 570.8L1323.3 575.0L1324.2 579.7C1337.1 580.4 1350.1 580.7 1363.0 581.7C1368.1 582.1 1373.2 583.0 1378.3 583.7"/>
<path class="cl" d="M1281.7 623.3L1373.3 630.0"/>
<path class="cl" d="M1378.3 583.7C1377.8 591.6 1377.6 599.6 1376.7 607.5C1375.9 615.0 1374.8 622.6 1373.3 630.0C1369.5 648.2 1365.0 666.1 1360.8 684.2"/>
<path class="cl" d="M1376.7 607.5L1431.7 605.8"/>
<path class="cl" d="M1143.0 657.2L1201.7 656.3"/>
<path class="cl" d="M1279.2 669.2L1298.3 670.0L1299.2 673.3L1319.2 675.8L1320.8 680.8C1331.6 682.6 1342.4 685.3 1353.3 686.2C1355.9 686.4 1358.3 684.9 1360.8 684.2"/>
<path class="cl" d="M1353.3 686.2C1353.0 690.8 1353.0 695.4 1352.5 700.0C1351.3 711.1 1349.7 722.2 1348.3 733.3"/>
<path class="cl" d="M1353.3 695.8L1420.8 698.3"/>
<path class="cl" d="M1422.5 670.5C1422.2 680.3 1421.9 690.2 1421.7 700.0C1421.4 713.2 1421.2 726.3 1421.0 739.5"/>
<path class="cl" d="M1143.0 734.7L1199.2 734.2L1203.3 729.7"/>
<path class="cl" d="M1226.7 730.3L1225.8 740.8L1230.0 741.3L1229.2 794.2"/>
<path class="cl" d="M1270.0 730.8C1278.1 731.4 1286.1 732.2 1294.2 732.5C1312.2 733.1 1330.3 731.9 1348.3 733.3C1354.6 733.8 1360.6 736.6 1366.7 738.3"/>
<path class="cl" d="M1294.2 732.5L1291.7 801.7"/>
<path class="cl" d="M1366.7 738.3L1365.0 772.5C1358.9 777.2 1352.5 781.6 1346.7 786.7C1340.8 791.9 1335.4 797.7 1330.0 803.3C1328.2 805.2 1327.2 807.9 1325.0 809.2C1322.5 810.6 1319.5 810.3 1316.7 810.8"/>
<path class="cl" d="M1243.3 800.8C1259.4 801.1 1275.6 800.9 1291.7 801.7C1292.7 801.7 1293.2 803.2 1294.2 803.3C1301.4 803.8 1308.6 803.3 1315.8 803.3C1316.1 805.8 1316.6 808.3 1316.7 810.8C1317.2 825.8 1317.2 840.8 1317.5 855.8"/>
<path class="cl" d="M1421.0 739.5C1417.9 743.6 1414.3 747.3 1411.7 751.7C1408.9 756.4 1407.3 761.7 1405.0 766.7C1404.0 768.8 1402.4 770.7 1401.7 773.0C1400.2 778.0 1398.5 783.1 1398.3 788.3C1398.2 792.5 1400.0 796.6 1400.8 800.8L1406.7 804.2C1407.0 806.4 1407.7 808.6 1407.5 810.8C1406.8 818.9 1405.2 826.9 1404.2 835.0C1403.8 837.8 1403.6 840.5 1403.3 843.3"/>
<path class="cl" d="M1365.0 772.5L1401.7 773.0"/>
<path class="cl" d="M1317.5 855.8C1328.3 855.8 1339.3 857.4 1350.0 855.8C1367.8 853.2 1384.7 845.6 1402.5 843.3C1408.4 842.5 1414.5 844.4 1420.0 846.7C1424.0 848.4 1426.7 852.2 1430.0 855.0"/>
<path class="cl" d="M1294.2 803.3C1293.9 812.2 1294.0 821.1 1293.3 830.0C1291.2 858.6 1288.3 887.2 1285.8 915.8"/>
<path class="cl" d="M1349.2 856.5L1343.3 945.8"/>
<path class="cl" d="M1716.2 261.7C1721.9 261.4 1727.6 261.1 1733.3 260.8C1738.0 260.5 1742.8 260.3 1747.5 260.0L1746.7 244.7L1778.3 241.3L1779.2 226.3L1793.3 225.3"/>
<path class="cl" d="M1791.7 192.5C1792.2 203.4 1792.4 214.4 1793.3 225.3C1794.6 241.6 1797.0 257.9 1798.3 274.2C1799.2 286.3 1799.1 298.4 1800.0 310.5C1800.5 318.1 1801.8 325.7 1802.5 333.3C1803.2 341.1 1803.8 348.9 1804.2 356.7C1804.8 368.1 1804.9 379.4 1805.3 390.8"/>
<path class="cl" d="M1798.3 274.2L1880.0 268.3"/>
<path class="cl" d="M1737.5 312.0L1800.0 310.5"/>
<path class="cl" d="M1804.2 356.7L1885.8 354.2"/>
<path class="cl" d="M1742.0 391.7C1759.1 391.7 1776.2 391.9 1793.3 391.7C1797.3 391.6 1801.3 391.1 1805.3 390.8"/>
<path class="cl" d="M1794.2 405.8L1821.7 404.7L1822.5 400.0L1840.0 400.0L1840.8 405.8L1890.0 405.0"/>
<path class="cl" d="M1796.3 448.3L1823.3 448.3L1824.2 467.5L1835.8 468.3L1835.8 475.0L1855.8 474.2L1857.5 478.3L1870.0 480.0"/>
<path class="cl" d="M1835.8 475.0L1835.3 486.7L1826.7 488.3L1825.8 505.0L1823.3 506.7L1823.0 517.0"/>
<path class="cl" d="M1753.3 469.0L1753.7 489.2L1764.2 490.0C1764.5 498.4 1764.9 506.9 1765.0 515.3C1765.1 526.0 1765.0 536.8 1765.0 547.5L1756.3 550.0L1755.8 563.7"/>
<path class="cl" d="M1765.0 515.3C1784.3 515.9 1803.7 516.3 1823.0 517.0C1828.7 517.2 1834.3 517.7 1840.0 518.0"/>
<path class="cl" d="M1840.0 518.0C1838.6 521.4 1835.9 524.6 1835.8 528.3C1835.4 545.3 1837.7 562.2 1838.7 579.2"/>
<path class="cl" d="M1759.2 564.2L1760.3 579.2C1765.6 579.5 1771.0 580.0 1776.3 580.0C1797.1 580.0 1817.9 579.4 1838.7 579.2C1848.9 579.1 1859.0 579.2 1869.2 579.2"/>
<circle class="dg" cx="1357.5" cy="260" r="8.8"/>
<circle class="dg" cx="1681.7" cy="273.3" r="8.8"/>
<circle class="dg" cx="1671" cy="301" r="8.8"/>
<circle class="dg" cx="1714.6" cy="372.9" r="8.8"/>
<circle class="dg" cx="1743.2" cy="430.5" r="8.8"/>
<circle class="dg" cx="1464.7" cy="635.8" r="8.8"/>
<circle class="dr" cx="1245" cy="683.7" r="8.8"/>
<circle class="dr" cx="1193.3" cy="838.3" r="8.8"/>
</g>
<g id="logo">
<defs>
<clipPath id="sealc"><circle cx="1481.0" cy="897.6" r="50"/></clipPath>
<path id="ringp" d="M 1481.0 952.8000000000001 A 55.2 55.2 0 1 1 1481.0 842.4 A 55.2 55.2 0 1 1 1481.0 952.8000000000001"/>
<linearGradient id="lg1" x1="0" x2="1" y1="0" y2="0"><stop offset="0" stop-color="#d2ac55" stop-opacity="0"/><stop offset=".12" stop-color="#d2ac55"/><stop offset=".88" stop-color="#d2ac55"/><stop offset="1" stop-color="#d2ac55" stop-opacity="0"/></linearGradient>
<linearGradient id="lg2" x1="0" x2="1" y1="0" y2="0"><stop offset="0" stop-color="#b7c6d9" stop-opacity="0"/><stop offset=".15" stop-color="#b7c6d9"/><stop offset=".85" stop-color="#b7c6d9"/><stop offset="1" stop-color="#b7c6d9" stop-opacity="0"/></linearGradient>
<linearGradient id="shg" x1="0" x2="1" y1="0" y2="1"><stop offset="0" stop-color="#f0d57a"/><stop offset=".5" stop-color="#d9b347"/><stop offset="1" stop-color="#b8902e"/></linearGradient>
</defs>
<circle cx="1481.0" cy="897.6" r="67.6" fill="#dba741"/>
<circle cx="1481.0" cy="897.6" r="66.0" fill="#1e5fa2"/>
<circle cx="1481.0" cy="897.6" r="51.8" fill="#e1ad43"/>
<g clip-path="url(#sealc)">
<rect x="1429.0" y="845.6" width="104" height="104" fill="#e2a93a"/>
<polygon points="1472.7,881.3 1421.9,877.8 1422.6,872.0 1472.8,880.8" fill="#f7df96"/>
<polygon points="1473.2,879.2 1424.6,863.6 1426.7,858.1 1473.4,878.7" fill="#f7df96"/>
<polygon points="1474.1,877.2 1430.7,850.4 1434.0,845.7 1474.4,876.8" fill="#f7df96"/>
<polygon points="1475.5,875.5 1439.8,839.2 1444.1,835.3 1475.9,875.2" fill="#f7df96"/>
<polygon points="1477.3,874.3 1451.3,830.4 1456.4,827.7 1477.8,874.0" fill="#f7df96"/>
<polygon points="1479.3,873.4 1464.5,824.6 1470.2,823.2 1479.8,873.3" fill="#f7df96"/>
<polygon points="1481.4,873.1 1478.8,822.2 1484.6,822.2 1482.0,873.1" fill="#f7df96"/>
<polygon points="1483.6,873.3 1493.2,823.2 1498.9,824.6 1484.1,873.4" fill="#f7df96"/>
<polygon points="1485.6,874.0 1507.0,827.7 1512.1,830.4 1486.1,874.3" fill="#f7df96"/>
<polygon points="1487.5,875.2 1519.3,835.3 1523.6,839.2 1487.9,875.5" fill="#f7df96"/>
<polygon points="1489.0,876.8 1529.4,845.7 1532.7,850.4 1489.3,877.2" fill="#f7df96"/>
<polygon points="1490.0,878.7 1536.7,858.1 1538.8,863.6 1490.2,879.2" fill="#f7df96"/>
<polygon points="1490.6,880.8 1540.8,872.0 1541.5,877.8 1490.7,881.3" fill="#f7df96"/>
<circle cx="1481.7" cy="882.1" r="9" fill="#efb23c"/><circle cx="1481.7" cy="882.1" r="6" fill="#f4c352"/>
<polygon points="1429.0,891.6 1441.0,885.6 1455.0,879.6 1461.0,881.1 1469.0,885.6 1479.0,889.6 1485.0,888.6 1495.0,886.6 1507.0,883.6 1517.0,881.6 1525.0,880.1 1533.0,883.6 1533.0,906.6 1429.0,906.6" fill="#1d7d3c"/>
<polygon points="1429.0,892.6 1443.0,887.6 1456.0,880.6 1462.0,882.6 1471.0,888.6 1479.0,893.6 1473.0,897.6 1459.0,899.6 1441.0,898.6 1429.0,900.6" fill="#3fae49"/>
<polygon points="1481.0,891.6 1493.0,887.6 1507.0,884.6 1519.0,882.6 1511.0,888.6 1501.0,893.6 1489.0,899.6 1479.0,902.6 1475.0,899.6" fill="#3fae49"/>
<polygon points="1429.0,898.6 1451.0,897.6 1469.0,900.6 1481.0,903.6 1495.0,899.6 1511.0,894.6 1533.0,889.6 1533.0,906.6 1429.0,906.6" fill="#2b9a44"/>
<rect x="1429.0" y="905.2" width="104" height="4" fill="#1c62a6"/>
<rect x="1429.0" y="908.8000000000001" width="104" height="45" fill="#f2dd9c"/>
<rect x="1436.0" y="919.1" width="90" height="6" fill="#c9b07a" opacity=".55"/>
<rect x="1437.0" y="919.1" width=".7" height="6" fill="#f2dd9c" opacity=".8"/>
<rect x="1439.0" y="919.1" width=".7" height="6" fill="#f2dd9c" opacity=".8"/>
<rect x="1441.0" y="919.1" width=".7" height="6" fill="#f2dd9c" opacity=".8"/>
<rect x="1443.1" y="919.1" width=".7" height="6" fill="#f2dd9c" opacity=".8"/>
<rect x="1445.1" y="919.1" width=".7" height="6" fill="#f2dd9c" opacity=".8"/>
<rect x="1447.1" y="919.1" width=".7" height="6" fill="#f2dd9c" opacity=".8"/>
<rect x="1449.1" y="919.1" width=".7" height="6" fill="#f2dd9c" opacity=".8"/>
<rect x="1451.1" y="919.1" width=".7" height="6" fill="#f2dd9c" opacity=".8"/>
<rect x="1453.2" y="919.1" width=".7" height="6" fill="#f2dd9c" opacity=".8"/>
<rect x="1455.2" y="919.1" width=".7" height="6" fill="#f2dd9c" opacity=".8"/>
<rect x="1457.2" y="919.1" width=".7" height="6" fill="#f2dd9c" opacity=".8"/>
<rect x="1459.2" y="919.1" width=".7" height="6" fill="#f2dd9c" opacity=".8"/>
<rect x="1461.2" y="919.1" width=".7" height="6" fill="#f2dd9c" opacity=".8"/>
<rect x="1463.3" y="919.1" width=".7" height="6" fill="#f2dd9c" opacity=".8"/>
<rect x="1465.3" y="919.1" width=".7" height="6" fill="#f2dd9c" opacity=".8"/>
<rect x="1467.3" y="919.1" width=".7" height="6" fill="#f2dd9c" opacity=".8"/>
<rect x="1469.3" y="919.1" width=".7" height="6" fill="#f2dd9c" opacity=".8"/>
<rect x="1471.3" y="919.1" width=".7" height="6" fill="#f2dd9c" opacity=".8"/>
<rect x="1473.4" y="919.1" width=".7" height="6" fill="#f2dd9c" opacity=".8"/>
<rect x="1475.4" y="919.1" width=".7" height="6" fill="#f2dd9c" opacity=".8"/>
<rect x="1477.4" y="919.1" width=".7" height="6" fill="#f2dd9c" opacity=".8"/>
<rect x="1479.4" y="919.1" width=".7" height="6" fill="#f2dd9c" opacity=".8"/>
<rect x="1481.4" y="919.1" width=".7" height="6" fill="#f2dd9c" opacity=".8"/>
<rect x="1483.5" y="919.1" width=".7" height="6" fill="#f2dd9c" opacity=".8"/>
<rect x="1485.5" y="919.1" width=".7" height="6" fill="#f2dd9c" opacity=".8"/>
<rect x="1487.5" y="919.1" width=".7" height="6" fill="#f2dd9c" opacity=".8"/>
<rect x="1489.5" y="919.1" width=".7" height="6" fill="#f2dd9c" opacity=".8"/>
<rect x="1491.5" y="919.1" width=".7" height="6" fill="#f2dd9c" opacity=".8"/>
<rect x="1493.6" y="919.1" width=".7" height="6" fill="#f2dd9c" opacity=".8"/>
<rect x="1495.6" y="919.1" width=".7" height="6" fill="#f2dd9c" opacity=".8"/>
<rect x="1497.6" y="919.1" width=".7" height="6" fill="#f2dd9c" opacity=".8"/>
<rect x="1499.6" y="919.1" width=".7" height="6" fill="#f2dd9c" opacity=".8"/>
<rect x="1501.6" y="919.1" width=".7" height="6" fill="#f2dd9c" opacity=".8"/>
<rect x="1503.7" y="919.1" width=".7" height="6" fill="#f2dd9c" opacity=".8"/>
<rect x="1505.7" y="919.1" width=".7" height="6" fill="#f2dd9c" opacity=".8"/>
<rect x="1507.7" y="919.1" width=".7" height="6" fill="#f2dd9c" opacity=".8"/>
<rect x="1509.7" y="919.1" width=".7" height="6" fill="#f2dd9c" opacity=".8"/>
<rect x="1511.7" y="919.1" width=".7" height="6" fill="#f2dd9c" opacity=".8"/>
<rect x="1513.8" y="919.1" width=".7" height="6" fill="#f2dd9c" opacity=".8"/>
<rect x="1515.8" y="919.1" width=".7" height="6" fill="#f2dd9c" opacity=".8"/>
<rect x="1517.8" y="919.1" width=".7" height="6" fill="#f2dd9c" opacity=".8"/>
<rect x="1519.8" y="919.1" width=".7" height="6" fill="#f2dd9c" opacity=".8"/>
<rect x="1521.8" y="919.1" width=".7" height="6" fill="#f2dd9c" opacity=".8"/>
<rect x="1523.9" y="919.1" width=".7" height="6" fill="#f2dd9c" opacity=".8"/>
<line x1="1457.5" y1="924.1" x2="1447.5" y2="914.3" stroke="#5e6b2c" stroke-width="1.5" stroke-linecap="round"/>
<line x1="1457.8" y1="924.1" x2="1449.5" y2="914.0" stroke="#5e6b2c" stroke-width="1.5" stroke-linecap="round"/>
<line x1="1458.2" y1="924.1" x2="1451.5" y2="913.5" stroke="#5e6b2c" stroke-width="1.5" stroke-linecap="round"/>
<line x1="1458.5" y1="924.1" x2="1453.5" y2="913.2" stroke="#5e6b2c" stroke-width="1.5" stroke-linecap="round"/>
<line x1="1458.8" y1="924.1" x2="1455.5" y2="912.2" stroke="#5e6b2c" stroke-width="1.5" stroke-linecap="round"/>
<line x1="1459.2" y1="924.1" x2="1457.5" y2="912.0" stroke="#5e6b2c" stroke-width="1.5" stroke-linecap="round"/>
<line x1="1459.5" y1="924.1" x2="1459.5" y2="909.7" stroke="#5e6b2c" stroke-width="1.5" stroke-linecap="round"/>
<line x1="1459.8" y1="924.1" x2="1461.5" y2="911.1" stroke="#5e6b2c" stroke-width="1.5" stroke-linecap="round"/>
<line x1="1460.2" y1="924.1" x2="1463.5" y2="912.7" stroke="#5e6b2c" stroke-width="1.5" stroke-linecap="round"/>
<line x1="1460.5" y1="924.1" x2="1465.5" y2="912.6" stroke="#5e6b2c" stroke-width="1.5" stroke-linecap="round"/>
<line x1="1460.8" y1="924.1" x2="1467.5" y2="913.7" stroke="#5e6b2c" stroke-width="1.5" stroke-linecap="round"/>
<line x1="1461.2" y1="924.1" x2="1469.5" y2="912.7" stroke="#5e6b2c" stroke-width="1.5" stroke-linecap="round"/>
<line x1="1461.5" y1="924.1" x2="1471.5" y2="914.0" stroke="#5e6b2c" stroke-width="1.5" stroke-linecap="round"/>
<line x1="1457.5" y1="924.1" x2="1449.5" y2="936.6" stroke="#56632a" stroke-width="1.5" stroke-linecap="round"/>
<line x1="1458.0" y1="924.1" x2="1452.0" y2="937.0" stroke="#56632a" stroke-width="1.5" stroke-linecap="round"/>
<line x1="1458.5" y1="924.1" x2="1454.5" y2="937.4" stroke="#56632a" stroke-width="1.5" stroke-linecap="round"/>
<line x1="1459.0" y1="924.1" x2="1457.0" y2="937.7" stroke="#56632a" stroke-width="1.5" stroke-linecap="round"/>
<line x1="1459.5" y1="924.1" x2="1459.5" y2="938.1" stroke="#56632a" stroke-width="1.5" stroke-linecap="round"/>
<line x1="1460.0" y1="924.1" x2="1462.0" y2="937.7" stroke="#56632a" stroke-width="1.5" stroke-linecap="round"/>
<line x1="1460.5" y1="924.1" x2="1464.5" y2="937.4" stroke="#56632a" stroke-width="1.5" stroke-linecap="round"/>
<line x1="1461.0" y1="924.1" x2="1467.0" y2="937.0" stroke="#56632a" stroke-width="1.5" stroke-linecap="round"/>
<line x1="1461.5" y1="924.1" x2="1469.5" y2="936.6" stroke="#56632a" stroke-width="1.5" stroke-linecap="round"/>
<ellipse cx="1459.5" cy="913.1" rx="11" ry="3.6" fill="#65742f"/>
<path d="M1489.5 917.6 Q1489.0 910.6 1501.5 910.1 Q1514.0 910.6 1513.5 917.6 Q1510.0 920.6 1508.5 924.6 Q1510.0 931.6 1512.5 937.1 L1490.5 937.4 Q1493.0 931.6 1494.5 924.6 Q1493.0 920.6 1489.5 917.6Z" fill="#b88d3a"/>
<line x1="1492.0" y1="915.1" x2="1495.2" y2="924.1" stroke="#9a752d" stroke-width=".6"/>
<line x1="1495.2" y1="925.1" x2="1491.5" y2="937.1" stroke="#9a752d" stroke-width=".6"/>
<line x1="1494.7" y1="914.4" x2="1497.0" y2="924.1" stroke="#9a752d" stroke-width=".6"/>
<line x1="1497.0" y1="925.1" x2="1494.4" y2="937.1" stroke="#9a752d" stroke-width=".6"/>
<line x1="1497.4" y1="913.7" x2="1498.8" y2="924.1" stroke="#9a752d" stroke-width=".6"/>
<line x1="1498.8" y1="925.1" x2="1497.2" y2="937.1" stroke="#9a752d" stroke-width=".6"/>
<line x1="1500.1" y1="913.0" x2="1500.6" y2="924.1" stroke="#9a752d" stroke-width=".6"/>
<line x1="1500.6" y1="925.1" x2="1500.1" y2="937.1" stroke="#9a752d" stroke-width=".6"/>
<line x1="1502.9" y1="913.0" x2="1502.4" y2="924.1" stroke="#9a752d" stroke-width=".6"/>
<line x1="1502.4" y1="925.1" x2="1502.9" y2="937.1" stroke="#9a752d" stroke-width=".6"/>
<line x1="1505.6" y1="913.7" x2="1504.2" y2="924.1" stroke="#9a752d" stroke-width=".6"/>
<line x1="1504.2" y1="925.1" x2="1505.8" y2="937.1" stroke="#9a752d" stroke-width=".6"/>
<line x1="1508.3" y1="914.4" x2="1506.0" y2="924.1" stroke="#9a752d" stroke-width=".6"/>
<line x1="1506.0" y1="925.1" x2="1508.6" y2="937.1" stroke="#9a752d" stroke-width=".6"/>
<line x1="1511.0" y1="915.1" x2="1507.8" y2="924.1" stroke="#9a752d" stroke-width=".6"/>
<line x1="1507.8" y1="925.1" x2="1511.5" y2="937.1" stroke="#9a752d" stroke-width=".6"/>
<rect x="1494.2" y="923.1" width="14.6" height="2.4" fill="#9a742b"/>
</g>
<text class="serif" font-weight="700" fill="#fff"><textPath href="#ringp" startOffset="9" textLength="331" lengthAdjust="spacing"><tspan font-size="7.9">THE </tspan><tspan font-size="10.9">SEAL </tspan><tspan font-size="7.9">OF THE </tspan><tspan font-size="10.9">ATTORNEY GENERAL </tspan><tspan font-size="7.9">OF THE </tspan><tspan font-size="10.9">STATE </tspan><tspan font-size="7.9">OF </tspan><tspan font-size="10.9">OHIO</tspan></textPath></text>
<text x="1481.3" y="961.2" text-anchor="middle" font-family="DejaVu Sans" font-size="11.5" fill="#e3b04a">★</text>
<text class="serif" x="1560.2" y="897.4" textLength="160.2" lengthAdjust="spacingAndGlyphs" font-weight="700" fill="#000"><tspan font-size="67.3">D</tspan><tspan font-size="57.3">AVE</tspan></text>
<text class="serif" x="1729.6" y="897.4" textLength="159.2" lengthAdjust="spacingAndGlyphs" font-weight="700" fill="#000"><tspan font-size="67.3">Y</tspan><tspan font-size="57.3">OST</tspan></text>
<rect x="1584" y="914.4" width="287" height="1.8" fill="url(#lg1)"/>
<rect x="1598" y="910.3" width="262" height=".9" fill="url(#lg2)"/>
<rect x="1598" y="919.6" width="262" height=".9" fill="url(#lg2)"/>
<path transform="translate(1726.3 916) scale(1.1 1.13) translate(-1725.7 -915.6)" d="M1715.8 907.6 Q1718.6 907.8 1720.4 906 Q1723 907.9 1725.7 907.6 Q1728.4 907.9 1731 906 Q1732.8 907.8 1735.6 907.6 Q1736.4 913.5 1735 917.5 Q1732.8 922.2 1725.7 924.8 Q1718.6 922.2 1716.4 917.5 Q1715 913.5 1715.8 907.6Z" fill="url(#shg)" stroke="#c9a23c" stroke-width=".5"/>
<text class="serif" x="1585.0" y="946" textLength="57.6" lengthAdjust="spacingAndGlyphs" fill="#231f20"><tspan font-size="22.4">O</tspan><tspan font-size="17.2">HIO</tspan></text>
<text class="serif" x="1648.4" y="946" textLength="114.7" lengthAdjust="spacingAndGlyphs" fill="#231f20"><tspan font-size="22.4">A</tspan><tspan font-size="17.2">TTORNEY</tspan></text>
<text class="serif" x="1768.1" y="946" textLength="99.5" lengthAdjust="spacingAndGlyphs" fill="#231f20"><tspan font-size="22.4">G</tspan><tspan font-size="17.2">ENERAL</tspan></text>
</g>
</svg></body></html>
